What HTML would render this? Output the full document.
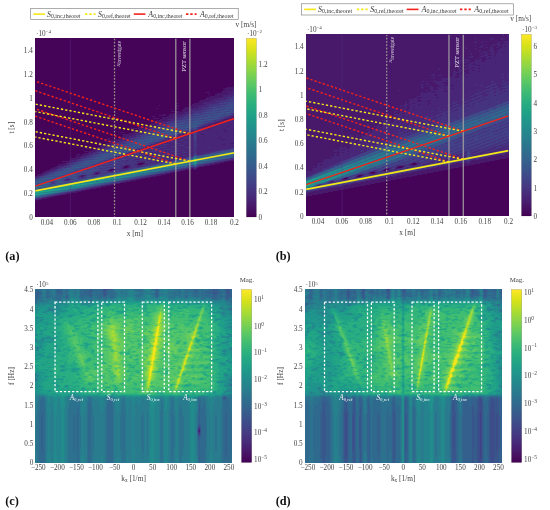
<!DOCTYPE html>
<html><head><meta charset="utf-8"><title>Figure</title>
<style>html,body{margin:0;padding:0;background:#fff}svg{display:block}text{font-family:"Liberation Serif", serif}</style>
</head><body>
<svg width="550" height="510" viewBox="0 0 550 510">
<rect width="550" height="510" fill="#fff"/>
<rect x="35" y="38" width="199" height="179" fill="#450457" shape-rendering="crispEdges"/><g fill="none" stroke-width="1" shape-rendering="crispEdges" transform="translate(0,0.5)"><path d="M233 86h1M227 87h7M223 88h11M225 89h9M223 90h11M222 91h12M206 92h4M221 92h13M217 93h17M208 94h2M215 94h19M215 95h19M210 96h24M207 97h27M206 98h28M204 99h30M200 100h34M199 101h35M199 102h35M176 103h2M194 103h40M192 104h42M159 105h1M176 105h3M192 105h42M175 106h3M189 106h45M185 107h49M156 108h2M175 108h4M184 108h50M171 109h2M183 109h51M181 110h53M171 111h9M182 111h52M176 112h58M172 113h62M163 114h3M169 114h65M159 115h6M169 115h65M152 116h3M167 116h67M162 117h72M153 118h6M162 118h72M147 119h2M160 119h74M157 120h77M150 121h5M156 121h78M154 122h80M151 123h83M150 124h84M136 125h5M150 125h84M138 126h2M145 126h89M138 127h96M131 128h103M138 129h96M132 130h102M131 131h103M120 132h4M133 132h101M129 133h105M122 134h112M123 135h111M122 136h112M119 137h115M108 138h2M118 138h116M104 139h6M116 139h118M109 140h125M104 141h130M98 142h3M109 142h125M106 143h128M98 144h136M98 145h136M86 146h3M100 146h134M97 147h137M86 148h4M95 148h139M94 149h140M91 150h143M84 151h4M89 151h145M88 152h146M84 153h150M77 154h3M82 154h152M76 155h2M81 155h153M77 156h157M75 157h159M70 158h164M71 159h163M69 160h165M62 161h166M66 162h158M63 163h76M144 163h76M58 164h80M142 164h73M58 165h152M56 166h69M128 166h76M53 167h71M127 167h72M51 168h146M50 169h61M114 169h77M194 169h2M47 170h62M112 170h73M44 171h136M43 172h131M41 173h55M98 173h72M38 174h128M37 175h124M35 176h121M35 177h115M35 178h110M35 179h105M35 180h101M35 181h96M35 182h91M35 183h85M35 184h80M35 185h76M35 186h71M35 187h66M35 188h61M35 189h55M35 190h50M35 191h46M35 192h42M35 193h36M35 194h31M35 195h25M35 196h20M35 197h16M35 198h12M35 199h7M35 200h1" stroke="#48186a"/><path d="M233 89h1M232 91h2M228 92h6M232 93h2M228 94h6M223 95h11M224 96h10M222 97h12M217 98h17M211 99h23M214 100h20M210 101h24M204 102h30M203 103h31M204 104h30M201 105h33M197 106h37M199 107h35M193 108h41M189 109h45M190 110h44M188 111h46M184 112h50M185 113h49M182 114h52M177 115h57M173 116h60M174 117h57M171 118h56M168 119h56M228 119h6M169 120h54M224 120h10M166 121h55M228 121h6M160 122h56M220 122h14M158 123h56M216 123h14M231 123h3M158 124h76M154 125h54M211 125h22M150 126h54M209 126h18M229 126h5M150 127h53M204 127h30M148 128h60M210 128h23M144 129h79M226 129h8M142 130h91M142 131h82M228 131h6M138 132h79M218 132h16M135 133h51M187 133h46M136 134h47M184 134h17M204 134h30M132 135h101M129 136h74M204 136h30M124 137h3M129 137h45M175 137h43M221 137h13M125 138h109M121 139h100M225 139h9M118 140h116M119 141h44M164 141h70M115 142h119M111 143h119M111 144h111M225 144h9M108 145h126M105 146h129M102 147h132M102 148h132M98 149h136M96 150h138M96 151h138M93 152h141M89 153h145M88 154h146M86 155h148M82 156h152M80 157h154M80 158h154M76 159h158M72 160h158M71 161h153M70 162h71M143 162h75M67 163h71M145 163h69M66 164h71M143 164h67M64 165h62M130 165h76M59 166h65M129 166h71M57 167h66M129 167h68M57 168h66M126 168h63M194 168h2M54 169h56M115 169h70M50 170h58M113 170h68M49 171h127M47 172h123M44 173h51M99 173h66M42 174h117M41 175h41M84 175h72M37 176h44M83 176h69M35 177h111M35 178h105M35 179h32M69 179h66M35 180h95M35 181h91M35 182h87M35 183h81M35 184h76M35 185h70M35 186h66M35 187h62M35 188h57M35 189h52M35 190h46M35 191h40M35 192h36M35 193h32M35 194h27M35 195h22M35 196h16M35 197h11M35 198h7M35 199h3" stroke="#482576"/><path d="M233 94h1M232 96h2M227 97h7M228 98h6M226 99h8M221 100h13M216 101h18M220 102h14M215 103h19M209 104h25M206 105h28M208 106h26M203 107h31M199 108h35M203 109h31M197 110h37M192 111h42M193 112h41M192 113h42M187 114h47M183 115h49M185 116h44M180 117h49M175 118h50M178 119h43M174 120h46M170 121h48M166 122h48M168 123h41M163 124h45M158 125h48M161 126h41M157 127h42M151 128h48M149 129h48M151 130h40M194 130h3M203 130h1M146 131h42M194 131h4M142 132h45M194 132h3M144 133h39M193 133h5M140 134h39M193 134h4M136 135h42M194 135h3M136 136h40M193 136h4M135 137h37M185 137h3M193 137h4M130 138h38M175 138h5M193 138h4M126 139h41M171 139h2M193 139h4M129 140h35M180 140h3M194 140h3M123 141h38M170 141h6M193 141h4M119 142h40M162 142h5M184 142h3M194 142h2M117 143h40M158 143h3M174 143h6M194 143h3M116 144h37M164 144h5M193 144h4M112 145h37M154 145h12M178 145h6M194 145h3M109 146h39M150 146h7M171 146h5M193 146h4M110 147h35M147 147h2M160 147h7M185 147h4M194 147h2M207 147h2M106 148h35M149 148h11M175 148h4M194 148h3M231 148h3M102 149h36M142 149h12M165 149h7M193 149h3M227 149h7M102 150h35M138 150h6M152 150h12M177 150h2M181 150h4M194 150h2M220 150h14M99 151h35M135 151h3M145 151h13M171 151h7M193 151h4M214 151h20M96 152h34M133 152h16M158 152h10M182 152h5M194 152h2M209 152h25M93 153h35M129 153h12M148 153h14M174 153h6M194 153h3M205 153h29M93 154h60M163 154h9M190 154h1M193 154h4M202 154h32M89 155h33M124 155h22M154 155h11M183 155h3M194 155h40M86 156h32M121 156h17M144 156h14M170 156h6M190 156h44M86 157h64M157 157h11M185 157h49M83 158h58M148 158h13M174 158h4M181 158h52M79 159h32M112 159h23M140 159h13M165 159h7M177 159h54M77 160h31M109 160h17M128 160h19M155 160h9M172 160h55M77 161h60M145 161h13M167 161h54M72 162h65M145 162h5M159 162h56M69 163h30M100 163h37M148 163h61M70 164h65M144 164h61M67 165h57M131 165h6M141 165h5M147 165h55M63 166h59M130 166h7M143 166h55M61 167h61M132 167h59M194 167h2M59 168h62M128 168h58M56 169h53M117 169h63M54 170h53M114 170h63M53 171h45M99 171h10M112 171h61M49 172h46M100 172h68M46 173h48M100 173h62M45 174h48M98 174h58M43 175h38M86 175h65M39 176h40M84 176h64M37 177h44M83 177h60M36 178h102M35 179h31M70 179h62M35 180h30M68 180h58M35 181h87M35 182h84M35 183h79M35 184h73M35 185h67M35 186h62M35 187h58M35 188h54M35 189h49M35 190h43M35 191h38M35 192h32M35 193h29M35 194h24M35 195h19M35 196h13M35 197h8M35 198h3" stroke="#46337f"/><path d="M233 97h1M230 99h4M226 100h8M231 101h3M224 102h10M219 103h15M226 104h8M219 105h15M213 106h21M209 107h9M220 107h14M213 108h21M207 109h27M202 110h32M206 111h28M202 112h32M195 113h37M192 114h8M202 114h31M195 115h35M190 116h35M184 117h40M189 118h34M183 119h36M178 120h35M174 121h40M178 122h33M172 123h35M167 124h36M169 125h34M167 126h33M160 127h37M156 128h41M160 129h36M154 130h34M150 131h34M194 131h2M153 132h31M195 132h1M149 133h32M194 133h2M144 134h33M194 134h2M140 135h34M194 135h2M142 136h31M194 136h2M138 137h31M194 137h2M133 138h32M194 138h2M136 139h28M194 139h2M131 140h31M195 140h1M127 141h32M194 141h2M124 142h30M126 143h28M195 143h1M120 144h31M195 144h1M116 145h31M119 146h26M195 146h1M114 147h29M109 148h30M106 149h29M229 149h5M108 150h27M222 150h12M103 151h29M217 151h17M98 152h30M213 152h21M100 153h24M133 153h3M195 153h1M210 153h24M97 154h27M194 154h2M205 154h29M92 155h29M194 155h3M198 155h36M92 156h24M193 156h41M91 157h24M119 157h5M187 157h47M86 158h27M115 158h2M184 158h46M82 159h27M121 159h5M181 159h44M83 160h22M111 160h10M175 160h48M79 161h25M106 161h9M129 161h2M168 161h51M75 162h26M104 162h1M113 162h10M163 162h50M74 163h24M106 163h11M132 163h1M158 163h49M73 164h21M98 164h11M123 164h2M156 164h45M69 165h24M94 165h8M111 165h9M151 165h47M66 166h24M92 166h6M100 166h13M145 166h52M67 167h19M89 167h17M117 167h3M139 167h50M62 168h22M86 168h13M106 168h4M133 168h50M58 169h50M129 169h48M58 170h21M80 170h21M116 170h3M126 170h46M56 171h19M77 171h18M102 171h5M121 171h49M51 172h43M101 172h4M115 172h50M49 173h44M106 173h54M49 174h18M68 174h23M99 174h55M45 175h19M65 175h15M87 175h61M41 176h37M85 176h8M96 176h48M40 177h39M86 177h55M39 178h39M82 178h54M35 179h30M71 179h59M35 180h29M69 180h55M35 181h19M55 181h64M35 182h17M54 182h61M35 183h17M54 183h57M35 184h71M35 185h65M35 186h59M35 187h54M35 188h51M35 189h47M35 190h41M35 191h36M35 192h30M35 193h25M35 194h22M35 195h17M35 196h12M35 197h6" stroke="#424086"/><path d="M229 102h5M230 104h4M223 105h9M231 106h3M225 107h9M217 108h12M212 109h6M226 109h8M220 110h13M212 111h13M230 111h4M205 112h11M221 112h13M214 113h15M206 114h16M226 114h4M200 115h11M216 115h12M193 116h8M208 116h15M201 117h16M194 118h15M213 118h7M187 119h13M204 119h12M183 120h2M194 120h17M189 121h15M181 122h28M176 123h8M190 123h14M183 124h16M176 125h24M169 126h13M185 126h13M168 127h3M178 127h18M170 128h17M194 128h2M164 129h15M182 129h8M157 130h11M172 130h14M165 131h15M158 132h19M152 133h14M167 133h12M149 134h5M160 134h15M152 135h16M146 136h24M141 137h26M147 138h16M140 139h18M134 140h26M130 141h27M135 142h16M129 143h15M145 143h4M123 144h26M129 145h16M123 146h17M117 147h24M113 148h7M121 148h16M116 149h17M231 149h3M111 150h19M225 150h9M106 151h24M221 151h13M111 152h15M219 152h15M105 153h16M213 153h21M99 154h22M207 154h27M96 155h23M195 155h1M201 155h33M99 156h15M193 156h41M94 157h15M192 157h42M88 158h22M189 158h39M94 159h14M183 159h39M87 160h16M177 160h41M82 161h18M170 161h46M78 162h22M165 162h46M81 163h15M163 163h42M76 164h15M158 164h40M71 165h20M95 165h2M153 165h44M72 166h17M146 166h45M193 166h3M70 167h14M96 167h3M140 167h47M65 168h15M87 168h7M135 168h46M61 169h20M83 169h3M133 169h42M64 170h13M89 170h8M128 170h41M58 171h15M81 171h10M123 171h42M54 172h18M74 172h8M117 172h46M54 173h16M71 173h5M86 173h6M111 173h47M52 174h14M69 174h13M107 174h45M47 175h15M66 175h12M104 175h42M44 176h17M62 176h12M87 176h3M98 176h42M45 177h21M70 177h8M93 177h44M40 178h14M57 178h9M71 178h5M87 178h47M36 179h16M54 179h10M73 179h55M35 180h27M70 180h7M78 180h44M35 181h12M48 181h4M57 181h14M74 181h42M35 182h8M45 182h6M55 182h9M69 182h42M35 183h6M42 183h9M56 183h52M35 184h15M52 184h52M36 185h63M35 186h58M35 187h52M35 188h47M35 189h44M35 190h40M35 191h34M35 192h28M35 193h22M35 194h18M35 195h15M35 196h10M35 197h4" stroke="#3e4c8a"/><path d="M229 107h3M231 109h3M224 110h4M226 112h5M218 113h6M212 114h4M213 116h7M206 117h5M198 118h4M209 119h4M200 120h6M192 121h7M193 123h9M188 124h9M180 125h5M195 125h1M190 126h7M182 127h8M175 128h6M168 129h4M177 130h6M169 131h9M161 132h8M173 133h3M164 134h8M157 135h8M150 136h5M160 137h5M151 138h9M144 139h8M138 140h4M147 141h7M138 142h10M132 143h8M141 144h5M134 145h8M126 146h9M121 147h4M128 148h8M121 149h10M114 150h8M124 151h4M230 151h4M115 152h9M222 152h12M108 153h10M216 153h18M103 154h6M209 154h25M111 155h5M203 155h31M103 156h9M194 156h40M96 157h9M193 157h39M192 158h34M97 159h8M185 159h35M91 160h9M179 160h35M85 161h6M173 161h40M94 162h3M168 162h41M84 163h10M167 163h36M78 164h10M161 164h36M74 165h3M154 165h36M194 165h2M79 166h8M148 166h38M194 166h2M72 167h10M142 167h43M67 168h8M138 168h42M76 169h1M136 169h37M67 170h8M130 170h37M61 171h10M124 171h37M57 172h4M75 172h2M118 172h40M62 173h6M72 173h1M113 173h43M54 174h10M109 174h41M50 175h8M68 175h7M106 175h38M63 176h6M100 176h38M49 177h8M60 177h2M74 177h2M94 177h39M42 178h11M88 178h43M38 179h8M54 179h9M84 179h43M44 180h5M51 180h7M72 180h2M81 180h40M36 181h9M48 181h3M58 181h5M76 181h39M35 182h6M46 182h3M56 182h5M71 182h38M42 183h8M65 183h39M35 184h3M39 184h8M55 184h47M36 185h61M35 186h13M52 186h39M35 187h7M47 187h38M35 188h4M41 188h38M35 189h41M35 190h38M35 191h32M35 192h26M35 193h20M35 194h15M35 195h13M35 196h8M35 197h3" stroke="#38588c"/><path d="M195 123h1M194 126h2M225 152h9M218 153h11M211 154h11M226 154h8M206 155h5M217 155h16M194 156h3M208 156h17M194 157h3M201 157h17M222 157h7M193 158h31M187 159h31M181 160h30M176 161h28M176 162h22M200 162h5M169 163h32M163 164h34M156 165h32M194 165h2M150 166h32M76 167h3M145 167h31M144 168h33M138 169h34M70 170h3M132 170h34M126 171h33M120 172h33M115 173h38M58 174h4M113 174h35M108 175h34M102 176h34M53 177h1M95 177h35M45 178h5M90 178h35M57 179h4M86 179h38M51 180h3M83 180h36M39 181h5M78 181h35M35 182h3M72 182h35M42 183h7M66 183h35M39 184h6M60 184h39M37 185h1M46 185h4M57 185h38M35 186h11M53 186h37M35 187h5M48 187h35M42 188h36M36 189h36M35 190h36M35 191h31M35 192h25M35 193h19M35 194h13M35 195h9M35 196h7M35 197h1" stroke="#33638d"/><path d="M228 152h5M220 153h5M230 154h4M220 155h10M195 156h1M211 156h11M194 157h2M203 157h12M193 158h14M215 158h6M189 159h9M204 159h12M183 160h5M193 160h16M187 161h14M179 162h18M171 163h16M192 163h6M164 164h15M180 164h16M157 165h30M152 166h28M154 167h19M147 168h23M140 169h30M133 170h31M127 171h30M121 172h29M119 173h26M116 174h31M109 175h32M103 176h32M96 177h32M91 178h31M89 179h33M86 180h32M79 181h33M73 182h32M43 183h4M67 183h32M40 184h2M62 184h32M59 185h34M38 186h5M55 186h33M35 187h2M49 187h33M43 188h33M37 189h32M35 190h32M35 191h29M35 192h24M35 193h18M35 194h11M35 195h5M35 196h4" stroke="#2e6d8e"/><path d="M214 156h4M195 157h1M205 157h7M194 158h10M193 159h4M209 159h4M193 160h4M200 160h7M190 161h9M181 162h11M193 162h4M173 163h10M193 163h4M166 164h9M186 164h4M194 164h2M160 165h6M176 165h9M166 166h12M157 167h14M149 168h14M142 169h13M163 169h4M135 170h12M152 170h10M129 171h27M124 172h3M128 172h2M131 172h18M125 173h17M118 174h17M111 175h28M104 176h30M98 177h29M94 178h26M93 179h21M87 180h29M80 181h31M74 182h30M68 183h29M64 184h27M62 185h26M56 186h31M50 187h31M44 188h31M38 189h30M35 190h27M35 191h27M35 192h22M35 193h16M35 194h10M35 195h4M35 196h1" stroke="#2a778e"/><path d="M194 158h3M193 159h4M194 160h3M192 161h5M185 162h3M194 162h2M176 163h4M194 163h3M168 164h4M194 164h2M180 165h1M169 166h6M160 167h9M151 168h10M143 169h9M136 170h8M156 170h4M131 171h4M145 171h9M136 172h11M127 173h13M119 174h13M112 175h12M133 175h3M106 176h10M122 176h10M100 177h7M112 177h13M103 178h15M95 179h16M88 180h16M81 181h15M98 181h11M75 182h28M70 183h26M70 184h19M64 185h19M58 186h26M51 187h29M45 188h28M40 189h27M38 190h22M35 191h18M35 192h21M35 193h15M35 194h8M35 195h2" stroke="#26828e"/><path d="M194 158h2M194 159h2M194 160h2M193 161h4M194 162h2M194 163h2M154 168h3M146 169h3M139 172h6M129 173h9M121 174h9M114 175h8M107 176h6M126 176h3M115 177h8M106 178h11M97 179h13M89 180h13M83 181h10M77 182h8M92 182h9M72 183h2M82 183h12M73 184h14M66 185h15M59 186h14M52 187h13M70 187h8M46 188h10M58 188h14M42 189h23M42 190h16M35 191h16M35 192h9M48 192h5M35 193h14M35 194h7M35 195h1" stroke="#228b8d"/><path d="M195 158h1M194 159h2M194 160h2M194 161h3M194 162h2M194 163h2M133 173h1M124 174h3M116 175h4M118 177h3M108 178h7M99 179h8M91 180h9M84 181h7M79 182h3M85 183h8M76 184h10M67 185h12M60 186h10M53 187h9M47 188h7M62 188h8M53 189h11M44 190h13M36 191h13M35 192h7M40 193h7M35 194h6" stroke="#1f958b"/><path d="M194 159h2M195 160h1M194 161h2M102 179h2M94 180h2M78 184h6M69 185h8M61 186h7M55 187h5M66 188h2M55 189h7M46 190h9M37 191h11M35 192h5M35 194h5" stroke="#1fa088"/><path d="M194 161h2M72 185h2M64 186h2M48 190h5M39 191h7M35 192h3M35 194h3" stroke="#23a983"/><path d="M195 161h1" stroke="#2eb37c"/></g>
<clipPath id="clip35"><rect x="35.20" y="38.40" width="199.20" height="178.60"/></clipPath>
<g clip-path="url(#clip35)" fill="none">
<line x1="70.59" y1="38.40" x2="70.59" y2="217.00" stroke="#5a3a8a" stroke-width="0.8" opacity="0.45"/>
<line x1="114.53" y1="38.40" x2="114.53" y2="217.00" stroke="#93908c" stroke-width="1.3" stroke-dasharray="1.8 1.5"/>
<line x1="175.81" y1="38.40" x2="175.81" y2="217.00" stroke="#a19ea1" stroke-width="1.2"/>
<line x1="189.87" y1="38.40" x2="189.87" y2="217.00" stroke="#a19ea1" stroke-width="1.2"/>
<line x1="175.81" y1="163.92" x2="35.20" y2="116.19" stroke="#f3221b" stroke-width="1.4" stroke-dasharray="2.3 2.0"/>
<line x1="189.87" y1="161.23" x2="35.20" y2="108.73" stroke="#f3221b" stroke-width="1.4" stroke-dasharray="2.3 2.0"/>
<line x1="175.81" y1="138.44" x2="35.20" y2="90.72" stroke="#f3221b" stroke-width="1.4" stroke-dasharray="2.3 2.0"/>
<line x1="189.87" y1="133.67" x2="35.20" y2="81.17" stroke="#f3221b" stroke-width="1.4" stroke-dasharray="2.3 2.0"/>
<line x1="175.81" y1="163.92" x2="35.20" y2="137.03" stroke="#f6e716" stroke-width="1.4" stroke-dasharray="2.3 2.0"/>
<line x1="189.87" y1="161.23" x2="35.20" y2="131.65" stroke="#f6e716" stroke-width="1.4" stroke-dasharray="2.3 2.0"/>
<line x1="175.81" y1="138.44" x2="35.20" y2="111.55" stroke="#f6e716" stroke-width="1.4" stroke-dasharray="2.3 2.0"/>
<line x1="189.87" y1="133.67" x2="35.20" y2="104.09" stroke="#f6e716" stroke-width="1.4" stroke-dasharray="2.3 2.0"/>
<line x1="35.20" y1="186.16" x2="234.40" y2="118.56" stroke="#f3221b" stroke-width="1.5"/>
<line x1="35.20" y1="190.81" x2="234.40" y2="152.71" stroke="#f6e716" stroke-width="1.7"/>
</g>
<text transform="translate(120.13,40.80) rotate(-90)" font-size="6.4" fill="#cfc8d6" text-anchor="end" font-style="italic">x<tspan font-size="5.3" dy="1.2" font-style="normal">investigate</tspan></text>
<text transform="translate(185.74,41.60) rotate(-90)" font-size="6.6" fill="#ece8f0" text-anchor="end">PZT sensor</text>
<text x="32.80" y="219.80" font-size="7.20" text-anchor="end" fill="#444">0</text>
<text x="32.80" y="195.99" font-size="7.20" text-anchor="end" fill="#444">0.2</text>
<text x="32.80" y="172.17" font-size="7.20" text-anchor="end" fill="#444">0.4</text>
<text x="32.80" y="148.36" font-size="7.20" text-anchor="end" fill="#444">0.6</text>
<text x="32.80" y="124.55" font-size="7.20" text-anchor="end" fill="#444">0.8</text>
<text x="32.80" y="100.73" font-size="7.20" text-anchor="end" fill="#444">1</text>
<text x="32.80" y="76.92" font-size="7.20" text-anchor="end" fill="#444">1.2</text>
<text x="32.80" y="53.11" font-size="7.20" text-anchor="end" fill="#444">1.4</text>
<text x="46.92" y="224.80" font-size="7.20" text-anchor="middle" fill="#444">0.04</text>
<text x="70.35" y="224.80" font-size="7.20" text-anchor="middle" fill="#444">0.06</text>
<text x="93.79" y="224.80" font-size="7.20" text-anchor="middle" fill="#444">0.08</text>
<text x="117.22" y="224.80" font-size="7.20" text-anchor="middle" fill="#444">0.1</text>
<text x="140.66" y="224.80" font-size="7.20" text-anchor="middle" fill="#444">0.12</text>
<text x="164.09" y="224.80" font-size="7.20" text-anchor="middle" fill="#444">0.14</text>
<text x="187.53" y="224.80" font-size="7.20" text-anchor="middle" fill="#444">0.16</text>
<text x="210.96" y="224.80" font-size="7.20" text-anchor="middle" fill="#444">0.18</text>
<text x="234.40" y="224.80" font-size="7.20" text-anchor="middle" fill="#444">0.2</text>
<text x="36.00" y="35.80" font-size="7.20" text-anchor="start" fill="#444">·10<tspan font-size="5.00" dy="-2.70">−4</tspan></text>
<text x="134.80" y="236.00" font-size="7.40" text-anchor="middle" fill="#444">x [m]</text>
<text transform="translate(13.60,127.70) rotate(-90)" font-size="7.4" fill="#444" text-anchor="middle">t [s]</text>
<linearGradient id="cb35" x1="0" y1="0" x2="0" y2="1"><stop offset="0.000" stop-color="#fde725"/><stop offset="0.062" stop-color="#d8e219"/><stop offset="0.125" stop-color="#addc30"/><stop offset="0.188" stop-color="#84d44b"/><stop offset="0.250" stop-color="#5ec962"/><stop offset="0.312" stop-color="#3fbc73"/><stop offset="0.375" stop-color="#28ae80"/><stop offset="0.438" stop-color="#1fa088"/><stop offset="0.500" stop-color="#21918c"/><stop offset="0.562" stop-color="#26828e"/><stop offset="0.625" stop-color="#2c728e"/><stop offset="0.688" stop-color="#33638d"/><stop offset="0.750" stop-color="#3b528b"/><stop offset="0.812" stop-color="#424086"/><stop offset="0.875" stop-color="#472d7b"/><stop offset="0.938" stop-color="#48186a"/><stop offset="1.000" stop-color="#440154"/></linearGradient>
<rect x="246.40" y="38.40" width="10.00" height="178.60" fill="url(#cb35)" stroke="#000" stroke-opacity="0.4" stroke-width="0.35"/>
<text x="258.60" y="219.90" font-size="7.20" text-anchor="start" fill="#444">0</text>
<text x="258.60" y="194.40" font-size="7.20" text-anchor="start" fill="#444">0.2</text>
<text x="258.60" y="168.90" font-size="7.20" text-anchor="start" fill="#444">0.4</text>
<text x="258.60" y="143.40" font-size="7.20" text-anchor="start" fill="#444">0.6</text>
<text x="258.60" y="117.90" font-size="7.20" text-anchor="start" fill="#444">0.8</text>
<text x="258.60" y="92.40" font-size="7.20" text-anchor="start" fill="#444">1</text>
<text x="258.60" y="66.90" font-size="7.20" text-anchor="start" fill="#444">1.2</text>
<text x="235.60" y="26.50" font-size="7.30" text-anchor="start" fill="#444">v [m/s]</text>
<text x="247.00" y="35.50" font-size="7.20" text-anchor="start" fill="#444">·10<tspan font-size="5.00" dy="-2.70">−2</tspan></text>
<rect x="30.70" y="8.60" width="207.50" height="11.00" fill="#fff" stroke="#777" stroke-width="0.6"/>
<line x1="33.40" y1="14.10" x2="45.00" y2="14.10" stroke="#f6e716" stroke-width="1.6"/>
<text x="47.00" y="16.50" font-size="7.90" text-anchor="start" fill="#3a3a3a" font-style="italic">S<tspan font-size="5.90" dy="1.30" font-style="normal">0,inc,theoret</tspan></text>
<line x1="85.00" y1="14.10" x2="95.60" y2="14.10" stroke="#f6e716" stroke-width="1.6" stroke-dasharray="2.4 1.9"/>
<text x="98.00" y="16.50" font-size="7.90" text-anchor="start" fill="#3a3a3a" font-style="italic">S<tspan font-size="5.90" dy="1.30" font-style="normal">0,ref,theoret</tspan></text>
<line x1="133.80" y1="14.10" x2="145.40" y2="14.10" stroke="#f3221b" stroke-width="1.6"/>
<text x="148.30" y="16.50" font-size="7.90" text-anchor="start" fill="#3a3a3a" font-style="italic">A<tspan font-size="5.90" dy="1.30" font-style="normal">0,inc,theoret</tspan></text>
<line x1="186.00" y1="14.10" x2="196.60" y2="14.10" stroke="#f3221b" stroke-width="1.6" stroke-dasharray="2.4 1.9"/>
<text x="200.00" y="16.50" font-size="7.90" text-anchor="start" fill="#3a3a3a" font-style="italic">A<tspan font-size="5.90" dy="1.30" font-style="normal">0,ref,theoret</tspan></text>
<rect x="306" y="34" width="203" height="182" fill="#450457" shape-rendering="crispEdges"/><g fill="none" stroke-width="1" shape-rendering="crispEdges" transform="translate(0,0.5)"><path d="M306 34h79M387 34h122M306 35h203M306 36h203M306 37h203M306 38h203M306 39h203M306 40h203M306 41h203M306 42h203M306 43h203M306 44h203M306 45h203M306 46h203M306 47h203M306 48h203M306 49h203M306 50h203M306 51h203M306 52h203M306 53h203M306 54h203M306 55h203M306 56h203M306 57h203M306 58h203M306 59h203M306 60h203M306 61h203M306 62h203M306 63h203M306 64h203M306 65h203M306 66h203M306 67h203M306 68h203M306 69h203M306 70h203M306 71h203M306 72h203M306 73h203M306 74h203M306 75h203M306 76h203M306 77h203M306 78h203M306 79h203M306 80h203M306 81h203M306 82h203M306 83h203M306 84h203M306 85h203M306 86h203M306 87h203M306 88h203M306 89h203M306 90h203M306 91h203M306 92h203M306 93h203M306 94h203M306 95h203M306 96h203M306 97h203M306 98h203M306 99h203M306 100h203M306 101h203M306 102h203M306 103h203M306 104h203M306 105h203M306 106h203M306 107h203M306 108h203M306 109h203M306 110h203M306 111h203M306 112h203M306 113h203M306 114h203M306 115h203M306 116h203M306 117h203M306 118h203M306 119h203M306 120h203M306 121h203M306 122h203M306 123h203M306 124h203M306 125h203M306 126h203M306 127h203M306 128h203M306 129h203M306 130h203M306 131h203M306 132h203M306 133h203M306 134h203M306 135h203M306 136h203M306 137h203M306 138h203M306 139h203M306 140h203M306 141h203M306 142h203M306 143h203M306 144h203M306 145h203M306 146h203M306 147h203M306 148h203M306 149h203M306 150h203M306 151h203M306 152h203M306 153h203M306 154h203M306 155h203M306 156h203M306 157h203M306 158h200M306 159h194M306 160h189M306 161h184M306 162h179M306 163h107M416 163h64M306 164h106M416 164h58M306 165h164M306 166h93M403 166h61M306 167h91M402 167h57M306 168h147M306 169h79M389 169h59M306 170h78M387 170h56M306 171h132M306 172h65M375 172h58M306 173h66M374 173h53M306 174h116M306 175h52M362 175h55M306 176h51M360 176h52M306 177h100M306 178h38M347 178h54M306 179h90M306 180h85M306 181h79M306 182h74M306 183h69M306 184h64M306 185h59M306 186h53M306 187h48M306 188h43M306 189h38M306 190h32M306 191h27M306 192h22M306 193h17M306 194h12M306 195h6M306 196h1" stroke="#48186a"/><path d="M502 34h2M507 34h2M475 35h1M502 35h2M507 35h2M507 36h2M508 37h1M475 38h1M491 38h3M501 38h4M475 39h1M490 39h3M501 39h2M508 39h1M475 41h2M482 41h1M485 41h2M503 41h6M474 42h3M481 42h2M497 42h4M505 42h4M497 43h3M505 43h3M486 44h1M493 44h7M502 44h7M474 45h2M481 45h3M491 45h3M498 45h7M506 45h3M465 46h1M480 46h3M491 46h1M498 46h1M503 46h1M506 46h3M465 47h1M479 47h3M486 47h2M490 47h3M496 47h3M502 47h7M458 48h2M465 48h2M475 48h2M490 48h4M500 48h9M490 49h3M499 49h10M479 50h2M488 50h6M497 50h12M469 51h2M479 51h2M483 51h5M490 51h5M497 51h12M482 52h4M490 52h4M498 52h5M505 52h4M471 53h1M480 53h3M485 53h3M490 53h4M496 53h13M470 54h2M481 54h1M484 54h5M491 54h18M482 55h6M491 55h3M496 55h13M470 56h4M480 56h4M486 56h8M495 56h14M460 57h2M468 57h5M478 57h3M485 57h5M491 57h18M486 58h2M491 58h18M463 59h5M475 59h2M479 59h3M487 59h22M443 60h1M453 60h2M459 60h11M475 60h7M485 60h24M458 61h3M466 61h3M475 61h6M485 61h24M449 62h2M454 62h2M457 62h4M464 62h4M471 62h2M474 62h21M496 62h13M449 63h2M453 63h3M458 63h3M464 63h1M469 63h5M475 63h34M449 64h2M459 64h1M468 64h4M476 64h33M449 65h1M459 65h1M465 65h12M480 65h29M454 66h1M459 66h2M464 66h3M468 66h41M459 67h2M468 67h4M474 67h5M480 67h29M439 68h1M448 68h2M458 68h3M465 68h6M473 68h5M480 68h29M438 69h2M454 69h1M458 69h3M463 69h4M469 69h40M454 70h1M459 70h3M469 70h3M475 70h9M485 70h24M453 71h3M458 71h4M468 71h10M480 71h29M448 72h2M453 72h8M463 72h3M469 72h9M479 72h30M453 73h3M462 73h3M469 73h40M432 74h3M441 74h1M453 74h3M459 74h3M465 74h44M430 75h5M438 75h4M453 75h4M459 75h2M462 75h47M452 76h3M460 76h6M468 76h41M433 77h2M448 77h7M458 77h51M431 78h3M441 78h68M442 79h67M434 80h1M442 80h4M448 80h8M457 80h52M422 81h2M426 81h2M433 81h13M447 81h62M422 82h1M436 82h6M448 82h61M426 83h2M435 83h10M449 83h60M421 84h2M426 84h3M438 84h7M448 84h4M453 84h56M421 85h2M439 85h4M447 85h4M454 85h55M421 86h2M429 86h3M437 86h1M441 86h11M453 86h56M421 87h3M430 87h4M438 87h71M422 88h1M430 88h3M438 88h6M446 88h6M454 88h55M430 89h3M437 89h72M398 90h2M426 90h2M431 90h14M447 90h62M431 91h2M436 91h8M447 91h62M421 92h1M427 92h5M435 92h74M421 93h88M421 94h14M438 94h71M420 95h14M437 95h72M417 96h92M416 97h1M422 97h14M439 97h70M414 98h3M420 98h89M409 99h9M419 99h90M409 100h4M414 100h3M422 100h7M431 100h78M410 101h7M421 101h5M430 101h79M405 102h2M409 102h100M405 103h2M409 103h3M415 103h13M431 103h78M404 104h4M410 104h8M420 104h7M429 104h80M400 105h1M402 105h6M409 105h100M400 106h2M403 106h4M409 106h4M415 106h94M400 107h1M405 107h2M410 107h99M394 108h4M401 108h6M409 108h100M394 109h2M401 109h5M409 109h4M415 109h94M405 110h104M395 111h3M400 111h1M403 111h106M394 112h2M400 112h109M399 113h3M405 113h104M388 114h2M394 114h115M394 115h115M384 116h1M394 116h1M398 116h4M404 116h105M383 117h2M388 117h2M394 117h115M394 118h115M384 119h1M394 119h115M373 120h1M378 120h2M382 120h9M394 120h115M383 121h7M394 121h115M383 122h5M391 122h6M399 122h110M372 123h3M380 123h129M367 124h2M378 124h2M382 124h127M366 125h3M377 125h2M383 125h126M365 126h4M374 126h5M382 126h4M387 126h122M377 127h8M387 127h122M368 128h1M376 128h5M382 128h127M367 129h3M374 129h135M372 130h13M387 130h122M368 131h2M372 131h137M367 132h3M371 132h138M368 133h1M370 133h139M368 134h141M350 135h3M357 135h1M361 135h2M365 135h144M351 136h1M356 136h2M362 136h147M351 137h1M356 137h1M361 137h148M350 138h3M355 138h3M359 138h150M350 139h1M355 139h6M363 139h146M354 140h2M360 140h149M351 141h4M358 141h151M350 142h4M357 142h152M351 143h5M359 143h150M350 144h159M350 145h159M351 146h158M339 147h3M344 147h3M350 147h159M340 148h6M349 148h160M339 149h3M345 149h164M333 150h8M343 150h5M349 150h160M334 151h3M339 151h9M349 151h160M340 152h2M344 152h165M335 153h2M339 153h3M343 153h164M334 154h3M340 154h165M334 155h2M339 155h158M503 155h1M330 156h2M334 156h158M332 157h156M331 158h153M324 159h155M324 160h148M323 161h147M322 162h140M464 162h6M318 163h94M418 163h38M459 163h1M467 163h2M318 164h2M323 164h87M417 164h35M317 165h3M321 165h91M414 165h33M313 166h2M317 166h81M404 166h36M317 167h80M403 167h33M313 168h75M389 168h7M399 168h32M312 169h72M390 169h36M313 170h70M388 170h33M306 171h5M312 171h105M306 172h64M376 172h35M308 173h62M375 173h30M307 174h94M306 175h52M363 175h34M306 176h51M361 176h29M392 176h4M306 177h41M348 177h37M306 178h37M348 178h32M306 179h36M346 179h29M306 180h64M306 181h25M333 181h32M306 182h54M306 183h47M306 184h45M306 185h39M348 185h1M306 186h36M343 186h1M306 187h28M306 188h22M306 189h18M306 190h13M306 191h7M306 192h3M306 193h2" stroke="#482576"/><path d="M502 74h2M501 75h1M507 75h2M502 77h2M501 78h1M508 78h1M503 80h2M491 81h3M502 81h2M481 82h1M491 82h1M505 82h4M494 83h3M503 83h4M475 84h2M491 84h5M501 84h4M507 84h2M474 85h1M481 85h2M490 85h3M505 85h4M487 86h4M495 86h3M503 86h6M485 87h3M491 87h6M501 87h8M490 88h3M498 88h2M506 88h3M487 89h5M496 89h3M503 89h6M477 90h2M484 90h5M491 90h8M501 90h8M483 91h3M490 91h4M497 91h7M507 91h2M479 92h4M487 92h6M496 92h5M503 92h6M469 93h1M476 93h5M486 93h13M501 93h8M474 94h5M490 94h5M496 94h13M464 95h1M472 95h2M479 95h4M488 95h6M496 95h13M470 96h3M477 96h6M485 96h24M475 97h4M482 97h7M490 97h19M465 98h1M472 98h4M480 98h5M487 98h22M461 99h3M470 99h5M477 99h6M485 99h24M460 100h1M467 100h3M474 100h6M483 100h7M491 100h18M449 101h1M456 101h1M464 101h4M472 101h6M480 101h29M453 102h4M463 102h4M469 102h40M443 103h1M452 103h3M468 103h5M475 103h34M448 104h2M456 104h4M464 104h8M473 104h15M489 104h20M447 105h3M453 105h5M462 105h5M470 105h39M452 106h3M459 106h7M468 106h5M474 106h35M448 107h4M456 107h6M465 107h6M473 107h36M438 108h2M447 108h4M453 108h56M444 109h1M452 109h4M459 109h7M467 109h42M443 110h1M448 110h6M457 110h6M465 110h44M431 111h2M439 111h3M446 111h6M454 111h55M443 112h5M451 112h58M442 113h4M449 113h7M457 113h52M431 114h2M438 114h7M446 114h63M428 115h1M436 115h4M443 115h66M426 116h3M435 116h3M441 116h6M448 116h8M457 116h52M424 117h4M430 117h4M438 117h71M427 118h5M437 118h72M426 119h3M434 119h6M441 119h6M448 119h61M423 120h5M432 120h4M438 120h7M447 120h62M422 121h1M430 121h4M437 121h72M418 122h3M426 122h3M434 122h75M416 123h4M423 123h5M431 123h78M415 124h2M420 124h6M428 124h6M436 124h73M411 125h1M418 125h5M426 125h6M434 125h75M408 126h3M415 126h15M431 126h78M405 127h3M413 127h5M421 127h88M410 128h6M419 128h5M426 128h83M408 129h5M415 129h94M398 130h2M406 130h2M414 130h95M403 131h3M410 131h99M399 132h5M408 132h5M415 132h94M398 133h4M405 133h104M402 134h5M410 134h99M392 135h4M399 135h110M392 136h2M398 136h111M389 137h1M396 137h113M378 138h1M384 138h2M393 138h4M398 138h111M383 139h2M389 139h120M388 140h121M377 141h3M384 141h125M382 142h4M388 142h121M380 143h5M386 143h123M378 144h131M376 145h124M502 145h6M372 146h3M378 146h127M371 147h123M496 147h6M506 147h3M367 148h3M373 148h119M495 148h5M504 148h3M367 149h1M371 149h110M482 149h7M492 149h5M361 150h3M367 150h111M480 150h6M490 150h4M500 150h3M505 150h4M360 151h3M366 151h109M478 151h5M487 151h4M496 151h13M363 152h102M466 152h6M476 152h4M485 152h2M492 152h14M355 153h1M360 153h102M464 153h7M473 153h4M484 153h2M489 153h14M351 154h2M358 154h101M462 154h13M480 154h17M351 155h1M356 155h100M459 155h5M467 155h5M476 155h15M353 156h100M457 156h4M466 156h22M350 157h101M454 157h4M464 157h19M349 158h91M442 158h6M452 158h3M460 158h18M346 159h99M448 159h4M456 159h16M343 160h99M447 160h23M341 161h91M434 161h5M444 161h18M468 161h1M338 162h75M416 162h13M432 162h5M439 162h17M336 163h74M420 163h6M430 163h22M334 164h74M418 164h5M427 164h20M331 165h71M406 165h4M416 165h25M329 166h68M405 166h5M413 166h24M327 167h69M403 167h4M410 167h22M324 168h62M391 168h4M401 168h4M406 168h21M322 169h62M390 169h4M397 169h25M322 170h60M393 170h24M318 171h54M376 171h5M386 171h3M390 171h22M316 172h53M379 172h27M314 173h54M377 173h24M312 174h48M364 174h6M375 174h21M310 175h47M364 175h28M308 176h48M362 176h23M306 177h40M349 177h6M358 177h22M306 178h37M349 178h28M306 179h35M347 179h23M306 180h60M306 181h24M334 181h27M306 182h24M333 182h22M306 183h45M306 184h40M306 185h12M319 185h22M306 186h30M306 187h24M306 188h19M306 189h14M306 190h9M306 191h4" stroke="#46337f"/><path d="M506 101h3M497 102h2M503 102h6M502 103h7M498 104h11M496 105h13M494 106h15M491 107h18M488 108h21M486 109h23M482 110h27M480 111h29M477 112h32M474 113h35M471 114h38M469 115h40M467 116h42M459 117h1M464 117h45M462 118h47M454 119h1M459 119h50M451 120h2M455 120h51M507 120h2M453 121h50M505 121h4M450 122h50M503 122h5M442 123h3M448 123h50M500 123h6M439 124h3M445 124h49M497 124h6M506 124h3M437 125h3M442 125h50M495 125h5M503 125h6M434 126h55M491 126h8M501 126h5M432 127h3M436 127h51M490 127h6M497 127h7M507 127h2M430 128h54M487 128h6M495 128h5M504 128h5M426 129h56M484 129h14M502 129h5M423 130h56M481 130h7M490 130h5M499 130h6M507 130h2M421 131h4M426 131h50M479 131h5M488 131h5M497 131h5M504 131h5M418 132h56M476 132h6M485 132h7M493 132h7M502 132h7M415 133h56M474 133h5M482 133h6M490 133h7M500 133h5M507 133h2M412 134h56M471 134h6M480 134h6M488 134h6M497 134h6M506 134h3M410 135h56M468 135h6M476 135h7M485 135h15M502 135h7M407 136h56M465 136h7M474 136h7M483 136h6M491 136h7M500 136h6M508 136h1M404 137h56M464 137h5M471 137h7M480 137h6M489 137h6M497 137h5M507 137h2M401 138h57M461 138h6M468 138h16M486 138h7M495 138h5M504 138h5M399 139h57M458 139h14M474 139h7M484 139h5M493 139h5M502 139h3M396 140h57M455 140h6M463 140h7M473 140h5M481 140h5M490 140h5M499 140h4M508 140h1M393 141h65M461 141h7M469 141h7M478 141h6M487 141h5M496 141h5M506 141h2M390 142h58M449 142h7M459 142h14M476 142h6M485 142h5M494 142h4M502 142h4M388 143h57M447 143h7M456 143h5M464 143h6M474 143h5M482 143h5M491 143h4M501 143h2M385 144h75M462 144h5M470 144h6M480 144h4M488 144h5M498 144h2M383 145h66M450 145h7M458 145h8M468 145h5M477 145h4M486 145h4M496 145h1M380 146h66M447 146h7M457 146h5M465 146h6M475 146h4M484 146h3M377 147h74M453 147h8M463 147h5M472 147h4M481 147h3M375 148h66M442 148h7M451 148h6M460 148h6M470 148h3M479 148h2M373 149h66M440 149h6M449 149h6M458 149h4M467 149h3M370 150h74M446 150h6M454 150h6M464 150h5M367 151h74M443 151h6M453 151h4M463 151h2M468 151h2M365 152h64M432 152h7M442 152h4M450 152h5M460 152h1M467 152h3M495 152h2M362 153h57M420 153h8M429 153h7M437 153h6M448 153h4M458 153h1M467 153h3M491 153h4M360 154h65M427 154h6M436 154h5M446 154h3M455 154h1M467 154h3M489 154h2M358 155h64M425 155h5M434 155h4M443 155h2M467 155h3M478 155h3M485 155h2M355 156h64M421 156h6M431 156h4M440 156h3M450 156h1M467 156h3M474 156h5M352 157h65M419 157h6M428 157h5M438 157h2M467 157h9M350 158h63M417 158h5M426 158h4M435 158h3M462 158h2M466 158h6M348 159h64M414 159h5M423 159h4M433 159h2M458 159h5M466 159h4M346 160h55M402 160h7M411 160h6M421 160h3M454 160h6M468 160h1M344 161h54M400 161h6M409 161h4M419 161h3M428 161h1M445 161h11M341 162h62M406 162h5M442 162h11M340 163h53M394 163h7M404 163h4M438 163h6M447 163h1M339 164h52M392 164h5M401 164h4M430 164h2M434 164h6M335 165h53M389 165h6M425 165h12M333 166h52M387 166h5M421 166h12M331 167h51M384 167h5M412 167h4M418 167h7M329 168h56M392 168h2M408 168h14M326 169h50M379 169h4M404 169h14M324 170h49M377 170h4M397 170h17M322 171h48M392 171h14M319 172h49M388 172h14M317 173h48M380 173h17M314 174h43M367 174h1M376 174h17M312 175h42M365 175h2M372 175h14M310 176h40M352 176h3M365 176h2M368 176h14M307 177h38M350 177h4M360 177h18M306 178h37M349 178h3M356 178h16M306 179h35M351 179h15M306 180h33M345 180h18M306 181h23M339 181h17M306 182h23M336 182h16M306 183h24M331 183h16M306 184h13M322 184h20M306 185h11M320 185h16M306 186h25M306 187h21M306 188h15M306 189h10M306 190h5M306 191h1" stroke="#424086"/><path d="M506 102h3M503 103h3M501 104h3M506 104h3M498 105h3M503 105h6M496 106h3M501 106h8M498 107h11M490 108h3M496 108h13M488 109h3M493 109h16M485 110h2M490 110h19M481 111h4M488 111h21M480 112h3M485 112h24M476 113h4M482 113h27M473 114h5M480 114h29M471 115h5M477 115h32M468 116h5M474 116h35M465 117h44M463 118h4M469 118h40M461 119h45M458 120h3M463 120h41M455 121h5M462 121h39M452 122h46M449 123h46M447 124h46M444 125h46M441 126h47M439 127h46M436 128h46M433 129h47M431 130h46M428 131h47M425 132h47M422 133h48M420 134h47M417 135h47M415 136h47M411 137h48M409 138h48M406 139h48M477 139h1M404 140h47M395 141h2M401 141h48M464 141h1M393 142h3M398 142h48M395 143h49M388 144h2M393 144h48M447 144h1M389 145h50M383 146h1M387 146h49M379 147h3M384 147h50M438 147h2M448 147h1M377 148h3M381 148h50M436 148h3M379 149h49M433 149h2M376 150h49M431 150h2M374 151h49M372 152h48M468 152h1M369 153h49M423 153h1M468 153h1M366 154h49M421 154h1M468 154h1M364 155h48M468 155h2M361 156h49M415 156h2M468 156h2M358 157h49M467 157h3M356 158h49M410 158h1M467 158h3M353 159h49M407 159h1M467 159h2M350 160h49M405 160h2M348 161h49M345 162h49M343 163h48M341 164h48M338 165h48M335 166h48M333 167h48M421 167h1M330 168h48M328 169h46M406 169h4M325 170h47M403 170h3M323 171h41M365 171h4M400 171h3M320 172h41M363 172h3M390 172h4M318 173h40M387 173h4M315 174h40M383 174h4M313 175h39M374 175h3M311 176h38M370 176h5M308 177h37M366 177h6M306 178h36M357 178h5M363 178h5M306 179h34M354 179h10M306 180h25M335 180h1M350 180h6M306 181h23M341 181h3M346 181h6M306 182h21M337 182h12M306 183h20M333 183h9M306 184h12M324 184h13M306 185h10M321 185h12M306 186h8M317 186h11M306 187h6M313 187h8M306 188h12M306 189h7M306 190h2" stroke="#3e4c8a"/><path d="M508 104h1M505 105h4M503 106h5M500 107h5M507 107h2M497 108h12M495 109h5M501 109h8M492 110h6M499 110h10M490 111h5M496 111h13M487 112h5M494 112h15M484 113h5M491 113h18M481 114h6M488 114h21M479 115h5M486 115h23M476 116h6M483 116h24M473 117h6M480 117h24M508 117h1M471 118h6M478 118h24M506 118h1M468 119h31M465 120h32M463 121h31M460 122h32M457 123h32M455 124h31M452 125h31M449 126h32M447 127h31M438 128h1M444 128h31M436 129h2M441 129h32M477 129h1M432 130h2M438 130h33M430 131h2M436 131h32M427 132h3M433 132h32M469 132h2M425 133h2M430 133h32M422 134h2M428 134h32M419 135h3M425 135h32M461 135h1M416 136h3M422 136h33M413 137h4M420 137h32M455 137h2M410 138h5M417 138h33M453 138h2M408 139h5M414 139h33M450 139h2M405 140h40M447 140h3M403 141h4M408 141h34M444 141h3M400 142h4M406 142h34M442 142h3M397 143h5M404 143h33M439 143h3M394 144h40M436 144h4M392 145h39M434 145h3M389 146h40M432 146h2M386 147h40M429 147h3M383 148h41M426 148h3M381 149h40M423 149h3M378 150h41M421 150h3M375 151h41M417 151h4M373 152h40M415 152h4M370 153h41M412 153h4M368 154h40M410 154h4M365 155h40M407 155h4M362 156h41M404 156h4M360 157h46M468 157h1M357 158h46M468 158h1M354 159h47M352 160h46M349 161h41M391 161h5M347 162h46M344 163h46M342 164h40M383 164h5M339 165h41M381 165h4M336 166h46M334 167h39M376 167h3M331 168h40M329 169h39M326 170h39M324 171h38M321 172h39M319 173h38M316 174h38M314 175h37M312 176h36M309 177h35M307 178h35M306 179h33M306 180h25M306 181h22M306 182h20M339 182h1M306 183h17M335 183h2M306 184h12M306 185h10M306 186h8M319 186h2M306 187h5M315 187h4M306 188h1" stroke="#38588c"/><path d="M507 105h1M502 107h1M506 108h3M497 109h1M503 109h5M500 110h5M491 111h2M498 111h5M506 111h3M495 112h5M503 112h6M493 113h4M501 113h5M483 114h1M490 114h5M498 114h6M507 114h2M481 115h1M487 115h5M495 115h6M504 115h4M485 116h4M493 116h6M502 116h4M475 117h2M482 117h5M490 117h6M498 117h5M472 118h2M480 118h4M488 118h5M496 118h5M470 119h2M477 119h5M485 119h5M493 119h5M467 120h3M474 120h5M482 120h6M491 120h4M464 121h3M471 121h6M480 121h5M488 121h5M462 122h2M469 122h5M476 122h6M486 122h4M459 123h2M466 123h6M474 123h6M483 123h5M456 124h3M463 124h6M471 124h7M480 124h5M454 125h2M461 125h5M469 125h5M478 125h4M450 126h4M458 126h6M466 126h6M475 126h4M448 127h4M455 127h6M463 127h6M473 127h4M445 128h4M452 128h6M461 128h6M470 128h4M443 129h4M450 129h6M458 129h7M467 129h5M440 130h4M447 130h7M455 130h7M464 130h5M437 131h4M444 131h6M453 131h6M462 131h4M435 132h3M442 132h7M450 132h7M459 132h5M432 133h4M440 133h6M447 133h7M457 133h4M429 134h4M437 134h6M445 134h6M454 134h4M427 135h4M434 135h15M451 135h5M424 136h4M431 136h7M439 136h7M448 136h6M421 137h5M429 137h6M437 137h7M446 137h5M418 138h5M426 138h15M443 138h5M415 139h6M423 139h7M431 139h7M440 139h6M413 140h5M420 140h7M428 140h8M438 140h5M410 141h6M418 141h7M426 141h8M435 141h6M408 142h6M415 142h16M432 142h6M405 143h23M430 143h5M395 144h2M402 144h6M409 144h24M393 145h2M399 145h24M424 145h6M390 146h2M397 146h23M421 146h6M387 147h3M394 147h24M419 147h6M385 148h3M391 148h31M382 149h3M388 149h31M379 150h4M386 150h31M376 151h4M383 151h31M374 152h4M380 152h32M371 153h4M377 153h32M369 154h4M375 154h32M366 155h4M372 155h32M364 156h4M369 156h33M361 157h4M366 157h33M359 158h4M364 158h32M356 159h3M361 159h33M353 160h5M359 160h32M350 161h4M356 161h33M348 162h38M345 163h38M343 164h38M340 165h38M338 166h37M335 167h37M332 168h38M330 169h37M327 170h37M325 171h36M322 172h37M320 173h36M317 174h36M315 175h35M313 176h34M312 177h32M310 178h31M308 179h26M306 180h24M306 181h22M306 182h19M306 183h16M306 184h11M306 185h9M306 186h7M306 187h4M306 188h1" stroke="#33638d"/><path d="M508 108h1M502 110h2M499 111h2M507 111h2M497 112h1M505 112h2M502 113h3M491 114h2M499 114h3M508 114h1M497 115h2M494 116h3M491 117h4M481 118h1M489 118h3M498 118h1M487 119h1M475 120h2M483 120h3M492 120h2M473 121h2M481 121h3M490 121h1M470 122h2M478 122h3M467 123h3M475 123h4M464 124h3M473 124h3M462 125h3M470 125h3M459 126h3M468 126h3M477 126h1M457 127h3M465 127h3M454 128h3M463 128h3M451 129h4M459 129h4M469 129h1M448 130h4M457 130h3M466 130h2M446 131h3M454 131h4M443 132h4M452 132h3M441 133h3M448 133h4M438 134h3M446 134h4M428 135h1M435 135h4M443 135h4M453 135h2M432 136h4M441 136h4M450 136h2M430 137h4M438 137h4M448 137h1M420 138h2M427 138h4M436 138h4M444 138h3M417 139h2M425 139h4M433 139h4M442 139h3M414 140h3M422 140h4M430 140h4M440 140h2M411 141h3M419 141h4M427 141h5M437 141h2M409 142h3M416 142h5M425 142h4M434 142h3M406 143h3M414 143h4M422 143h5M432 143h2M403 144h4M411 144h5M419 144h5M428 144h3M401 145h3M408 145h5M417 145h5M426 145h3M398 146h3M405 146h6M414 146h5M424 146h2M395 147h4M403 147h5M411 147h5M421 147h3M392 148h4M400 148h6M408 148h6M418 148h3M389 149h5M397 149h6M406 149h5M415 149h3M387 150h5M394 150h7M403 150h6M412 150h4M384 151h5M392 151h6M400 151h6M410 151h3M382 152h4M389 152h6M398 152h5M407 152h4M378 153h6M386 153h7M395 153h6M405 153h3M376 154h6M383 154h8M392 154h7M402 154h3M373 155h6M380 155h16M399 155h4M371 156h6M378 156h15M396 156h5M368 157h23M393 157h5M366 158h22M391 158h4M362 159h24M388 159h5M360 160h24M385 160h5M357 161h24M383 161h5M355 162h30M352 163h30M349 164h24M375 164h5M346 165h24M372 165h5M343 166h25M370 166h4M341 167h24M366 167h5M338 168h25M364 168h5M335 169h25M361 169h5M333 170h25M359 170h4M330 171h25M356 171h4M328 172h30M325 173h24M351 173h4M322 174h25M349 174h3M319 175h25M347 175h1M317 176h25M344 176h1M314 177h25M312 178h24M309 179h24M306 180h24M306 181h21M306 182h19M306 183h15M306 184h11M306 185h9M306 186h7M306 187h4" stroke="#2e6d8e"/><path d="M434 139h1M432 140h1M420 141h2M429 141h1M418 142h1M426 142h2M415 143h2M424 143h1M412 144h3M420 144h3M409 145h3M418 145h2M406 146h3M415 146h2M404 147h3M413 147h2M394 148h1M401 148h3M409 148h4M391 149h1M398 149h4M407 149h3M388 150h2M396 150h3M404 150h4M386 151h2M393 151h4M401 151h4M383 152h2M390 152h4M399 152h3M380 153h3M387 153h5M396 153h4M377 154h3M385 154h4M393 154h5M374 155h4M382 155h5M391 155h4M400 155h1M372 156h3M379 156h5M388 156h4M397 156h3M369 157h4M377 157h5M385 157h5M395 157h2M366 158h4M374 158h5M382 158h5M393 158h1M363 159h5M371 159h6M380 159h5M390 159h1M361 160h4M368 160h6M377 160h5M387 160h2M358 161h5M366 161h6M374 161h6M384 161h2M356 162h4M363 162h6M371 162h6M381 162h3M353 163h5M360 163h7M369 163h6M378 163h3M350 164h5M357 164h7M366 164h6M376 164h3M347 165h6M354 165h8M363 165h6M374 165h2M344 166h23M372 166h1M342 167h22M368 167h2M339 168h23M366 168h2M336 169h23M334 170h22M331 171h23M328 172h23M326 173h22M323 174h23M320 175h23M318 176h23M315 177h23M312 178h23M310 179h22M307 180h22M306 181h21M306 182h18M306 183h14M306 184h10M306 185h9M306 186h6M306 187h3" stroke="#2a778e"/><path d="M394 151h1M392 152h1M388 153h3M386 154h2M395 154h1M383 155h2M373 156h1M380 156h3M389 156h2M377 157h4M386 157h3M367 158h2M375 158h3M384 158h2M372 159h4M381 159h3M362 160h2M369 160h4M378 160h3M359 161h2M367 161h4M375 161h4M356 162h3M364 162h4M373 162h3M354 163h2M361 163h5M370 163h4M351 164h3M358 164h5M367 164h4M348 165h4M356 165h5M364 165h4M345 166h4M352 166h6M361 166h5M343 167h4M350 167h6M359 167h4M340 168h5M347 168h6M356 168h5M337 169h5M344 169h7M353 169h5M334 170h5M341 170h7M351 170h5M332 171h5M339 171h7M348 171h5M329 172h14M345 172h5M326 173h15M342 173h6M324 174h21M321 175h22M318 176h22M316 177h21M313 178h22M310 179h22M308 180h21M306 181h20M306 182h18M306 183h13M306 184h10M306 185h8M306 186h6M306 187h2" stroke="#26828e"/><path d="M373 159h1M370 160h2M368 161h1M365 162h2M374 162h1M362 163h2M359 164h3M349 165h1M356 165h4M366 165h1M346 166h2M353 166h4M362 166h3M344 167h2M351 167h4M360 167h3M341 168h2M348 168h4M357 168h3M338 169h3M345 169h5M354 169h3M335 170h3M342 170h5M352 170h3M333 171h3M340 171h5M349 171h3M330 172h4M337 172h5M346 172h3M327 173h4M334 173h6M343 173h4M324 174h4M331 174h6M340 174h4M322 175h4M328 175h7M338 175h4M319 176h5M326 176h6M335 176h4M316 177h14M332 177h5M314 178h14M329 178h5M311 179h14M326 179h5M308 180h21M306 181h20M306 182h17M306 183h9M306 184h9M306 185h8M306 186h5M306 187h1" stroke="#228b8d"/><path d="M355 166h1M352 167h2M349 168h3M346 169h3M343 170h3M334 171h1M340 171h4M350 171h1M331 172h1M338 172h4M328 173h2M335 173h4M344 173h2M325 174h2M332 174h5M341 174h3M322 175h3M329 175h5M339 175h2M320 176h3M326 176h6M336 176h2M317 177h3M323 177h6M333 177h3M314 178h4M321 178h6M330 178h3M312 179h3M318 179h6M328 179h3M309 180h4M315 180h7M325 180h3M306 181h5M312 181h7M322 181h3M306 182h11M320 182h2M306 183h8M306 184h6M306 185h4M311 185h2M306 186h1M309 186h1" stroke="#1f958b"/><path d="M341 171h2M338 172h3M336 173h2M333 174h3M330 175h3M327 176h4M318 177h1M324 177h4M315 178h2M321 178h5M312 179h3M319 179h5M329 179h1M310 180h2M316 180h5M326 180h1M307 181h3M313 181h6M323 181h1M306 182h1M310 182h6M307 183h7M306 184h5M306 185h3" stroke="#1fa088"/><path d="M334 174h1M331 175h2M328 176h2M325 177h3M322 178h3M319 179h4M317 180h4M308 181h1M314 181h4M311 182h5M308 183h5M306 184h5M306 185h2" stroke="#23a983"/><path d="M323 178h2M320 179h2M317 180h3M314 181h3M311 182h4M309 183h4M306 184h4M306 185h2" stroke="#2eb37c"/><path d="M315 181h2M312 182h2M309 183h3M306 184h4M306 185h1" stroke="#3fbc73"/><path d="M310 183h1M307 184h2" stroke="#52c569"/></g>
<clipPath id="clip306"><rect x="306.10" y="34.40" width="202.40" height="181.60"/></clipPath>
<g clip-path="url(#clip306)" fill="none">
<line x1="342.06" y1="34.40" x2="342.06" y2="216.00" stroke="#5a3a8a" stroke-width="0.8" opacity="0.45"/>
<line x1="386.70" y1="34.40" x2="386.70" y2="216.00" stroke="#93908c" stroke-width="1.3" stroke-dasharray="1.8 1.5"/>
<line x1="448.97" y1="34.40" x2="448.97" y2="216.00" stroke="#a19ea1" stroke-width="1.2"/>
<line x1="463.26" y1="34.40" x2="463.26" y2="216.00" stroke="#a19ea1" stroke-width="1.2"/>
<line x1="448.97" y1="162.02" x2="306.10" y2="113.50" stroke="#f3221b" stroke-width="1.4" stroke-dasharray="2.3 2.0"/>
<line x1="463.26" y1="159.29" x2="306.10" y2="105.91" stroke="#f3221b" stroke-width="1.4" stroke-dasharray="2.3 2.0"/>
<line x1="448.97" y1="136.12" x2="306.10" y2="87.60" stroke="#f3221b" stroke-width="1.4" stroke-dasharray="2.3 2.0"/>
<line x1="463.26" y1="131.27" x2="306.10" y2="77.89" stroke="#f3221b" stroke-width="1.4" stroke-dasharray="2.3 2.0"/>
<line x1="448.97" y1="162.02" x2="306.10" y2="134.68" stroke="#f6e716" stroke-width="1.4" stroke-dasharray="2.3 2.0"/>
<line x1="463.26" y1="159.29" x2="306.10" y2="129.21" stroke="#f6e716" stroke-width="1.4" stroke-dasharray="2.3 2.0"/>
<line x1="448.97" y1="136.12" x2="306.10" y2="108.78" stroke="#f6e716" stroke-width="1.4" stroke-dasharray="2.3 2.0"/>
<line x1="463.26" y1="131.27" x2="306.10" y2="101.19" stroke="#f6e716" stroke-width="1.4" stroke-dasharray="2.3 2.0"/>
<line x1="306.10" y1="184.64" x2="508.50" y2="115.90" stroke="#f3221b" stroke-width="1.5"/>
<line x1="306.10" y1="189.37" x2="508.50" y2="150.63" stroke="#f6e716" stroke-width="1.7"/>
</g>
<text transform="translate(392.30,36.80) rotate(-90)" font-size="6.4" fill="#cfc8d6" text-anchor="end" font-style="italic">x<tspan font-size="5.3" dy="1.2" font-style="normal">investigate</tspan></text>
<text transform="translate(459.01,37.60) rotate(-90)" font-size="6.6" fill="#ece8f0" text-anchor="end">PZT sensor</text>
<text x="303.70" y="218.80" font-size="7.20" text-anchor="end" fill="#444">0</text>
<text x="303.70" y="194.59" font-size="7.20" text-anchor="end" fill="#444">0.2</text>
<text x="303.70" y="170.37" font-size="7.20" text-anchor="end" fill="#444">0.4</text>
<text x="303.70" y="146.16" font-size="7.20" text-anchor="end" fill="#444">0.6</text>
<text x="303.70" y="121.95" font-size="7.20" text-anchor="end" fill="#444">0.8</text>
<text x="303.70" y="97.73" font-size="7.20" text-anchor="end" fill="#444">1</text>
<text x="303.70" y="73.52" font-size="7.20" text-anchor="end" fill="#444">1.2</text>
<text x="303.70" y="49.31" font-size="7.20" text-anchor="end" fill="#444">1.4</text>
<text x="318.01" y="223.80" font-size="7.20" text-anchor="middle" fill="#444">0.04</text>
<text x="341.82" y="223.80" font-size="7.20" text-anchor="middle" fill="#444">0.06</text>
<text x="365.63" y="223.80" font-size="7.20" text-anchor="middle" fill="#444">0.08</text>
<text x="389.44" y="223.80" font-size="7.20" text-anchor="middle" fill="#444">0.1</text>
<text x="413.25" y="223.80" font-size="7.20" text-anchor="middle" fill="#444">0.12</text>
<text x="437.06" y="223.80" font-size="7.20" text-anchor="middle" fill="#444">0.14</text>
<text x="460.88" y="223.80" font-size="7.20" text-anchor="middle" fill="#444">0.16</text>
<text x="484.69" y="223.80" font-size="7.20" text-anchor="middle" fill="#444">0.18</text>
<text x="508.50" y="223.80" font-size="7.20" text-anchor="middle" fill="#444">0.2</text>
<text x="306.90" y="31.80" font-size="7.20" text-anchor="start" fill="#444">·10<tspan font-size="5.00" dy="-2.70">−4</tspan></text>
<text x="407.30" y="235.00" font-size="7.40" text-anchor="middle" fill="#444">x [m]</text>
<text transform="translate(283.80,125.20) rotate(-90)" font-size="7.4" fill="#444" text-anchor="middle">t [s]</text>
<linearGradient id="cb306" x1="0" y1="0" x2="0" y2="1"><stop offset="0.000" stop-color="#fde725"/><stop offset="0.062" stop-color="#d8e219"/><stop offset="0.125" stop-color="#addc30"/><stop offset="0.188" stop-color="#84d44b"/><stop offset="0.250" stop-color="#5ec962"/><stop offset="0.312" stop-color="#3fbc73"/><stop offset="0.375" stop-color="#28ae80"/><stop offset="0.438" stop-color="#1fa088"/><stop offset="0.500" stop-color="#21918c"/><stop offset="0.562" stop-color="#26828e"/><stop offset="0.625" stop-color="#2c728e"/><stop offset="0.688" stop-color="#33638d"/><stop offset="0.750" stop-color="#3b528b"/><stop offset="0.812" stop-color="#424086"/><stop offset="0.875" stop-color="#472d7b"/><stop offset="0.938" stop-color="#48186a"/><stop offset="1.000" stop-color="#440154"/></linearGradient>
<rect x="521.50" y="34.40" width="9.90" height="181.60" fill="url(#cb306)" stroke="#000" stroke-opacity="0.4" stroke-width="0.35"/>
<text x="533.60" y="218.90" font-size="7.20" text-anchor="start" fill="#444">0</text>
<text x="533.60" y="190.60" font-size="7.20" text-anchor="start" fill="#444">1</text>
<text x="533.60" y="162.30" font-size="7.20" text-anchor="start" fill="#444">2</text>
<text x="533.60" y="134.00" font-size="7.20" text-anchor="start" fill="#444">3</text>
<text x="533.60" y="105.70" font-size="7.20" text-anchor="start" fill="#444">4</text>
<text x="533.60" y="77.40" font-size="7.20" text-anchor="start" fill="#444">5</text>
<text x="533.60" y="49.10" font-size="7.20" text-anchor="start" fill="#444">6</text>
<text x="510.30" y="21.40" font-size="7.30" text-anchor="start" fill="#444">v [m/s]</text>
<text x="522.10" y="31.50" font-size="7.20" text-anchor="start" fill="#444">·10<tspan font-size="5.00" dy="-2.70">−3</tspan></text>
<rect x="301.40" y="3.80" width="211.90" height="11.20" fill="#fff" stroke="#777" stroke-width="0.6"/>
<line x1="304.16" y1="9.40" x2="316.00" y2="9.40" stroke="#f6e716" stroke-width="1.6"/>
<text x="318.05" y="11.80" font-size="8.07" text-anchor="start" fill="#3a3a3a" font-style="italic">S<tspan font-size="6.03" dy="1.30" font-style="normal">0,inc,theoret</tspan></text>
<line x1="356.85" y1="9.40" x2="367.68" y2="9.40" stroke="#f6e716" stroke-width="1.6" stroke-dasharray="2.4 1.9"/>
<text x="370.13" y="11.80" font-size="8.07" text-anchor="start" fill="#3a3a3a" font-style="italic">S<tspan font-size="6.03" dy="1.30" font-style="normal">0,ref,theoret</tspan></text>
<line x1="406.69" y1="9.40" x2="418.53" y2="9.40" stroke="#f3221b" stroke-width="1.6"/>
<text x="421.49" y="11.80" font-size="8.07" text-anchor="start" fill="#3a3a3a" font-style="italic">A<tspan font-size="6.03" dy="1.30" font-style="normal">0,inc,theoret</tspan></text>
<line x1="459.99" y1="9.40" x2="470.82" y2="9.40" stroke="#f3221b" stroke-width="1.6" stroke-dasharray="2.4 1.9"/>
<text x="474.29" y="11.80" font-size="8.07" text-anchor="start" fill="#3a3a3a" font-style="italic">A<tspan font-size="6.03" dy="1.30" font-style="normal">0,ref,theoret</tspan></text>
<rect x="35" y="289" width="197" height="174" fill="#481d6f" shape-rendering="crispEdges"/><g fill="none" stroke-width="1" shape-rendering="crispEdges" transform="translate(0,0.5)"><path d="M35 289h197M35 290h197M35 291h197M35 292h197M35 293h197M35 294h197M35 295h197M35 296h197M35 297h197M35 298h197M35 299h197M35 300h197M35 301h197M35 302h197M35 303h197M35 304h197M35 305h197M35 306h197M35 307h197M35 308h197M35 309h197M35 310h197M35 311h197M35 312h197M35 313h197M35 314h197M35 315h197M35 316h197M35 317h197M35 318h197M35 319h197M35 320h197M35 321h197M35 322h197M35 323h197M35 324h197M35 325h197M35 326h197M35 327h197M35 328h197M35 329h197M35 330h197M35 331h197M35 332h197M35 333h197M35 334h197M35 335h197M35 336h197M35 337h197M35 338h197M35 339h197M35 340h197M35 341h197M35 342h197M35 343h197M35 344h197M35 345h197M35 346h197M35 347h197M35 348h197M35 349h197M35 350h197M35 351h197M35 352h197M35 353h197M35 354h197M35 355h197M35 356h197M35 357h197M35 358h197M35 359h197M35 360h197M35 361h197M35 362h197M35 363h197M35 364h197M35 365h197M35 366h197M35 367h197M35 368h197M35 369h197M35 370h197M35 371h197M35 372h197M35 373h197M35 374h197M35 375h197M35 376h197M35 377h197M35 378h197M35 379h197M35 380h197M35 381h197M35 382h197M35 383h197M35 384h197M35 385h197M35 386h197M35 387h197M35 388h197M35 389h197M35 390h197M35 391h197M35 392h197M35 393h197M35 394h197M35 395h197M35 396h197M35 397h197M35 398h197M35 399h197M35 400h197M35 401h197M35 402h197M35 403h197M35 404h197M35 405h197M35 406h197M35 407h197M35 408h197M35 409h197M35 410h197M35 411h197M35 412h197M35 413h197M35 414h197M35 415h197M35 416h197M35 417h197M35 418h197M35 419h197M35 420h197M35 421h197M35 422h197M35 423h197M35 424h197M35 425h197M35 426h197M35 427h197M35 428h197M35 429h197M35 430h164M200 430h32M35 431h164M200 431h32M35 432h197M35 433h197M35 434h197M35 435h197M35 436h197M35 437h197M35 438h197M35 439h197M35 440h197M35 441h197M35 442h197M35 443h197M35 444h197M35 445h197M35 446h197M35 447h197M35 448h197M35 449h197M35 450h197M35 451h197M35 452h197M35 453h197M35 454h197M35 455h197M35 456h197M35 457h197M35 458h197M35 459h197M35 460h197M35 461h197M35 462h197" stroke="#472d7b"/><path d="M35 289h197M35 290h197M35 291h197M35 292h197M35 293h197M35 294h197M35 295h197M35 296h197M35 297h197M35 298h197M35 299h197M35 300h197M35 301h197M35 302h197M35 303h197M35 304h197M35 305h197M35 306h197M35 307h197M35 308h197M35 309h197M35 310h197M35 311h197M35 312h197M35 313h197M35 314h197M35 315h197M35 316h197M35 317h197M35 318h197M35 319h197M35 320h197M35 321h197M35 322h197M35 323h197M35 324h197M35 325h197M35 326h197M35 327h197M35 328h197M35 329h197M35 330h197M35 331h197M35 332h197M35 333h197M35 334h197M35 335h197M35 336h197M35 337h197M35 338h197M35 339h197M35 340h197M35 341h197M35 342h197M35 343h197M35 344h197M35 345h197M35 346h197M35 347h197M35 348h197M35 349h197M35 350h197M35 351h197M35 352h197M35 353h197M35 354h197M35 355h197M35 356h197M35 357h197M35 358h197M35 359h197M35 360h197M35 361h197M35 362h197M35 363h197M35 364h197M35 365h197M35 366h197M35 367h197M35 368h197M35 369h197M35 370h197M35 371h197M35 372h197M35 373h197M35 374h197M35 375h197M35 376h197M35 377h197M35 378h197M35 379h197M35 380h197M35 381h197M35 382h197M35 383h197M35 384h197M35 385h197M35 386h197M35 387h197M35 388h197M35 389h197M35 390h197M35 391h197M35 392h197M35 393h197M35 394h197M35 395h197M35 396h197M35 397h197M35 398h197M35 399h197M35 400h197M35 401h197M35 402h197M35 403h197M35 404h197M35 405h197M35 406h197M35 407h197M35 408h197M35 409h197M35 410h197M35 411h197M35 412h197M35 413h197M35 414h197M35 415h197M35 416h197M35 417h197M35 418h197M35 419h197M35 420h197M35 421h197M35 422h197M35 423h197M35 424h197M35 425h197M35 426h197M35 427h197M35 428h197M35 429h164M200 429h32M35 430h163M200 430h32M35 431h163M200 431h32M35 432h164M200 432h32M35 433h197M35 434h197M35 435h197M35 436h197M35 437h197M35 438h197M35 439h197M35 440h197M35 441h197M35 442h197M35 443h197M35 444h197M35 445h197M35 446h197M35 447h197M35 448h197M35 449h197M35 450h197M35 451h197M35 452h197M35 453h197M35 454h197M35 455h197M35 456h197M35 457h197M35 458h197M35 459h197M35 460h197M35 461h197M35 462h197" stroke="#453882"/><path d="M35 289h197M35 290h197M35 291h197M35 292h197M35 293h197M35 294h197M35 295h197M35 296h197M35 297h197M35 298h197M35 299h197M35 300h197M35 301h197M35 302h197M35 303h197M35 304h197M35 305h197M35 306h197M35 307h197M35 308h197M35 309h197M35 310h197M35 311h197M35 312h197M35 313h197M35 314h197M35 315h197M35 316h197M35 317h197M35 318h197M35 319h197M35 320h197M35 321h197M35 322h197M35 323h197M35 324h197M35 325h197M35 326h197M35 327h197M35 328h197M35 329h197M35 330h197M35 331h197M35 332h197M35 333h197M35 334h197M35 335h197M35 336h197M35 337h197M35 338h197M35 339h197M35 340h197M35 341h197M35 342h197M35 343h197M35 344h197M35 345h197M35 346h197M35 347h197M35 348h197M35 349h197M35 350h197M35 351h197M35 352h197M35 353h197M35 354h197M35 355h197M35 356h197M35 357h197M35 358h197M35 359h197M35 360h197M35 361h197M35 362h197M35 363h197M35 364h197M35 365h197M35 366h197M35 367h197M35 368h197M35 369h197M35 370h197M35 371h197M35 372h197M35 373h197M35 374h197M35 375h197M35 376h197M35 377h197M35 378h197M35 379h197M35 380h197M35 381h197M35 382h197M35 383h197M35 384h197M35 385h197M35 386h197M35 387h197M35 388h197M35 389h197M35 390h197M35 391h197M35 392h197M35 393h197M35 394h197M35 395h197M35 396h197M35 397h197M35 398h197M35 399h197M35 400h197M35 401h197M35 402h197M35 403h197M35 404h197M35 405h197M35 406h197M35 407h197M35 408h197M35 409h197M35 410h197M35 411h197M35 412h197M35 413h197M35 414h197M35 415h197M35 416h197M35 417h197M35 418h197M35 419h197M35 420h197M35 421h197M35 422h197M35 423h197M35 424h197M35 425h197M35 426h197M35 427h197M35 428h164M200 428h32M35 429h163M200 429h32M35 430h163M200 430h32M35 431h163M200 431h32M35 432h163M200 432h32M35 433h164M200 433h32M35 434h197M35 435h197M35 436h197M35 437h197M35 438h197M35 439h197M35 440h197M35 441h197M35 442h197M35 443h197M35 444h197M35 445h197M35 446h197M35 447h197M35 448h197M35 449h197M35 450h197M35 451h197M35 452h197M35 453h197M35 454h197M35 455h197M35 456h197M35 457h197M35 458h197M35 459h197M35 460h197M35 461h197M35 462h197" stroke="#414287"/><path d="M35 289h197M35 290h197M35 291h197M35 292h197M35 293h197M35 294h197M35 295h197M35 296h197M35 297h197M35 298h197M35 299h197M35 300h197M35 301h197M35 302h197M35 303h197M35 304h197M35 305h197M35 306h197M35 307h197M35 308h197M35 309h197M35 310h197M35 311h197M35 312h197M35 313h197M35 314h197M35 315h197M35 316h197M35 317h197M35 318h197M35 319h197M35 320h197M35 321h197M35 322h197M35 323h197M35 324h197M35 325h197M35 326h197M35 327h197M35 328h197M35 329h197M35 330h197M35 331h197M35 332h197M35 333h197M35 334h197M35 335h197M35 336h197M35 337h197M35 338h197M35 339h197M35 340h197M35 341h197M35 342h197M35 343h197M35 344h197M35 345h197M35 346h197M35 347h197M35 348h197M35 349h197M35 350h197M35 351h197M35 352h197M35 353h197M35 354h197M35 355h197M35 356h197M35 357h197M35 358h197M35 359h197M35 360h197M35 361h197M35 362h197M35 363h197M35 364h197M35 365h197M35 366h197M35 367h197M35 368h197M35 369h197M35 370h197M35 371h197M35 372h197M35 373h197M35 374h197M35 375h197M35 376h197M35 377h197M35 378h197M35 379h197M35 380h197M35 381h197M35 382h197M35 383h197M35 384h197M35 385h197M35 386h197M35 387h197M35 388h197M35 389h197M35 390h197M35 391h197M35 392h197M35 393h197M35 394h197M35 395h197M35 396h197M35 397h197M35 398h197M35 399h197M35 400h197M35 401h197M35 402h197M35 403h197M35 404h197M35 405h197M35 406h197M35 407h197M35 408h197M35 409h197M35 410h197M35 411h197M35 412h197M35 413h197M35 414h197M35 415h197M35 416h197M35 417h197M35 418h197M35 419h197M35 420h197M35 421h197M35 422h197M35 423h197M35 424h197M35 425h197M35 426h197M35 427h164M200 427h32M35 428h163M200 428h32M35 429h163M200 429h32M35 430h163M200 430h32M35 431h163M200 431h32M35 432h163M200 432h32M35 433h163M200 433h32M35 434h164M200 434h32M35 435h197M35 436h197M35 437h197M35 438h197M35 439h197M35 440h197M35 441h197M35 442h197M35 443h197M35 444h197M35 445h197M35 446h197M35 447h197M35 448h197M35 449h197M35 450h197M35 451h197M35 452h197M35 453h197M35 454h197M35 455h197M35 456h197M35 457h197M35 458h197M35 459h197M35 460h197M35 461h197M35 462h197" stroke="#3d4d8a"/><path d="M35 289h69M106 289h126M35 290h69M106 290h126M35 291h197M35 292h197M35 293h197M35 294h197M35 295h197M35 296h197M35 297h197M35 298h197M35 299h197M35 300h197M35 301h197M35 302h197M35 303h197M35 304h197M35 305h197M35 306h197M35 307h197M35 308h197M35 309h197M35 310h197M35 311h197M35 312h197M35 313h197M35 314h197M35 315h197M35 316h197M35 317h197M35 318h197M35 319h197M35 320h197M35 321h197M35 322h197M35 323h197M35 324h197M35 325h197M35 326h197M35 327h197M35 328h197M35 329h197M35 330h197M35 331h197M35 332h197M35 333h197M35 334h197M35 335h197M35 336h197M35 337h197M35 338h197M35 339h197M35 340h197M35 341h197M35 342h197M35 343h197M35 344h197M35 345h197M35 346h197M35 347h197M35 348h197M35 349h197M35 350h197M35 351h197M35 352h197M35 353h197M35 354h197M35 355h197M35 356h197M35 357h197M35 358h197M35 359h197M35 360h197M35 361h197M35 362h197M35 363h197M35 364h197M35 365h197M35 366h197M35 367h197M35 368h197M35 369h197M35 370h197M35 371h197M35 372h197M35 373h197M35 374h197M35 375h197M35 376h197M35 377h197M35 378h197M35 379h197M35 380h197M35 381h197M35 382h197M35 383h197M35 384h197M35 385h197M35 386h197M35 387h197M35 388h197M35 389h197M35 390h197M35 391h197M35 392h197M35 393h197M35 394h197M35 395h197M35 396h197M35 397h189M225 397h7M35 398h189M225 398h7M35 399h197M35 400h197M35 401h197M35 402h197M35 403h197M35 404h197M35 405h197M35 406h197M35 407h197M35 408h197M35 409h197M35 410h197M35 411h197M35 412h197M35 413h197M35 414h197M35 415h197M35 416h197M35 417h197M35 418h197M35 419h197M35 420h197M35 421h197M35 422h197M35 423h197M35 424h197M35 425h197M35 426h164M200 426h32M35 427h163M200 427h32M35 428h163M200 428h32M35 429h163M201 429h31M35 430h163M201 430h31M35 431h163M201 431h31M35 432h163M201 432h31M35 433h163M200 433h32M35 434h163M200 434h32M35 435h164M200 435h32M35 436h197M35 437h197M35 438h197M35 439h197M35 440h197M35 441h197M35 442h197M35 443h197M35 444h197M35 445h197M35 446h197M35 447h197M35 448h197M35 449h197M35 450h197M35 451h197M35 452h197M35 453h197M35 454h197M35 455h197M35 456h197M35 457h197M35 458h197M35 459h197M35 460h197M35 461h197M35 462h197" stroke="#39568c"/><path d="M35 289h68M108 289h48M157 289h56M218 289h8M230 289h2M35 290h55M92 290h11M107 290h106M214 290h12M229 290h3M35 291h55M91 291h13M106 291h107M215 291h11M229 291h3M35 292h68M106 292h107M217 292h10M230 292h2M35 293h69M106 293h107M217 293h10M230 293h2M35 294h69M106 294h126M35 295h55M91 295h13M106 295h122M229 295h3M35 296h196M35 297h192M228 297h4M35 298h197M35 299h197M35 300h197M35 301h197M35 302h197M35 303h197M35 304h197M35 305h197M35 306h197M35 307h197M35 308h197M35 309h197M35 310h197M35 311h197M35 312h197M35 313h197M35 314h197M35 315h197M35 316h197M35 317h197M35 318h197M35 319h197M35 320h197M35 321h197M35 322h197M35 323h197M35 324h197M35 325h197M35 326h197M35 327h197M35 328h197M35 329h197M35 330h197M35 331h197M35 332h197M35 333h197M35 334h197M35 335h197M35 336h197M35 337h197M35 338h197M35 339h197M35 340h197M35 341h197M35 342h197M35 343h197M35 344h197M35 345h197M35 346h197M35 347h197M35 348h197M35 349h197M35 350h197M35 351h197M35 352h197M35 353h197M35 354h197M35 355h197M35 356h197M35 357h197M35 358h197M35 359h197M35 360h197M35 361h197M35 362h197M35 363h197M35 364h197M35 365h197M35 366h197M35 367h197M35 368h197M35 369h197M35 370h197M35 371h197M35 372h197M35 373h197M35 374h197M35 375h197M35 376h197M35 377h197M35 378h197M35 379h197M35 380h197M35 381h197M35 382h197M35 383h197M35 384h197M35 385h197M35 386h197M35 387h197M35 388h197M35 389h197M35 390h197M35 391h197M35 392h197M35 393h197M35 394h197M35 395h197M35 396h197M35 397h188M225 397h7M35 398h188M225 398h7M35 399h197M35 400h197M35 401h197M35 402h197M35 403h197M35 404h197M35 405h197M35 406h197M35 407h197M35 408h197M35 409h197M35 410h197M35 411h197M35 412h197M35 413h197M35 414h197M35 415h197M35 416h197M35 417h197M35 418h197M35 419h197M35 420h197M35 421h197M35 422h197M35 423h197M35 424h164M200 424h32M35 425h163M200 425h32M35 426h163M200 426h32M35 427h163M201 427h31M35 428h163M201 428h31M35 429h163M201 429h31M35 430h163M201 430h31M35 431h163M201 431h31M35 432h163M201 432h31M35 433h163M201 433h31M35 434h163M201 434h31M35 435h163M200 435h32M35 436h163M200 436h32M35 437h164M200 437h32M35 438h197M35 439h197M35 440h197M35 441h197M35 442h197M35 443h197M35 444h197M35 445h197M35 446h197M35 447h197M35 448h197M35 449h197M35 450h197M35 451h197M35 452h197M35 453h197M35 454h197M35 455h197M35 456h197M35 457h197M35 458h197M35 459h197M35 460h197M35 461h197M35 462h197" stroke="#34608d"/><path d="M35 289h22M62 289h19M83 289h7M92 289h10M112 289h43M158 289h36M198 289h14M219 289h6M231 289h1M35 290h1M38 290h19M61 290h28M93 290h9M108 290h48M158 290h38M197 290h12M219 290h6M35 291h2M38 291h19M62 291h23M87 291h1M92 291h11M107 291h49M158 291h37M198 291h11M211 291h1M219 291h6M231 291h1M35 292h1M41 292h15M62 292h22M87 292h1M92 292h10M107 292h49M158 292h47M222 292h3M231 292h1M42 293h15M62 293h23M87 293h2M91 293h11M107 293h48M158 293h50M218 293h8M35 294h1M39 294h8M48 294h39M92 294h11M107 294h48M158 294h55M218 294h8M35 295h1M38 295h51M92 295h11M107 295h49M158 295h55M217 295h9M39 296h8M49 296h17M68 296h22M92 296h11M106 296h50M158 296h55M217 296h3M222 296h4M35 297h1M38 297h28M67 297h145M216 297h10M230 297h2M35 298h179M215 298h11M229 298h3M35 299h191M228 299h4M36 300h196M35 301h196M35 302h197M35 303h197M35 304h197M35 305h197M35 306h197M35 307h197M35 308h197M35 309h197M35 310h197M35 311h197M35 312h197M35 313h197M35 314h197M35 315h197M35 316h197M35 317h197M35 318h197M35 319h197M35 320h197M35 321h197M35 322h197M35 323h197M35 324h197M35 325h197M35 326h197M35 327h197M35 328h197M35 329h197M35 330h197M35 331h197M35 332h197M35 333h197M35 334h197M35 335h197M35 336h197M35 337h197M35 338h197M35 339h197M35 340h197M35 341h197M35 342h197M35 343h197M35 344h197M35 345h197M35 346h197M35 347h197M35 348h197M35 349h197M35 350h197M35 351h197M35 352h197M35 353h197M35 354h197M35 355h197M35 356h197M35 357h197M35 358h197M35 359h197M35 360h197M35 361h197M35 362h197M35 363h197M35 364h197M35 365h197M35 366h197M35 367h197M35 368h197M35 369h197M35 370h197M35 371h197M35 372h197M35 373h197M35 374h197M35 375h197M35 376h197M35 377h197M35 378h197M35 379h197M35 380h197M35 381h197M35 382h197M35 383h197M35 384h197M35 385h197M35 386h197M35 387h197M35 388h197M35 389h197M35 390h197M35 391h197M35 392h197M35 393h197M35 394h197M35 395h197M35 396h197M35 397h188M226 397h6M35 398h188M226 398h6M35 399h188M226 399h6M35 400h197M35 401h197M35 402h197M35 403h197M35 404h197M35 405h164M200 405h32M35 406h164M200 406h32M35 407h164M200 407h32M35 408h164M200 408h32M35 409h164M200 409h32M35 410h164M200 410h32M35 411h164M200 411h32M35 412h164M200 412h32M35 413h164M200 413h25M227 413h5M35 414h7M43 414h156M200 414h25M227 414h5M35 415h6M43 415h156M200 415h25M227 415h5M35 416h6M43 416h156M200 416h25M227 416h5M35 417h6M43 417h156M200 417h25M227 417h5M35 418h6M43 418h156M200 418h25M227 418h5M35 419h6M43 419h156M200 419h25M227 419h5M35 420h6M43 420h156M200 420h25M227 420h5M35 421h6M43 421h156M200 421h25M227 421h5M35 422h6M43 422h155M200 422h25M227 422h5M35 423h6M43 423h155M200 423h25M227 423h5M35 424h6M43 424h155M201 424h24M227 424h5M35 425h6M43 425h155M201 425h24M227 425h5M35 426h6M43 426h155M201 426h24M227 426h5M35 427h6M43 427h155M201 427h24M227 427h5M35 428h6M43 428h155M201 428h24M227 428h5M35 429h6M43 429h154M201 429h24M227 429h5M35 430h6M43 430h154M201 430h24M227 430h5M35 431h6M43 431h154M201 431h24M227 431h5M35 432h6M43 432h154M201 432h24M227 432h5M35 433h6M43 433h155M201 433h24M227 433h5M35 434h6M43 434h155M201 434h24M227 434h5M35 435h6M43 435h155M201 435h24M227 435h5M35 436h6M43 436h155M201 436h24M227 436h5M35 437h6M43 437h155M201 437h24M227 437h5M35 438h6M43 438h155M200 438h25M227 438h5M35 439h6M43 439h155M200 439h25M227 439h5M35 440h6M43 440h156M200 440h25M227 440h5M35 441h6M43 441h156M200 441h25M227 441h5M35 442h6M43 442h156M200 442h25M227 442h5M35 443h6M43 443h156M200 443h25M227 443h5M35 444h6M43 444h156M200 444h25M227 444h5M35 445h6M43 445h156M200 445h25M227 445h5M35 446h6M43 446h156M200 446h25M227 446h5M35 447h6M43 447h156M200 447h25M227 447h5M35 448h6M43 448h156M200 448h25M227 448h5M35 449h6M43 449h156M200 449h25M227 449h5M35 450h6M43 450h156M200 450h25M227 450h5M35 451h6M43 451h156M200 451h25M227 451h5M35 452h7M43 452h156M200 452h25M227 452h5M35 453h7M43 453h156M200 453h25M227 453h5M35 454h164M200 454h25M227 454h5M35 455h164M200 455h25M226 455h6M35 456h164M200 456h32M35 457h164M200 457h32M35 458h164M200 458h32M35 459h164M200 459h32M35 460h164M200 460h32M35 461h164M200 461h32M35 462h164M200 462h32" stroke="#30698e"/><path d="M35 289h1M42 289h4M49 289h7M63 289h3M68 289h12M94 289h1M113 289h27M141 289h11M159 289h19M180 289h6M199 289h3M203 289h6M220 289h3M39 290h8M49 290h7M62 290h4M68 290h13M82 290h2M94 290h1M113 290h25M142 290h13M159 290h26M186 290h7M199 290h2M222 290h2M35 291h1M41 291h6M49 291h7M63 291h2M68 291h12M98 291h1M113 291h42M159 291h20M180 291h5M188 291h5M199 291h3M223 291h1M42 292h5M49 292h6M63 292h2M67 292h13M93 292h3M97 292h1M114 292h41M159 292h15M176 292h2M181 292h4M188 292h3M199 292h3M42 293h4M50 293h6M63 293h17M93 293h2M97 293h2M116 293h25M142 293h12M159 293h15M175 293h4M180 293h13M198 293h3M204 293h1M222 293h3M42 294h4M49 294h7M63 294h3M68 294h12M93 294h2M113 294h42M159 294h35M198 294h3M203 294h3M222 294h3M41 295h6M49 295h7M62 295h4M68 295h12M93 295h4M107 295h3M114 295h41M159 295h15M175 295h11M188 295h7M197 295h4M204 295h1M222 295h2M42 296h4M50 296h6M62 296h3M69 296h11M86 296h2M92 296h5M107 296h3M115 296h40M159 296h26M188 296h7M198 296h7M223 296h1M41 297h5M50 297h5M61 297h4M68 297h21M92 297h7M101 297h2M107 297h3M115 297h41M157 297h28M187 297h24M218 297h1M222 297h3M39 298h17M61 298h5M67 298h14M82 298h17M100 298h11M113 298h89M204 298h8M218 298h7M230 298h2M37 299h19M59 299h156M218 299h7M230 299h2M37 300h23M61 300h29M91 300h141M35 301h195M37 302h194M36 303h196M35 304h197M35 305h197M35 306h197M35 307h197M35 308h196M35 309h195M35 310h197M35 311h197M35 312h197M35 313h197M35 314h197M35 315h197M35 316h197M35 317h197M35 318h197M35 319h197M35 320h197M35 321h197M35 322h197M35 323h197M35 324h197M35 325h197M35 326h197M35 327h197M35 328h197M35 329h197M35 330h197M35 331h197M35 332h197M35 333h197M35 334h197M35 335h197M35 336h197M35 337h197M35 338h197M35 339h197M35 340h197M35 341h197M35 342h197M35 343h197M35 344h197M35 345h197M35 346h197M35 347h197M35 348h197M35 349h197M35 350h197M35 351h197M35 352h197M35 353h197M35 354h197M35 355h197M35 356h197M35 357h197M35 358h197M35 359h197M35 360h197M35 361h197M35 362h197M35 363h197M35 364h197M35 365h197M35 366h197M35 367h197M35 368h197M35 369h197M35 370h197M35 371h197M35 372h197M35 373h197M35 374h197M35 375h197M35 376h197M35 377h197M35 378h197M35 379h197M35 380h197M35 381h197M35 382h197M35 383h197M35 384h196M35 385h196M35 386h197M35 387h197M35 388h197M35 389h197M35 390h197M35 391h197M35 392h197M35 393h197M35 394h197M35 395h197M35 396h188M225 396h7M35 397h164M200 397h22M227 397h5M35 398h6M44 398h155M200 398h22M228 398h4M35 399h6M44 399h45M90 399h18M111 399h87M200 399h23M229 399h3M35 400h5M44 400h45M90 400h18M112 400h86M200 400h23M229 400h3M35 401h5M44 401h45M90 401h18M112 401h86M201 401h23M229 401h3M35 402h5M44 402h45M91 402h17M112 402h86M201 402h23M229 402h3M35 403h5M44 403h44M91 403h17M112 403h86M201 403h2M204 403h20M229 403h3M35 404h5M44 404h44M91 404h16M112 404h86M201 404h2M205 404h18M230 404h2M35 405h5M44 405h44M91 405h16M112 405h86M201 405h2M205 405h18M230 405h2M35 406h5M44 406h34M79 406h9M91 406h16M112 406h86M201 406h2M205 406h18M230 406h2M35 407h5M45 407h33M79 407h9M91 407h16M113 407h85M201 407h1M205 407h18M230 407h2M35 408h5M45 408h32M79 408h9M91 408h16M113 408h85M205 408h18M230 408h2M35 409h5M45 409h32M79 409h9M91 409h16M113 409h85M205 409h18M230 409h2M35 410h5M45 410h32M79 410h9M91 410h16M113 410h85M205 410h18M230 410h2M35 411h4M45 411h32M79 411h9M91 411h16M113 411h85M205 411h18M231 411h1M35 412h4M45 412h32M79 412h9M91 412h16M113 412h85M205 412h18M231 412h1M35 413h4M45 413h32M79 413h9M91 413h16M113 413h59M173 413h25M205 413h18M231 413h1M35 414h4M45 414h28M74 414h2M79 414h9M91 414h16M113 414h59M173 414h25M205 414h18M231 414h1M35 415h4M45 415h28M75 415h1M79 415h9M91 415h16M113 415h10M124 415h48M173 415h25M206 415h17M35 416h4M45 416h28M75 416h1M79 416h9M91 416h16M113 416h10M124 416h48M173 416h25M206 416h17M35 417h4M45 417h28M75 417h1M79 417h9M91 417h16M113 417h10M124 417h48M173 417h25M206 417h17M35 418h4M45 418h28M75 418h1M79 418h9M91 418h16M113 418h10M124 418h48M173 418h25M206 418h17M35 419h4M45 419h28M75 419h1M79 419h9M91 419h16M113 419h10M124 419h48M173 419h25M206 419h17M35 420h4M45 420h28M75 420h1M79 420h9M91 420h16M113 420h10M124 420h48M173 420h25M206 420h17M35 421h4M45 421h28M75 421h1M79 421h9M91 421h16M113 421h10M124 421h48M173 421h25M206 421h17M35 422h4M45 422h28M75 422h1M79 422h9M91 422h16M113 422h10M124 422h48M173 422h25M206 422h17M35 423h4M45 423h28M75 423h1M79 423h9M91 423h16M113 423h10M124 423h48M173 423h25M206 423h17M35 424h4M45 424h28M75 424h1M79 424h9M91 424h16M113 424h10M124 424h48M173 424h25M206 424h17M35 425h4M45 425h28M75 425h1M79 425h9M91 425h16M113 425h10M124 425h48M173 425h25M206 425h17M35 426h4M45 426h28M75 426h1M79 426h9M91 426h16M113 426h10M124 426h48M173 426h24M206 426h17M35 427h4M45 427h28M75 427h1M79 427h9M91 427h16M113 427h10M124 427h48M173 427h24M206 427h17M35 428h4M45 428h28M75 428h1M79 428h9M91 428h16M113 428h10M124 428h48M173 428h24M206 428h17M35 429h4M45 429h28M75 429h1M79 429h9M91 429h16M113 429h10M124 429h48M173 429h24M206 429h17M35 430h4M45 430h28M75 430h1M79 430h9M91 430h16M113 430h10M124 430h48M173 430h24M206 430h17M35 431h4M45 431h28M75 431h1M79 431h9M91 431h16M113 431h10M124 431h48M173 431h24M206 431h17M35 432h4M45 432h28M75 432h1M79 432h9M91 432h16M113 432h10M124 432h48M173 432h24M206 432h17M35 433h4M45 433h28M75 433h1M79 433h9M91 433h16M113 433h10M124 433h48M173 433h24M206 433h17M35 434h4M45 434h28M75 434h1M79 434h9M91 434h16M113 434h10M124 434h48M173 434h24M206 434h17M35 435h4M45 435h28M75 435h1M79 435h9M91 435h16M113 435h10M124 435h48M173 435h24M206 435h17M35 436h4M45 436h28M75 436h1M79 436h9M91 436h16M113 436h10M124 436h48M173 436h25M206 436h17M35 437h4M45 437h28M75 437h1M79 437h9M91 437h16M113 437h10M124 437h48M173 437h25M206 437h17M35 438h4M45 438h28M75 438h1M79 438h9M91 438h16M113 438h10M124 438h48M173 438h25M206 438h17M35 439h4M45 439h28M75 439h1M79 439h9M91 439h16M113 439h10M124 439h48M173 439h25M206 439h17M35 440h4M45 440h28M75 440h1M79 440h9M91 440h16M113 440h10M124 440h48M173 440h25M206 440h17M35 441h4M45 441h28M75 441h1M79 441h9M91 441h16M113 441h10M124 441h48M173 441h25M206 441h17M35 442h4M45 442h28M75 442h1M79 442h9M91 442h16M113 442h10M124 442h48M173 442h25M206 442h17M35 443h4M45 443h28M75 443h1M79 443h9M91 443h16M113 443h10M124 443h48M173 443h25M206 443h17M35 444h4M45 444h28M75 444h1M79 444h9M91 444h16M113 444h10M124 444h48M173 444h25M206 444h17M35 445h4M45 445h28M75 445h1M79 445h9M91 445h16M113 445h10M124 445h48M173 445h25M206 445h17M35 446h4M45 446h28M75 446h1M79 446h9M91 446h16M113 446h10M124 446h48M173 446h25M206 446h17M35 447h4M45 447h28M75 447h1M79 447h9M91 447h16M113 447h10M124 447h48M173 447h25M206 447h17M35 448h4M45 448h28M75 448h1M79 448h9M91 448h16M113 448h10M124 448h48M173 448h25M206 448h17M35 449h4M45 449h28M75 449h1M79 449h9M91 449h16M113 449h10M124 449h48M173 449h25M206 449h17M35 450h4M45 450h28M74 450h2M79 450h9M91 450h16M113 450h59M173 450h25M205 450h18M231 450h1M35 451h4M45 451h28M74 451h2M79 451h9M91 451h16M113 451h59M173 451h25M205 451h18M231 451h1M35 452h4M45 452h28M74 452h3M79 452h9M91 452h16M113 452h59M173 452h25M205 452h18M231 452h1M35 453h4M45 453h32M79 453h9M91 453h16M113 453h59M173 453h25M205 453h18M231 453h1M35 454h4M45 454h32M79 454h9M91 454h16M113 454h59M173 454h25M205 454h18M231 454h1M35 455h4M45 455h32M79 455h9M91 455h16M113 455h59M173 455h25M205 455h18M231 455h1M35 456h4M45 456h32M79 456h9M91 456h16M113 456h85M205 456h18M231 456h1M35 457h4M45 457h32M79 457h9M91 457h16M113 457h85M205 457h18M231 457h1M35 458h4M45 458h32M79 458h9M91 458h16M113 458h85M205 458h18M231 458h1M35 459h4M45 459h32M79 459h9M91 459h16M113 459h85M205 459h18M231 459h1M35 460h4M45 460h32M79 460h9M91 460h16M113 460h85M205 460h18M230 460h2M35 461h5M45 461h32M79 461h9M91 461h16M113 461h85M205 461h18M230 461h2M35 462h5M45 462h32M79 462h9M91 462h16M113 462h85M205 462h18M230 462h2" stroke="#2c728e"/><path d="M43 289h2M69 289h6M77 289h2M115 289h10M127 289h6M143 289h8M160 289h13M182 289h2M42 290h4M51 290h4M69 290h5M77 290h3M115 290h6M122 290h3M127 290h7M144 290h7M160 290h8M181 290h3M189 290h1M42 291h3M53 291h2M69 291h6M76 291h4M116 291h5M122 291h4M127 291h9M145 291h10M160 291h14M43 292h2M52 292h3M68 292h6M76 292h3M116 292h4M124 292h15M144 292h11M159 292h9M182 292h2M43 293h2M52 293h3M68 293h6M77 293h2M118 293h3M127 293h12M143 293h8M160 293h9M182 293h1M189 293h1M43 294h2M53 294h2M69 294h11M118 294h7M127 294h9M143 294h9M163 294h4M170 294h3M182 294h1M188 294h4M42 295h4M53 295h1M63 295h2M69 295h11M117 295h18M143 295h11M159 295h11M181 295h3M43 296h2M69 296h10M93 296h2M116 296h20M141 296h14M159 296h10M176 296h3M181 296h3M189 296h3M43 297h1M69 297h10M94 297h1M117 297h38M158 297h10M175 297h4M182 297h2M188 297h8M198 297h3M44 298h3M49 298h3M62 298h3M69 298h11M93 298h1M102 298h1M107 298h3M113 298h56M170 298h15M186 298h15M207 298h2M222 298h2M43 299h11M62 299h4M68 299h13M84 299h3M93 299h5M100 299h4M105 299h97M204 299h8M220 299h5M43 300h3M49 300h8M62 300h27M93 300h132M37 301h3M46 301h44M91 301h137M38 302h192M37 303h194M35 304h195M35 305h197M35 306h197M35 307h197M35 308h195M35 309h193M35 310h197M35 311h197M35 312h197M35 313h196M35 314h197M35 315h197M35 316h197M35 317h197M35 318h197M35 319h197M35 320h197M35 321h197M35 322h197M35 323h197M35 324h197M35 325h197M35 326h197M35 327h197M35 328h197M35 329h197M35 330h197M35 331h197M35 332h197M35 333h197M35 334h197M35 335h197M35 336h197M35 337h197M35 338h197M35 339h197M35 340h197M35 341h197M35 342h197M35 343h197M35 344h197M35 345h197M35 346h197M35 347h197M35 348h197M35 349h197M35 350h197M35 351h197M35 352h197M35 353h197M35 354h197M35 355h197M35 356h197M35 357h197M35 358h197M35 359h197M35 360h197M35 361h197M35 362h197M35 363h197M35 364h197M35 365h197M35 366h197M35 367h197M35 368h197M35 369h197M35 370h197M35 371h197M35 372h197M35 373h197M36 374h196M36 375h196M35 376h197M35 377h197M35 378h197M37 379h193M36 380h195M35 381h197M35 382h197M35 383h197M35 384h195M35 385h196M35 386h197M35 387h197M35 388h197M35 389h197M35 390h197M35 391h197M35 392h197M35 393h197M35 394h197M35 395h195M35 396h6M44 396h179M229 396h3M35 397h4M45 397h33M79 397h9M91 397h17M112 397h86M201 397h21M35 398h4M45 398h27M75 398h1M80 398h8M92 398h15M113 398h10M124 398h48M173 398h25M206 398h16M35 399h3M45 399h27M80 399h8M92 399h14M113 399h9M125 399h46M173 399h25M206 399h16M35 400h3M45 400h26M80 400h8M92 400h14M113 400h9M125 400h36M162 400h9M174 400h24M206 400h16M35 401h3M46 401h25M80 401h7M92 401h14M114 401h8M125 401h36M162 401h9M174 401h24M206 401h16M35 402h3M46 402h24M80 402h7M92 402h14M114 402h8M125 402h36M162 402h9M174 402h24M206 402h16M35 403h3M46 403h23M80 403h7M92 403h14M114 403h7M125 403h36M162 403h9M174 403h24M206 403h16M35 404h2M46 404h23M80 404h7M92 404h14M114 404h7M125 404h36M163 404h8M174 404h6M181 404h17M206 404h16M35 405h2M46 405h23M80 405h7M92 405h14M114 405h7M125 405h36M163 405h8M174 405h6M181 405h17M206 405h16M35 406h2M46 406h23M80 406h7M93 406h13M114 406h7M125 406h36M163 406h7M174 406h6M181 406h17M206 406h16M35 407h2M46 407h23M80 407h7M93 407h12M114 407h7M125 407h36M163 407h7M174 407h5M181 407h17M207 407h15M35 408h2M46 408h22M80 408h7M93 408h12M114 408h7M125 408h36M163 408h7M174 408h5M182 408h16M207 408h14M35 409h2M46 409h22M80 409h7M93 409h12M114 409h7M125 409h36M163 409h7M174 409h5M182 409h16M207 409h14M35 410h2M46 410h22M80 410h7M93 410h12M114 410h7M125 410h35M163 410h7M174 410h5M182 410h16M207 410h14M35 411h2M46 411h22M80 411h7M93 411h12M114 411h7M126 411h16M143 411h17M163 411h7M174 411h5M182 411h16M207 411h14M35 412h2M46 412h22M80 412h7M93 412h12M114 412h7M126 412h16M143 412h17M163 412h7M174 412h5M182 412h16M207 412h14M35 413h2M46 413h22M80 413h7M93 413h12M114 413h7M126 413h16M143 413h4M148 413h12M163 413h7M174 413h5M183 413h14M207 413h14M35 414h2M46 414h22M80 414h7M94 414h11M114 414h7M126 414h16M144 414h3M148 414h12M163 414h7M174 414h5M183 414h14M207 414h14M35 415h1M46 415h22M80 415h7M94 415h11M114 415h6M126 415h16M144 415h3M148 415h12M163 415h7M174 415h5M183 415h14M207 415h8M217 415h4M35 416h1M46 416h22M81 416h6M94 416h11M114 416h6M126 416h15M144 416h3M148 416h12M163 416h7M175 416h4M184 416h13M207 416h8M217 416h4M35 417h1M46 417h22M81 417h6M94 417h11M114 417h6M126 417h15M144 417h3M148 417h12M163 417h7M175 417h4M184 417h13M207 417h8M217 417h4M35 418h1M46 418h22M81 418h6M94 418h11M114 418h6M126 418h15M144 418h3M148 418h12M163 418h7M175 418h4M184 418h13M207 418h8M217 418h4M35 419h1M46 419h22M81 419h6M94 419h11M114 419h6M126 419h15M144 419h3M148 419h12M163 419h7M175 419h4M184 419h13M207 419h8M217 419h4M35 420h1M46 420h22M81 420h6M94 420h11M114 420h6M126 420h15M144 420h3M148 420h12M163 420h7M175 420h4M184 420h13M207 420h8M217 420h4M35 421h1M46 421h22M81 421h6M94 421h11M114 421h6M126 421h15M144 421h3M148 421h12M163 421h7M175 421h4M184 421h13M207 421h8M217 421h4M35 422h1M46 422h22M81 422h6M94 422h11M114 422h6M126 422h15M144 422h3M148 422h12M163 422h7M175 422h4M184 422h13M207 422h8M217 422h4M35 423h1M46 423h22M81 423h6M94 423h11M114 423h6M126 423h15M144 423h3M148 423h12M163 423h7M175 423h4M184 423h13M207 423h8M217 423h4M35 424h1M46 424h22M81 424h6M94 424h11M114 424h6M126 424h15M144 424h3M148 424h12M163 424h7M175 424h4M184 424h13M207 424h8M217 424h4M35 425h1M46 425h22M81 425h6M94 425h11M114 425h6M126 425h15M144 425h3M148 425h12M163 425h7M175 425h4M184 425h13M207 425h8M217 425h4M35 426h1M46 426h22M81 426h6M94 426h11M114 426h6M126 426h15M144 426h3M148 426h12M163 426h7M175 426h4M184 426h13M207 426h8M217 426h4M35 427h1M46 427h22M81 427h6M94 427h11M114 427h6M126 427h15M144 427h3M148 427h12M163 427h7M175 427h4M184 427h13M207 427h8M217 427h4M35 428h1M46 428h22M81 428h6M94 428h11M114 428h6M126 428h15M144 428h3M148 428h12M163 428h7M175 428h4M184 428h13M207 428h8M217 428h4M35 429h1M46 429h22M81 429h6M94 429h11M114 429h6M126 429h15M144 429h3M148 429h12M163 429h7M175 429h4M184 429h13M207 429h8M217 429h4M35 430h1M46 430h22M81 430h6M94 430h11M114 430h6M126 430h15M144 430h3M148 430h12M163 430h7M175 430h4M184 430h13M207 430h8M217 430h4M35 431h1M46 431h22M81 431h6M94 431h11M114 431h6M126 431h15M144 431h3M148 431h12M163 431h7M175 431h4M184 431h13M207 431h8M217 431h4M35 432h1M46 432h22M81 432h6M94 432h11M114 432h6M126 432h15M144 432h3M148 432h12M163 432h7M175 432h4M184 432h13M207 432h8M217 432h4M35 433h1M46 433h22M81 433h6M94 433h11M114 433h6M126 433h15M144 433h3M148 433h12M163 433h7M175 433h4M184 433h13M207 433h8M217 433h4M35 434h1M46 434h22M81 434h6M94 434h11M114 434h6M126 434h15M144 434h3M148 434h12M163 434h7M175 434h4M184 434h13M207 434h8M217 434h4M35 435h1M46 435h22M81 435h6M94 435h11M114 435h6M126 435h15M144 435h3M148 435h12M163 435h7M175 435h4M184 435h13M207 435h8M217 435h4M35 436h1M46 436h22M81 436h6M94 436h11M114 436h6M126 436h15M144 436h3M148 436h12M163 436h7M175 436h4M184 436h13M207 436h8M217 436h4M35 437h1M46 437h22M81 437h6M94 437h11M114 437h6M126 437h15M144 437h3M148 437h12M163 437h7M175 437h4M184 437h13M207 437h8M217 437h4M35 438h1M46 438h22M81 438h6M94 438h11M114 438h6M126 438h15M144 438h3M148 438h12M163 438h7M175 438h4M184 438h13M207 438h8M217 438h4M35 439h1M46 439h22M81 439h6M94 439h11M114 439h6M126 439h15M144 439h3M148 439h12M163 439h7M175 439h4M184 439h13M207 439h8M217 439h4M35 440h1M46 440h22M81 440h6M94 440h11M114 440h6M126 440h15M144 440h3M148 440h12M163 440h7M175 440h4M184 440h13M207 440h8M217 440h4M35 441h1M46 441h22M81 441h6M94 441h11M114 441h6M126 441h15M144 441h3M148 441h12M163 441h7M175 441h4M184 441h13M207 441h8M217 441h4M35 442h1M46 442h22M81 442h6M94 442h11M114 442h6M126 442h15M144 442h3M148 442h12M163 442h7M175 442h4M184 442h13M207 442h8M217 442h4M35 443h1M46 443h22M81 443h6M94 443h11M114 443h6M126 443h15M144 443h3M148 443h12M163 443h7M175 443h4M184 443h13M207 443h8M217 443h4M35 444h1M46 444h22M81 444h6M94 444h11M114 444h6M126 444h15M144 444h3M148 444h12M163 444h7M175 444h4M184 444h13M207 444h8M217 444h4M35 445h1M46 445h22M81 445h6M94 445h11M114 445h6M126 445h15M144 445h3M148 445h12M163 445h7M175 445h4M184 445h13M207 445h8M217 445h4M35 446h1M46 446h22M81 446h6M94 446h11M114 446h6M126 446h15M144 446h3M148 446h12M163 446h7M175 446h4M184 446h13M207 446h8M217 446h4M35 447h1M46 447h22M81 447h6M94 447h11M114 447h6M126 447h16M144 447h3M148 447h12M163 447h7M175 447h4M184 447h13M207 447h8M217 447h4M35 448h1M46 448h22M80 448h7M94 448h11M114 448h6M126 448h16M144 448h3M148 448h12M163 448h7M174 448h5M184 448h13M207 448h8M217 448h4M35 449h1M46 449h22M80 449h7M94 449h11M114 449h6M126 449h16M144 449h3M148 449h12M163 449h7M174 449h5M183 449h14M207 449h8M217 449h4M35 450h1M46 450h22M80 450h7M94 450h11M114 450h6M126 450h16M144 450h3M148 450h12M163 450h7M174 450h5M183 450h14M207 450h8M217 450h4M35 451h2M46 451h22M80 451h7M94 451h11M114 451h7M126 451h16M144 451h3M148 451h12M163 451h7M174 451h5M183 451h14M207 451h14M35 452h2M46 452h22M80 452h7M94 452h11M114 452h7M126 452h16M144 452h3M148 452h12M163 452h7M174 452h5M183 452h14M207 452h14M35 453h2M46 453h22M80 453h7M93 453h12M114 453h7M126 453h16M143 453h4M148 453h12M163 453h7M174 453h5M183 453h14M207 453h14M35 454h2M46 454h22M80 454h7M93 454h12M114 454h7M126 454h16M143 454h4M148 454h12M163 454h7M174 454h5M183 454h14M207 454h14M35 455h2M46 455h22M80 455h7M93 455h12M114 455h7M126 455h16M143 455h17M163 455h7M174 455h5M183 455h15M207 455h14M35 456h2M46 456h22M80 456h7M93 456h12M114 456h7M126 456h16M143 456h17M163 456h7M174 456h5M182 456h16M207 456h14M35 457h2M46 457h22M80 457h7M93 457h12M114 457h7M126 457h16M143 457h17M163 457h7M174 457h5M182 457h16M207 457h14M35 458h2M46 458h22M80 458h7M93 458h12M114 458h7M126 458h16M143 458h17M163 458h7M174 458h5M182 458h16M207 458h14M35 459h2M46 459h22M80 459h7M93 459h12M114 459h7M126 459h16M143 459h17M163 459h7M174 459h5M182 459h16M207 459h14M35 460h2M46 460h22M80 460h7M93 460h12M114 460h7M126 460h16M143 460h17M163 460h7M174 460h5M182 460h16M207 460h14M35 461h2M46 461h22M80 461h7M93 461h12M114 461h7M125 461h35M163 461h7M174 461h5M182 461h16M207 461h14M35 462h2M46 462h22M80 462h7M93 462h12M114 462h7M125 462h36M163 462h7M174 462h5M182 462h16M207 462h14" stroke="#297b8e"/><path d="M72 289h1M144 289h6M163 289h3M78 290h1M131 290h2M147 290h3M164 290h3M130 291h4M164 291h3M118 292h1M129 292h5M164 292h3M70 293h2M129 293h4M145 293h1M70 294h3M77 294h2M119 294h1M129 294h4M70 295h3M129 295h4M145 295h6M165 295h2M71 296h1M77 296h1M118 296h2M127 296h7M145 296h6M160 296h7M70 297h5M117 297h5M124 297h12M144 297h7M159 297h8M70 298h9M114 298h21M142 298h13M159 298h9M175 298h8M189 298h5M199 298h1M44 299h2M63 299h2M69 299h11M94 299h2M107 299h3M113 299h23M138 299h60M199 299h1M205 299h3M50 300h5M63 300h16M82 300h6M93 300h11M105 300h104M222 300h2M48 301h12M64 301h25M92 301h133M43 302h39M84 302h4M91 302h134M39 303h188M35 304h8M44 304h183M35 305h195M35 306h21M58 306h174M35 307h186M223 307h8M35 308h186M223 308h5M36 309h12M53 309h170M225 309h2M35 310h16M54 310h177M35 311h197M35 312h188M224 312h8M35 313h188M224 313h6M35 314h197M35 315h197M35 316h197M35 317h197M35 318h197M35 319h197M35 320h197M35 321h197M35 322h197M35 323h197M35 324h197M35 325h197M35 326h197M35 327h197M35 328h197M35 329h197M35 330h197M35 331h197M35 332h197M35 333h197M35 334h197M35 335h197M35 336h197M35 337h197M35 338h197M35 339h197M35 340h197M35 341h197M35 342h197M35 343h197M35 344h197M35 345h197M35 346h197M35 347h1M37 347h195M35 348h197M35 349h195M35 350h197M35 351h197M35 352h197M35 353h197M35 354h197M35 355h197M35 356h197M35 357h197M35 358h197M35 359h197M35 360h197M35 361h197M35 362h197M35 363h197M35 364h197M35 365h197M35 366h197M35 367h197M35 368h197M35 369h197M35 370h197M35 371h197M35 372h197M35 373h197M36 374h196M37 375h195M36 376h196M35 377h197M36 378h196M37 379h192M37 380h193M35 381h197M35 382h197M35 383h197M35 384h194M35 385h191M227 385h3M35 386h196M35 387h197M35 388h197M35 389h196M35 390h196M35 391h197M35 392h197M35 393h197M35 394h197M35 395h189M35 396h3M46 396h27M75 396h3M79 396h10M90 396h111M204 396h18M35 397h1M46 397h22M80 397h7M93 397h12M114 397h7M125 397h36M162 397h9M174 397h6M181 397h17M206 397h15M35 398h1M46 398h21M81 398h6M94 398h11M114 398h6M126 398h16M144 398h3M148 398h12M163 398h7M175 398h4M184 398h13M207 398h8M219 398h1M35 399h1M47 399h20M81 399h5M95 399h2M99 399h5M115 399h5M126 399h15M144 399h2M149 399h11M163 399h6M175 399h3M188 399h9M208 399h6M219 399h1M35 400h1M47 400h20M81 400h5M99 400h5M115 400h5M126 400h3M131 400h5M137 400h4M145 400h1M149 400h11M164 400h5M175 400h3M188 400h9M208 400h6M35 401h1M47 401h20M81 401h5M99 401h5M115 401h5M126 401h3M131 401h5M137 401h4M149 401h11M164 401h5M175 401h3M188 401h9M208 401h6M35 402h1M47 402h20M81 402h5M100 402h4M115 402h5M126 402h3M131 402h5M138 402h2M149 402h11M164 402h5M175 402h3M188 402h9M209 402h5M35 403h1M47 403h4M52 403h15M81 403h5M100 403h4M115 403h5M126 403h3M131 403h5M138 403h2M149 403h11M164 403h5M175 403h3M188 403h9M209 403h5M35 404h1M47 404h4M52 404h15M81 404h5M100 404h4M115 404h5M126 404h3M131 404h5M138 404h2M149 404h10M164 404h5M175 404h3M189 404h8M209 404h4M35 405h1M47 405h4M52 405h14M81 405h5M100 405h3M115 405h4M127 405h2M131 405h4M139 405h1M149 405h10M164 405h5M175 405h3M189 405h8M209 405h4M47 406h4M52 406h14M81 406h5M100 406h3M116 406h3M127 406h2M131 406h4M149 406h10M164 406h5M175 406h3M189 406h8M209 406h4M47 407h4M53 407h13M81 407h4M100 407h3M116 407h3M127 407h2M131 407h4M149 407h10M164 407h5M175 407h3M189 407h8M209 407h4M47 408h4M53 408h13M81 408h4M101 408h2M116 408h3M127 408h1M132 408h3M149 408h10M164 408h5M175 408h3M189 408h8M210 408h3M47 409h4M53 409h13M81 409h4M101 409h2M117 409h2M127 409h1M132 409h3M149 409h10M164 409h5M175 409h3M189 409h8M210 409h3M47 410h4M53 410h13M81 410h4M101 410h2M117 410h2M127 410h1M132 410h3M149 410h10M164 410h4M176 410h2M189 410h8M210 410h3M47 411h4M53 411h13M81 411h3M101 411h2M117 411h2M127 411h1M132 411h3M149 411h10M164 411h4M176 411h2M189 411h8M210 411h3M47 412h4M53 412h13M81 412h3M101 412h1M127 412h1M132 412h3M149 412h10M164 412h4M176 412h1M189 412h7M210 412h3M47 413h4M53 413h13M82 413h2M127 413h1M132 413h3M149 413h10M164 413h4M176 413h1M189 413h7M210 413h2M48 414h2M53 414h13M82 414h2M132 414h3M149 414h10M164 414h4M176 414h1M189 414h7M210 414h2M48 415h2M53 415h13M82 415h1M132 415h3M149 415h10M164 415h4M176 415h1M189 415h7M211 415h1M48 416h2M53 416h13M82 416h1M132 416h2M149 416h10M164 416h4M176 416h1M189 416h7M211 416h1M48 417h2M53 417h13M82 417h1M132 417h2M149 417h10M164 417h4M176 417h1M189 417h7M211 417h1M48 418h2M53 418h13M82 418h1M132 418h2M149 418h10M164 418h4M176 418h1M189 418h7M211 418h1M48 419h2M53 419h13M82 419h1M132 419h2M149 419h10M164 419h4M176 419h1M189 419h7M211 419h1M48 420h2M53 420h13M82 420h1M132 420h2M149 420h10M164 420h4M176 420h1M189 420h7M211 420h1M48 421h2M53 421h13M82 421h1M132 421h2M149 421h10M164 421h4M176 421h1M189 421h7M211 421h1M48 422h2M53 422h13M82 422h1M132 422h2M149 422h10M164 422h4M176 422h1M189 422h7M211 422h1M48 423h2M53 423h13M82 423h1M132 423h2M149 423h10M164 423h4M176 423h1M189 423h7M211 423h1M48 424h2M53 424h13M82 424h1M132 424h2M149 424h10M164 424h4M176 424h1M189 424h7M211 424h1M48 425h2M53 425h13M82 425h1M132 425h2M149 425h10M164 425h4M176 425h1M189 425h7M211 425h1M48 426h2M53 426h13M82 426h1M132 426h2M149 426h10M164 426h4M176 426h1M189 426h7M211 426h1M48 427h2M53 427h13M82 427h1M132 427h2M149 427h10M164 427h4M176 427h1M189 427h7M211 427h1M48 428h2M53 428h13M82 428h1M132 428h2M149 428h10M164 428h4M176 428h1M189 428h7M211 428h1M48 429h2M53 429h13M82 429h1M132 429h2M149 429h10M164 429h4M176 429h1M189 429h7M211 429h1M48 430h2M53 430h13M82 430h1M132 430h2M149 430h10M164 430h4M176 430h1M189 430h7M211 430h1M48 431h2M53 431h13M82 431h1M132 431h2M149 431h10M164 431h4M176 431h1M189 431h7M211 431h1M48 432h2M53 432h13M82 432h1M132 432h2M149 432h10M164 432h4M176 432h1M189 432h7M211 432h1M48 433h2M53 433h13M82 433h1M132 433h2M149 433h10M164 433h4M176 433h1M189 433h7M211 433h1M48 434h2M53 434h13M82 434h1M132 434h2M149 434h10M164 434h4M176 434h1M189 434h7M211 434h1M48 435h2M53 435h13M82 435h1M132 435h2M149 435h10M164 435h4M176 435h1M189 435h7M211 435h1M48 436h2M53 436h13M82 436h1M132 436h2M149 436h10M164 436h4M176 436h1M189 436h7M211 436h1M48 437h2M53 437h13M82 437h1M132 437h2M149 437h10M164 437h4M176 437h1M189 437h7M211 437h1M48 438h2M53 438h13M82 438h1M132 438h2M149 438h10M164 438h4M176 438h1M189 438h7M211 438h1M48 439h2M53 439h13M82 439h1M132 439h2M149 439h10M164 439h4M176 439h1M189 439h7M211 439h1M48 440h2M53 440h13M82 440h1M132 440h2M149 440h10M164 440h4M176 440h1M189 440h7M211 440h1M48 441h2M53 441h13M82 441h1M132 441h2M149 441h10M164 441h4M176 441h1M189 441h7M211 441h1M48 442h2M53 442h13M82 442h1M132 442h2M149 442h10M164 442h4M176 442h1M189 442h7M211 442h1M48 443h2M53 443h13M82 443h1M132 443h2M149 443h10M164 443h4M176 443h1M189 443h7M211 443h1M48 444h2M53 444h13M82 444h1M132 444h2M149 444h10M164 444h4M176 444h1M189 444h7M211 444h1M48 445h2M53 445h13M82 445h1M132 445h2M149 445h10M164 445h4M176 445h1M189 445h7M211 445h1M48 446h2M53 446h13M82 446h1M132 446h2M149 446h10M164 446h4M176 446h1M189 446h7M211 446h1M48 447h2M53 447h13M82 447h1M132 447h2M149 447h10M164 447h4M176 447h1M189 447h7M211 447h1M48 448h2M53 448h13M82 448h1M132 448h3M149 448h10M164 448h4M176 448h1M189 448h7M211 448h1M48 449h2M53 449h13M82 449h1M132 449h3M149 449h10M164 449h4M176 449h1M189 449h7M211 449h1M48 450h2M53 450h13M82 450h2M132 450h3M149 450h10M164 450h4M176 450h1M189 450h7M211 450h1M48 451h2M53 451h13M82 451h2M132 451h3M149 451h10M164 451h4M176 451h1M189 451h7M210 451h2M47 452h3M53 452h13M82 452h2M132 452h3M149 452h10M164 452h4M176 452h1M189 452h7M210 452h2M47 453h4M53 453h13M82 453h2M132 453h3M149 453h10M164 453h4M176 453h1M189 453h7M210 453h2M47 454h4M53 454h13M82 454h2M127 454h1M132 454h3M149 454h10M164 454h4M176 454h1M189 454h7M210 454h2M47 455h4M53 455h13M82 455h2M101 455h1M127 455h1M132 455h3M149 455h10M164 455h4M176 455h1M189 455h7M210 455h3M47 456h4M53 456h13M81 456h3M101 456h1M127 456h1M132 456h3M149 456h10M164 456h4M176 456h1M189 456h7M210 456h3M47 457h4M53 457h13M81 457h3M101 457h2M118 457h1M127 457h1M132 457h3M149 457h10M164 457h4M176 457h2M189 457h8M210 457h3M47 458h4M53 458h13M81 458h3M101 458h2M117 458h2M127 458h1M132 458h3M149 458h10M164 458h4M176 458h2M189 458h8M210 458h3M47 459h4M53 459h13M81 459h3M101 459h2M117 459h2M127 459h1M132 459h3M149 459h10M164 459h4M176 459h2M189 459h8M210 459h3M47 460h4M53 460h13M81 460h4M101 460h2M117 460h2M127 460h1M132 460h3M149 460h10M164 460h4M176 460h2M189 460h8M210 460h3M47 461h4M53 461h13M81 461h4M101 461h2M117 461h2M127 461h1M132 461h3M149 461h10M164 461h4M176 461h2M189 461h8M210 461h3M47 462h4M53 462h13M81 462h4M101 462h2M117 462h2M127 462h1M132 462h3M149 462h10M164 462h4M176 462h2M189 462h8M210 462h3" stroke="#25838e"/><path d="M147 289h2M147 295h3M147 296h3M119 297h1M129 297h5M147 297h3M160 297h3M71 298h3M117 298h4M127 298h7M160 298h4M165 298h2M70 299h9M114 299h7M123 299h12M145 299h10M163 299h5M176 299h2M189 299h4M70 300h8M107 300h5M116 300h20M144 300h13M158 300h15M175 300h26M204 300h3M53 301h2M68 301h11M82 301h6M93 301h10M105 301h8M116 301h27M144 301h30M175 301h35M49 302h1M51 302h13M66 302h15M85 302h2M92 302h121M222 302h1M41 303h1M53 303h6M63 303h19M91 303h130M222 303h3M40 304h2M45 304h7M54 304h5M60 304h21M87 304h138M35 305h187M224 305h3M35 306h2M38 306h17M59 306h168M35 307h14M50 307h7M58 307h162M224 307h3M35 308h14M52 308h168M224 308h3M37 309h11M54 309h4M60 309h162M35 310h13M50 310h1M55 310h170M226 310h3M35 311h10M47 311h5M54 311h176M35 312h8M45 312h174M225 312h6M35 313h186M225 313h5M35 314h22M58 314h164M226 314h6M35 315h195M35 316h189M226 316h6M35 317h1M38 317h3M43 317h189M35 318h197M35 319h6M43 319h188M35 320h5M42 320h190M35 321h197M35 322h197M35 323h195M35 324h197M35 325h197M35 326h193M35 327h195M35 328h197M35 329h197M35 330h197M35 331h197M35 332h197M35 333h192M228 333h4M36 334h192M37 335h193M35 336h195M35 337h12M48 337h179M229 337h3M35 338h9M48 338h184M36 339h5M44 339h188M37 340h5M44 340h188M39 341h188M229 341h3M35 342h189M227 342h5M35 343h197M35 344h197M35 345h197M36 346h4M41 346h191M41 347h189M39 348h190M35 349h2M38 349h192M38 350h185M226 350h6M35 351h188M226 351h6M35 352h197M35 353h189M225 353h6M35 354h197M36 355h196M35 356h197M35 357h197M35 358h197M35 359h197M35 360h192M228 360h4M35 361h197M35 362h195M231 362h1M35 363h197M35 364h197M35 365h197M35 366h197M35 367h197M35 368h197M35 369h197M35 370h195M231 370h1M35 371h197M35 372h197M35 373h197M37 374h187M227 374h5M38 375h187M228 375h4M38 376h193M35 377h196M37 378h195M38 379h191M37 380h193M35 381h190M226 381h5M35 382h186M222 382h8M35 383h193M35 384h193M35 385h190M35 386h195M35 387h197M35 388h197M35 389h193M35 390h192M35 391h190M36 392h189M226 392h6M35 393h197M35 394h2M40 394h183M226 394h1M35 395h1M46 395h24M76 395h147M47 396h20M80 396h7M92 396h4M98 396h8M113 396h9M125 396h46M173 396h26M208 396h7M48 397h2M53 397h13M81 397h3M101 397h2M117 397h2M127 397h2M131 397h4M139 397h1M149 397h10M164 397h5M175 397h3M189 397h8M210 397h3M48 398h2M53 398h5M59 398h6M132 398h2M150 398h8M164 398h4M190 398h6M48 399h2M53 399h5M60 399h5M133 399h1M150 399h8M165 399h3M190 399h6M48 400h2M54 400h4M60 400h5M133 400h1M150 400h8M165 400h2M190 400h6M48 401h2M54 401h4M60 401h5M133 401h1M150 401h7M165 401h2M190 401h5M48 402h1M54 402h3M60 402h5M150 402h7M165 402h2M190 402h5M54 403h3M60 403h5M150 403h7M165 403h2M190 403h5M54 404h3M60 404h5M150 404h6M165 404h2M190 404h5M54 405h3M60 405h5M150 405h5M165 405h2M190 405h5M54 406h3M60 406h5M150 406h5M165 406h2M190 406h5M54 407h3M60 407h5M150 407h5M165 407h2M190 407h5M54 408h3M61 408h4M150 408h5M165 408h2M190 408h5M54 409h3M61 409h4M150 409h5M165 409h2M191 409h3M54 410h3M61 410h3M150 410h4M191 410h3M54 411h3M61 411h3M150 411h4M191 411h3M54 412h3M61 412h3M150 412h4M191 412h3M54 413h3M61 413h3M150 413h4M191 413h3M55 414h1M61 414h3M150 414h4M191 414h3M55 415h1M61 415h3M150 415h4M191 415h3M55 416h1M61 416h3M151 416h3M191 416h3M55 417h1M61 417h3M151 417h3M191 417h3M55 418h1M61 418h3M151 418h3M191 418h3M55 419h1M61 419h3M151 419h3M191 419h3M55 420h1M61 420h3M151 420h3M191 420h3M55 421h1M61 421h3M151 421h3M191 421h3M55 422h1M61 422h3M151 422h3M191 422h3M55 423h1M61 423h3M151 423h3M191 423h3M55 424h1M61 424h3M151 424h3M191 424h3M55 425h1M61 425h3M151 425h3M191 425h3M55 426h1M61 426h3M151 426h3M191 426h3M55 427h1M61 427h3M151 427h3M191 427h3M55 428h1M61 428h3M151 428h3M191 428h3M55 429h1M61 429h3M151 429h3M191 429h3M55 430h1M61 430h3M151 430h3M191 430h3M55 431h1M61 431h3M151 431h3M191 431h3M55 432h1M61 432h3M151 432h3M191 432h3M55 433h1M61 433h3M151 433h3M191 433h3M55 434h1M61 434h3M151 434h3M191 434h3M55 435h1M61 435h3M151 435h3M191 435h3M55 436h1M61 436h3M151 436h3M191 436h3M55 437h1M61 437h3M151 437h3M191 437h3M55 438h1M61 438h3M151 438h3M191 438h3M55 439h1M61 439h3M151 439h3M191 439h3M55 440h1M61 440h3M151 440h3M191 440h3M55 441h1M61 441h3M151 441h3M191 441h3M55 442h1M61 442h3M151 442h3M191 442h3M55 443h1M61 443h3M151 443h3M191 443h3M55 444h1M61 444h3M151 444h3M191 444h3M55 445h1M61 445h3M151 445h3M191 445h3M55 446h1M61 446h3M151 446h3M191 446h3M55 447h1M61 447h3M151 447h3M191 447h3M55 448h1M61 448h3M150 448h4M191 448h3M55 449h1M61 449h3M150 449h4M191 449h3M55 450h1M61 450h3M150 450h4M191 450h3M55 451h1M61 451h3M150 451h4M191 451h3M54 452h2M61 452h3M150 452h4M191 452h3M54 453h2M61 453h3M150 453h4M191 453h3M54 454h3M61 454h3M150 454h4M191 454h3M54 455h3M61 455h3M150 455h4M191 455h3M54 456h3M61 456h3M150 456h4M191 456h3M54 457h3M61 457h3M150 457h4M191 457h3M54 458h3M61 458h3M150 458h4M191 458h3M54 459h3M61 459h3M150 459h4M191 459h3M54 460h3M61 460h3M150 460h4M191 460h3M54 461h3M61 461h3M150 461h4M165 461h1M191 461h3M54 462h3M61 462h4M150 462h5M165 462h2M191 462h3" stroke="#228c8d"/><path d="M129 298h3M118 299h2M128 299h5M71 300h4M118 300h2M122 300h5M129 300h5M145 300h10M160 300h7M181 300h3M191 300h1M69 301h9M94 301h2M100 301h2M106 301h5M117 301h20M138 301h4M144 301h28M176 301h13M191 301h16M68 302h12M92 302h80M176 302h13M193 302h15M209 302h2M66 303h15M92 303h76M170 303h26M200 303h12M68 304h7M76 304h5M88 304h12M101 304h118M43 305h1M46 305h6M59 305h29M89 305h130M42 306h7M59 306h6M68 306h21M90 306h122M214 306h8M39 307h9M52 307h4M59 307h16M76 307h143M37 308h11M59 308h160M39 309h8M55 309h2M61 309h160M35 310h1M39 310h8M55 310h8M66 310h158M35 311h9M49 311h2M55 311h4M63 311h154M220 311h2M35 312h1M38 312h4M46 312h10M59 312h154M215 312h3M226 312h1M35 313h11M48 313h173M35 314h18M54 314h2M59 314h162M35 315h35M71 315h152M225 315h4M35 316h188M227 316h4M35 317h1M43 317h189M35 318h1M38 318h194M35 319h5M44 319h172M219 319h11M35 320h5M43 320h183M35 321h1M40 321h192M35 322h197M35 323h1M38 323h189M35 324h11M48 324h183M35 325h196M35 326h192M36 327h189M35 328h196M36 329h9M46 329h185M36 330h5M42 330h190M36 331h5M42 331h190M36 332h16M55 332h177M35 333h191M229 333h3M37 334h3M42 334h186M38 335h191M35 336h13M50 336h172M35 337h12M50 337h172M229 337h3M36 338h6M53 338h174M229 338h3M37 339h4M44 339h7M54 339h178M38 340h3M44 340h188M43 341h4M52 341h175M229 341h3M35 342h4M45 342h178M228 342h4M35 343h4M41 343h181M224 343h8M35 344h5M41 344h191M36 345h4M42 345h13M56 345h162M220 345h12M37 346h2M42 346h13M56 346h176M42 347h187M39 348h190M35 349h1M39 349h186M227 349h2M39 350h183M227 350h3M35 351h187M226 351h5M35 352h189M225 352h7M35 353h3M40 353h182M226 353h5M35 354h3M41 354h182M225 354h7M37 355h4M43 355h189M35 356h196M35 357h197M35 358h3M39 358h193M35 359h197M35 360h191M229 360h3M35 361h192M229 361h2M35 362h186M222 362h7M35 363h185M225 363h7M35 364h188M225 364h7M35 365h197M35 366h197M35 367h197M35 368h197M35 369h193M230 369h2M35 370h193M231 370h1M35 371h16M52 371h180M35 372h6M43 372h189M37 373h187M226 373h5M38 374h185M228 374h3M40 375h185M229 375h3M39 376h7M47 376h178M228 376h2M38 377h192M38 378h189M38 379h189M38 380h190M37 381h182M222 381h1M36 382h182M223 382h4M35 383h192M38 384h189M35 385h189M35 386h1M41 386h184M36 387h192M37 388h191M35 389h192M35 390h191M35 391h189M37 392h187M227 392h2M35 393h188M225 393h3M44 394h28M75 394h147M48 395h21M80 395h16M97 395h118M219 395h1M54 396h3M60 396h5M101 396h2M115 396h2M127 396h2M131 396h5M138 396h2M149 396h10M164 396h5M175 396h3M189 396h8M210 396h2M55 397h1M61 397h3M150 397h5M165 397h2M191 397h3M61 398h3M151 398h3M192 398h1M62 399h2M151 399h2M62 400h2M151 400h2M62 401h1M151 401h2M62 402h1M151 402h2M62 403h1M151 403h2M62 404h1M151 404h2M62 405h1M62 406h1" stroke="#1f948c"/><path d="M146 300h2M118 301h9M145 301h5M152 301h3M159 301h10M181 301h3M72 302h1M94 302h2M101 302h2M107 302h3M114 302h3M119 302h11M131 302h18M151 302h19M181 302h7M194 302h3M200 302h2M69 303h1M71 303h4M76 303h5M93 303h2M102 303h7M110 303h9M121 303h29M151 303h7M159 303h9M171 303h9M181 303h7M190 303h3M200 303h9M69 304h5M77 304h3M96 304h3M102 304h4M110 304h77M190 304h22M69 305h17M91 305h9M102 305h4M108 305h105M214 305h1M63 306h1M69 306h19M91 306h8M100 306h112M62 307h1M67 307h7M78 307h23M102 307h116M63 308h15M79 308h15M96 308h122M62 309h151M215 309h3M41 310h3M68 310h153M39 311h2M67 311h150M39 312h2M47 312h3M61 312h2M64 312h16M83 312h9M93 312h118M35 313h1M38 313h7M49 313h3M57 313h23M83 313h133M218 313h2M35 314h4M43 314h9M60 314h160M35 315h21M58 315h11M73 315h149M37 316h31M72 316h140M216 316h6M44 317h16M62 317h160M224 317h3M40 318h6M48 318h171M222 318h3M227 318h1M38 319h1M45 319h7M58 319h157M222 319h5M37 320h2M43 320h172M217 320h7M35 321h1M42 321h186M35 322h1M39 322h2M48 322h179M39 323h7M51 323h175M36 324h9M49 324h5M60 324h158M220 324h4M36 325h186M225 325h3M35 326h190M38 327h7M46 327h178M36 328h9M46 328h178M37 329h7M47 329h181M37 330h3M43 330h182M228 330h2M37 331h3M43 331h187M36 332h16M56 332h176M37 333h3M43 333h182M230 333h2M38 334h1M43 334h184M38 335h183M223 335h5M35 336h12M51 336h4M57 336h164M35 337h6M51 337h4M57 337h164M230 337h2M37 338h2M54 338h164M219 338h8M230 338h2M38 339h2M45 339h5M54 339h175M45 340h2M48 340h4M54 340h173M45 341h1M54 341h162M218 341h8M46 342h3M52 342h170M229 342h2M35 343h2M43 343h178M228 343h4M35 344h3M43 344h175M220 344h6M229 344h3M37 345h2M45 345h9M57 345h160M221 345h6M229 345h3M43 346h12M57 346h154M213 346h19M42 347h13M56 347h172M44 348h184M39 349h3M44 349h174M219 349h5M39 350h4M44 350h14M59 350h162M35 351h1M38 351h18M60 351h162M227 351h1M39 352h4M45 352h178M35 353h2M41 353h180M228 353h2M43 354h176M220 354h2M228 354h2M44 355h180M227 355h4M36 356h4M44 356h3M50 356h181M35 357h12M53 357h178M40 358h189M38 359h178M218 359h11M230 359h2M35 360h191M229 360h2M35 361h191M35 362h185M223 362h5M35 363h185M226 363h3M35 364h7M44 364h177M226 364h6M38 365h23M64 365h158M226 365h5M36 366h25M65 366h167M36 367h196M35 368h192M229 368h3M35 369h27M64 369h9M75 369h2M78 369h149M231 369h1M35 370h6M42 370h3M47 370h13M64 370h9M74 370h154M35 371h1M39 371h11M53 371h19M73 371h159M44 372h180M225 372h7M40 373h2M45 373h179M227 373h3M41 374h182M42 375h4M47 375h177M41 376h3M48 376h14M65 376h160M41 377h4M47 377h177M41 378h184M44 379h14M63 379h162M40 380h2M45 380h177M39 381h179M42 382h175M38 383h16M55 383h169M40 384h15M57 384h167M40 385h17M59 385h6M69 385h155M43 386h14M59 386h5M68 386h156M42 387h13M56 387h169M39 388h43M84 388h142M37 389h2M42 389h184M36 390h1M42 390h6M51 390h174M39 391h9M50 391h11M62 391h152M215 391h9M41 392h20M62 392h3M66 392h147M216 392h7M44 393h170M216 393h5M48 394h6M57 394h14M77 394h21M99 394h122M54 395h2M61 395h5M98 395h10M114 395h7M125 395h61M189 395h12M210 395h3M62 396h1M150 396h4M191 396h3" stroke="#1e9d89"/><path d="M123 302h3M144 302h4M152 302h4M159 302h9M111 303h6M123 303h3M128 303h3M133 303h16M152 303h5M160 303h7M176 303h2M184 303h3M201 303h5M103 304h2M111 304h28M141 304h3M146 304h27M175 304h11M192 304h1M201 304h7M71 305h3M77 305h3M94 305h5M103 305h3M109 305h36M146 305h63M71 306h4M77 306h10M91 306h7M101 306h21M123 306h61M185 306h15M201 306h10M69 307h2M79 307h16M96 307h4M103 307h41M146 307h38M188 307h11M201 307h10M67 308h3M71 308h6M80 308h14M97 308h74M173 308h5M182 308h30M66 309h12M80 309h62M145 309h60M207 309h5M69 310h12M82 310h129M215 310h1M68 311h10M81 311h36M120 311h2M125 311h86M213 311h3M66 312h14M84 312h7M94 312h27M125 312h86M65 313h15M84 313h6M95 313h114M61 314h12M76 314h11M91 314h128M61 315h7M74 315h23M99 315h96M196 315h17M215 315h5M64 316h4M72 316h31M105 316h88M194 316h17M216 316h4M50 317h1M55 317h4M63 317h157M55 318h5M62 318h32M95 318h120M59 319h155M52 320h4M59 320h32M94 320h120M218 320h2M49 321h171M51 322h7M60 322h161M53 323h1M59 323h12M73 323h146M222 323h1M61 324h157M221 324h2M48 325h171M45 326h7M55 326h165M40 327h4M48 327h174M40 328h4M47 328h2M51 328h172M40 329h3M48 329h2M52 329h170M38 330h1M47 330h177M43 331h16M60 331h166M37 332h3M43 332h7M57 332h1M60 332h166M44 333h8M55 333h165M222 333h3M45 334h9M55 334h3M59 334h161M223 334h3M49 335h3M54 335h166M225 335h2M52 336h1M59 336h158M219 336h1M52 337h1M58 337h160M219 337h2M57 338h160M220 338h5M55 339h163M220 339h5M55 340h5M62 340h153M218 340h6M56 341h159M53 342h168M46 343h39M87 343h132M48 344h7M58 344h28M89 344h128M47 345h6M58 345h28M88 345h128M46 346h4M52 346h2M58 346h148M208 346h2M214 346h3M218 346h4M45 347h9M57 347h151M211 347h11M45 348h177M45 349h4M54 349h4M60 349h4M66 349h151M45 350h8M54 350h3M60 350h8M70 350h150M42 351h12M61 351h160M46 352h3M50 352h4M57 352h164M44 353h4M51 353h2M56 353h164M44 354h5M55 354h3M60 354h157M45 355h3M55 355h7M65 355h155M55 356h8M65 356h158M42 357h1M54 357h173M41 358h1M43 358h4M50 358h170M222 358h6M41 359h171M213 359h2M220 359h7M35 360h1M38 360h174M213 360h12M35 361h1M39 361h7M49 361h165M215 361h10M35 362h10M48 362h17M66 362h151M35 363h6M44 363h3M50 363h3M58 363h161M35 364h6M46 364h6M55 364h165M39 365h3M45 365h15M65 365h155M38 366h5M44 366h16M65 366h154M221 366h3M36 367h10M53 367h8M64 367h143M208 367h21M39 368h33M79 368h145M35 369h2M39 369h3M49 369h12M66 369h6M79 369h147M231 369h1M49 370h11M65 370h7M76 370h144M222 370h5M43 371h6M54 371h7M64 371h7M77 371h149M52 372h167M220 372h3M47 373h176M45 374h31M79 374h139M221 374h1M48 375h2M53 375h170M53 376h9M65 376h158M49 377h169M45 378h16M63 378h16M81 378h141M48 379h5M63 379h158M48 380h172M43 381h19M63 381h154M43 382h9M55 382h162M42 383h10M56 383h164M43 384h11M58 384h31M90 384h130M43 385h12M60 385h5M69 385h116M189 385h31M44 386h11M60 386h4M68 386h150M44 387h10M58 387h7M68 387h154M45 388h10M56 388h5M63 388h4M69 388h13M85 388h137M46 389h3M51 389h31M85 389h9M95 389h127M52 390h166M219 390h2M53 391h7M63 391h32M97 391h116M216 391h2M220 391h2M50 392h3M54 392h1M69 392h4M76 392h136M217 392h4M58 393h12M79 393h19M100 393h107M210 393h3M61 394h2M81 394h7M90 394h7M100 394h12M115 394h94M118 395h1M150 395h9M165 395h2M174 395h5M182 395h2M190 395h4M195 395h3" stroke="#21a585"/><path d="M153 303h3M161 303h4M112 304h8M121 304h5M133 304h4M147 304h9M159 304h6M203 304h2M110 305h26M140 305h4M147 305h25M175 305h9M185 305h1M190 305h17M94 306h2M102 306h5M109 306h12M124 306h14M141 306h3M146 306h31M180 306h3M186 306h9M196 306h3M202 306h6M92 307h2M97 307h2M104 307h18M124 307h18M147 307h31M180 307h3M188 307h7M201 307h4M207 307h2M74 308h1M90 308h3M98 308h47M147 308h23M173 308h5M183 308h14M198 308h1M200 308h6M207 308h3M73 309h2M84 309h28M114 309h10M128 309h6M138 309h4M146 309h24M172 309h33M208 309h1M74 310h4M83 310h49M134 310h9M145 310h29M176 310h33M74 311h3M83 311h3M88 311h28M126 311h19M147 311h63M84 312h2M87 312h3M96 312h21M125 312h23M150 312h60M76 313h3M85 313h4M96 313h24M123 313h16M141 313h28M171 313h37M82 314h4M92 314h33M126 314h20M147 314h22M172 314h11M184 314h12M198 314h12M213 314h2M79 315h7M90 315h6M100 315h3M105 315h19M128 315h61M197 315h15M74 316h6M84 316h18M106 316h63M170 316h22M195 316h14M64 317h1M67 317h1M71 317h11M86 317h22M109 317h104M63 318h30M96 318h117M60 319h31M95 319h119M60 320h3M66 320h17M84 320h6M95 320h95M192 320h22M57 321h12M71 321h3M76 321h16M95 321h119M61 322h8M71 322h16M89 322h123M62 323h8M74 323h12M90 323h128M62 324h28M92 324h54M148 324h69M61 325h14M79 325h138M58 326h16M77 326h11M90 326h129M58 327h142M202 327h17M59 328h17M79 328h6M86 328h114M202 328h17M58 329h161M58 330h31M92 330h129M62 331h11M74 331h146M61 332h21M83 332h130M215 332h3M61 333h21M83 333h134M61 334h21M87 334h131M62 335h157M62 336h25M88 336h128M60 337h28M94 337h116M213 337h4M60 338h5M66 338h25M96 338h116M214 338h2M65 339h79M145 339h51M199 339h8M210 339h5M63 340h133M200 340h5M208 340h4M63 341h134M199 341h12M61 342h40M102 342h109M212 342h7M64 343h20M88 343h131M65 344h20M90 344h125M64 345h18M88 345h125M62 346h24M88 346h118M60 347h7M69 347h16M87 347h120M212 347h4M217 347h1M61 348h2M66 348h1M68 348h142M212 348h5M61 349h2M69 349h148M64 350h3M71 350h21M94 350h122M62 351h30M94 351h124M58 352h6M66 352h137M206 352h9M216 352h1M57 353h6M64 353h2M68 353h5M74 353h135M215 353h4M56 354h1M61 354h2M65 354h35M103 354h112M56 355h4M66 355h152M57 356h4M65 356h156M58 357h164M56 358h33M91 358h127M56 359h32M90 359h121M55 360h4M63 360h25M90 360h121M56 361h3M66 361h8M75 361h138M35 362h1M38 362h1M58 362h6M67 362h6M74 362h141M35 363h2M38 363h2M59 363h6M67 363h5M76 363h142M35 364h1M56 364h8M67 364h8M77 364h17M97 364h120M55 365h4M74 365h55M131 365h70M202 365h16M56 366h3M66 366h5M74 366h144M55 367h5M67 367h6M75 367h57M134 367h71M208 367h10M51 368h12M80 368h138M52 369h2M55 369h5M68 369h2M80 369h140M53 370h6M69 370h1M79 370h140M55 371h4M66 371h4M78 371h142M54 372h4M60 372h16M79 372h125M205 372h13M54 373h10M65 373h152M55 374h4M60 374h16M80 374h124M207 374h10M55 375h1M59 375h152M214 375h5M54 376h3M60 376h2M65 376h146M212 376h7M56 377h2M60 377h4M66 377h150M64 378h5M70 378h8M81 378h120M203 378h16M64 379h136M202 379h16M59 380h2M64 380h2M68 380h149M58 381h2M64 381h2M68 381h7M78 381h138M63 382h9M78 382h138M59 383h14M75 383h13M92 383h113M206 383h11M52 384h1M59 384h30M92 384h96M189 384h29M61 385h3M73 385h4M80 385h104M190 385h28M61 386h2M69 386h2M79 386h138M60 387h3M70 387h3M76 387h6M84 387h22M109 387h108M70 388h1M73 388h8M85 388h8M96 388h19M117 388h47M165 388h53M76 389h5M86 389h7M96 389h8M105 389h10M116 389h21M139 389h78M79 390h2M83 390h102M187 390h29M80 391h1M84 391h11M98 391h20M120 391h92M83 392h31M116 392h90M84 393h2M87 393h10M101 393h12M114 393h46M162 393h20M184 393h9M194 393h11M101 394h10M118 394h42M162 394h19M182 394h10M195 394h8M205 394h2" stroke="#28ae80"/><path d="M160 304h3M149 305h2M154 305h10M203 305h2M110 306h6M147 306h3M151 306h15M203 306h2M105 307h3M110 307h6M119 307h2M134 307h2M148 307h17M167 307h1M189 307h2M202 307h3M105 308h4M111 308h4M117 308h5M128 308h5M134 308h8M149 308h19M175 308h1M183 308h4M189 308h6M201 308h4M100 309h5M107 309h3M118 309h4M128 309h5M139 309h2M147 309h21M174 309h15M191 309h2M194 309h10M98 310h14M114 310h3M124 310h2M138 310h4M146 310h26M179 310h29M95 311h1M100 311h15M127 311h4M134 311h9M148 311h27M182 311h24M208 311h1M99 312h18M126 312h3M130 312h16M151 312h57M97 313h20M124 313h14M142 313h5M149 313h19M172 313h35M93 314h4M102 314h12M118 314h6M127 314h18M148 314h20M172 314h10M185 314h10M199 314h9M84 315h1M92 315h4M106 315h18M129 315h16M149 315h20M171 315h18M198 315h6M206 315h4M88 316h6M98 316h3M106 316h29M137 316h31M171 316h20M196 316h12M89 317h4M94 317h9M110 317h59M170 317h18M190 317h2M196 317h13M82 318h10M97 318h1M100 318h112M79 319h3M85 319h4M97 319h115M78 320h4M87 320h2M96 320h4M102 320h87M193 320h20M66 321h1M78 321h12M96 321h4M102 321h88M192 321h21M64 322h4M76 322h9M90 322h55M147 322h64M64 323h5M75 323h7M91 323h111M204 323h10M64 324h6M73 324h16M93 324h31M126 324h19M148 324h40M189 324h20M211 324h4M63 325h10M83 325h5M91 325h85M177 325h38M63 326h10M80 326h7M91 326h122M63 327h12M76 327h8M85 327h2M91 327h108M203 327h10M64 328h11M80 328h3M87 328h84M176 328h23M203 328h12M64 329h11M79 329h10M90 329h122M63 330h9M78 330h10M94 330h121M64 331h8M75 331h15M93 331h121M64 332h17M84 332h11M99 332h100M200 332h12M64 333h17M85 333h3M90 333h5M97 333h31M129 333h36M166 333h39M207 333h3M65 334h16M91 334h74M167 334h47M69 335h4M75 335h9M87 335h114M202 335h13M71 336h14M92 336h108M203 336h13M67 337h20M96 337h114M214 337h2M67 338h21M97 338h4M103 338h105M67 339h27M95 339h48M145 339h51M200 339h3M67 340h21M90 340h106M200 340h3M67 341h33M102 341h76M179 341h17M200 341h10M67 342h17M88 342h12M103 342h74M179 342h5M186 342h22M67 343h16M92 343h7M101 343h75M178 343h6M186 343h22M209 343h5M68 344h10M79 344h5M92 344h46M141 344h59M202 344h12M68 345h13M89 345h15M105 345h95M201 345h9M70 346h15M88 346h18M107 346h97M70 347h4M75 347h9M88 347h109M198 347h9M70 348h14M87 348h2M92 348h117M213 348h2M71 349h20M93 349h86M180 349h35M72 350h15M89 350h2M95 350h119M70 351h21M94 351h39M135 351h45M181 351h32M69 352h4M74 352h17M94 352h34M129 352h74M207 352h2M69 353h3M74 353h17M94 353h30M130 353h34M166 353h41M68 354h28M104 354h21M129 354h35M166 354h42M209 354h4M68 355h26M95 355h4M102 355h34M138 355h76M68 356h2M72 356h142M69 357h29M99 357h31M132 357h82M69 358h5M76 358h12M91 358h125M69 359h18M91 359h44M138 359h71M68 360h6M76 360h10M90 360h11M102 360h108M68 361h1M71 361h2M75 361h11M89 361h12M102 361h110M68 362h4M75 362h27M105 362h32M139 362h74M69 363h1M77 363h17M96 363h7M106 363h109M78 364h16M98 364h110M210 364h3M77 365h18M96 365h32M132 365h60M194 365h6M204 365h9M77 366h115M194 366h6M203 366h3M78 367h9M88 367h7M97 367h33M134 367h57M194 367h10M210 367h1M81 368h5M89 368h6M97 368h107M209 368h3M81 369h132M81 370h4M87 370h41M129 370h7M138 370h76M79 371h19M100 371h27M130 371h5M139 371h19M160 371h5M168 371h48M79 372h58M139 372h63M206 372h10M80 373h58M139 373h26M168 373h35M205 373h10M80 374h11M92 374h112M207 374h8M74 375h2M80 375h19M102 375h103M75 376h4M80 376h18M103 376h104M208 376h2M76 377h2M80 377h134M82 378h47M131 378h62M194 378h6M204 378h9M215 378h1M81 379h48M131 379h30M162 379h37M203 379h7M212 379h4M79 380h2M83 380h13M98 380h30M129 380h81M79 381h3M84 381h57M143 381h42M186 381h27M80 382h9M90 382h50M143 382h72M83 383h5M95 383h27M124 383h10M136 383h69M207 383h8M78 384h10M92 384h43M137 384h34M172 384h14M191 384h24M81 385h32M116 385h53M172 385h11M192 385h22M80 386h4M85 386h28M116 386h68M188 386h6M196 386h15M213 386h2M85 387h21M110 387h6M117 387h96M91 388h1M97 388h18M118 388h14M136 388h27M166 388h48M89 389h3M97 389h6M106 389h8M117 389h19M140 389h60M201 389h2M206 389h4M212 389h2M89 390h3M97 390h7M105 390h9M118 390h66M191 390h20M90 391h3M99 391h18M120 391h62M192 391h2M200 391h5M207 391h4M94 392h1M99 392h14M120 392h37M162 392h19M192 392h1M202 392h2M104 393h8M115 393h4M121 393h36M164 393h17M188 393h3M195 393h6M202 393h1M139 394h2M144 394h2M150 394h5M173 394h5M196 394h1" stroke="#34b679"/><path d="M160 305h3M157 306h7M156 307h8M202 307h2M156 308h9M202 308h3M156 309h10M201 309h3M150 310h2M157 310h6M184 310h5M200 310h5M109 311h3M155 311h13M186 311h4M200 311h4M107 312h8M131 312h1M152 312h17M179 312h6M199 312h6M108 313h2M112 313h3M126 313h2M131 313h3M144 313h1M150 313h15M175 313h1M180 313h3M184 313h6M199 313h6M105 314h1M108 314h4M120 314h3M128 314h3M140 314h4M149 314h18M173 314h1M175 314h1M185 314h4M199 314h4M107 315h4M113 315h10M131 315h13M150 315h18M173 315h1M176 315h1M178 315h5M185 315h3M199 315h4M108 316h1M112 316h15M138 316h5M151 316h17M172 316h2M176 316h2M185 316h3M197 316h8M110 317h5M118 317h9M134 317h34M171 317h6M185 317h2M197 317h5M106 318h8M116 318h7M129 318h3M133 318h35M171 318h20M194 318h12M104 319h68M173 319h16M191 319h2M195 319h12M104 320h31M137 320h5M143 320h41M186 320h1M193 320h16M103 321h32M138 321h7M147 321h42M193 321h12M97 322h3M103 322h27M132 322h12M148 322h16M166 322h7M175 322h13M191 322h9M202 322h6M92 323h1M98 323h10M110 323h14M125 323h9M137 323h4M148 323h35M190 323h10M206 323h2M86 324h2M97 324h26M127 324h16M149 324h26M178 324h7M190 324h13M205 324h3M67 325h3M85 325h2M92 325h3M96 325h39M136 325h39M178 325h7M189 325h19M209 325h2M67 326h3M82 326h4M91 326h4M97 326h103M202 326h9M67 327h7M81 327h2M92 327h8M103 327h35M142 327h32M176 327h23M203 327h8M67 328h7M90 328h10M102 328h68M177 328h21M204 328h7M66 329h7M86 329h1M91 329h4M98 329h47M146 329h23M173 329h6M180 329h19M202 329h8M68 330h4M97 330h23M124 330h44M171 330h40M68 331h4M98 331h1M101 331h37M139 331h5M145 331h3M150 331h18M170 331h9M182 331h7M191 331h8M201 331h8M68 332h8M91 332h3M101 332h20M122 332h15M139 332h40M180 332h8M189 332h9M203 332h5M67 333h11M91 333h3M97 333h31M130 333h5M136 333h28M167 333h31M202 333h2M68 334h5M75 334h4M92 334h41M137 334h1M141 334h23M170 334h30M204 334h1M71 335h1M75 335h2M89 335h111M203 335h8M212 335h1M72 336h6M94 336h50M146 336h25M173 336h26M204 336h6M71 337h10M82 337h1M97 337h47M145 337h57M207 337h2M68 338h11M80 338h3M98 338h2M104 338h91M197 338h5M69 339h14M99 339h2M103 339h1M106 339h37M146 339h49M69 340h10M80 340h2M96 340h4M102 340h35M139 340h4M145 340h33M181 340h15M70 341h9M80 341h2M92 341h1M96 341h3M103 341h28M133 341h4M140 341h7M148 341h29M180 341h15M200 341h3M206 341h2M70 342h12M92 342h7M103 342h29M133 342h10M148 342h28M180 342h3M186 342h10M199 342h8M71 343h11M96 343h1M103 343h35M141 343h24M166 343h10M179 343h5M186 343h17M210 343h2M71 344h6M94 344h4M101 344h25M127 344h11M142 344h23M168 344h31M202 344h5M210 344h1M71 345h9M94 345h5M106 345h33M141 345h54M196 345h3M72 346h8M91 346h5M109 346h29M140 346h61M76 347h7M93 347h3M98 347h8M107 347h2M111 347h20M133 347h5M140 347h56M199 347h7M76 348h7M93 348h115M74 349h11M95 349h34M130 349h48M181 349h31M74 350h11M95 350h33M130 350h70M202 350h10M74 351h14M95 351h2M99 351h29M130 351h2M136 351h28M165 351h14M182 351h21M76 352h1M79 352h6M87 352h3M95 352h25M130 352h3M134 352h68M75 353h15M102 353h18M130 353h34M167 353h30M199 353h3M73 354h19M104 354h20M130 354h33M167 354h6M174 354h10M185 354h21M73 355h19M103 355h28M138 355h63M202 355h11M76 356h17M96 356h2M102 356h28M132 356h5M138 356h35M176 356h25M202 356h11M76 357h13M101 357h28M132 357h33M166 357h9M179 357h2M184 357h16M201 357h11M77 358h10M92 358h5M100 358h37M138 358h25M166 358h40M207 358h3M74 359h1M77 359h9M100 359h34M139 359h60M200 359h5M76 360h2M79 360h6M92 360h5M98 360h2M103 360h32M138 360h31M170 360h22M194 360h15M76 361h9M90 361h10M103 361h23M127 361h84M77 362h8M88 362h13M105 362h31M139 362h73M78 363h15M97 363h5M106 363h23M130 363h6M138 363h31M171 363h38M210 363h2M79 364h14M99 364h29M131 364h5M139 364h30M170 364h31M204 364h3M79 365h15M97 365h26M126 365h1M136 365h54M195 365h4M80 366h6M87 366h4M93 366h17M111 366h19M136 366h37M175 366h16M195 366h3M83 367h3M89 367h5M97 367h32M135 367h43M180 367h11M194 367h3M200 367h3M84 368h1M90 368h4M98 368h35M134 368h28M173 368h6M180 368h24M82 369h12M95 369h109M205 369h5M82 370h3M88 370h11M100 370h27M130 370h5M142 370h24M168 370h42M83 371h4M88 371h10M101 371h8M111 371h15M140 371h16M161 371h3M168 371h19M189 371h11M207 371h1M84 372h15M100 372h36M140 372h26M169 372h9M179 372h14M199 372h1M209 372h3M84 373h47M133 373h4M140 373h23M169 373h14M186 373h16M206 373h6M83 374h6M92 374h39M132 374h32M167 374h16M185 374h18M208 374h5M82 375h9M93 375h5M103 375h26M134 375h70M87 376h6M94 376h2M104 376h7M112 376h1M115 376h91M82 377h1M86 377h8M97 377h3M104 377h25M131 377h62M194 377h7M203 377h8M83 378h28M112 378h17M132 378h60M195 378h3M207 378h4M82 379h15M99 379h29M132 379h28M163 379h34M206 379h3M85 380h9M99 380h28M130 380h79M86 381h9M99 381h28M129 381h11M144 381h40M187 381h24M84 382h4M98 382h7M107 382h27M135 382h5M145 382h63M210 382h2M85 383h2M97 383h2M101 383h3M108 383h12M125 383h8M137 383h52M191 383h13M207 383h4M98 384h2M104 384h17M123 384h11M137 384h33M175 384h10M192 384h2M195 384h16M96 385h1M99 385h3M104 385h8M116 385h8M125 385h9M137 385h31M173 385h9M199 385h11M100 386h1M105 386h2M111 386h1M117 386h7M126 386h25M154 386h27M202 386h1M204 386h5M99 387h6M110 387h4M118 387h16M135 387h29M165 387h18M190 387h4M196 387h9M207 387h2M99 388h6M107 388h7M119 388h9M129 388h2M140 388h17M158 388h4M166 388h23M192 388h8M205 388h3M106 389h7M117 389h16M141 389h44M187 389h4M193 389h3M106 390h7M121 390h6M130 390h5M141 390h11M160 390h19M193 390h2M105 391h9M121 391h34M160 391h16M106 392h7M121 392h13M138 392h17M167 392h4M173 392h4M139 393h9M150 393h4M173 393h4" stroke="#42be71"/><path d="M160 307h3M159 308h3M202 308h2M158 309h5M202 309h2M160 310h2M201 310h3M157 311h8M200 311h4M155 312h10M200 312h3M153 313h11M199 313h4M153 314h13M200 314h2M153 315h14M200 315h2M152 316h15M199 316h3M111 317h3M151 317h15M198 317h4M110 318h3M118 318h4M135 318h2M152 318h15M198 318h4M107 319h16M127 319h4M134 319h5M152 319h16M197 319h5M109 320h15M125 320h8M138 320h2M152 320h16M196 320h6M106 321h1M109 321h9M124 321h9M151 321h17M197 321h4M105 322h3M109 322h20M138 322h2M151 322h12M167 322h2M197 322h2M103 323h4M111 323h12M126 323h7M151 323h20M173 323h1M178 323h1M180 323h1M196 323h4M102 324h5M109 324h13M127 324h13M151 324h23M178 324h1M182 324h2M194 324h6M101 325h22M128 325h6M138 325h2M150 325h5M156 325h17M179 325h5M190 325h2M194 325h7M103 326h18M124 326h9M138 326h1M147 326h27M180 326h3M194 326h5M105 327h17M123 327h11M143 327h1M145 327h28M177 327h9M188 327h2M193 327h5M103 328h30M136 328h5M143 328h1M146 328h22M178 328h20M99 329h33M137 329h4M143 329h1M147 329h21M181 329h3M186 329h6M194 329h4M70 330h1M98 330h21M125 330h42M172 330h17M190 330h9M70 331h1M103 331h25M129 331h8M140 331h3M146 331h2M151 331h15M171 331h5M184 331h4M191 331h7M70 332h3M106 332h14M123 332h12M140 332h9M152 332h12M167 332h6M183 332h4M190 332h7M71 333h2M98 333h29M131 333h3M138 333h13M152 333h11M171 333h3M176 333h7M184 333h13M97 334h28M130 334h2M141 334h23M172 334h27M106 335h30M140 335h4M146 335h23M174 335h5M182 335h17M75 336h1M97 336h5M106 336h21M130 336h12M148 336h13M162 336h7M174 336h25M207 336h2M74 337h3M99 337h1M104 337h23M130 337h13M147 337h18M166 337h5M173 337h3M180 337h16M197 337h4M71 338h6M106 338h22M147 338h30M180 338h15M198 338h1M73 339h2M107 339h19M130 339h7M147 339h28M177 339h18M73 340h5M106 340h19M132 340h3M148 340h28M182 340h13M73 341h4M106 341h23M149 341h27M181 341h4M186 341h9M72 342h6M109 342h21M134 342h7M149 342h17M168 342h8M181 342h1M187 342h8M202 342h2M73 343h5M106 343h26M134 343h3M145 343h19M168 343h7M180 343h3M187 343h10M200 343h2M74 344h2M106 344h19M129 344h8M143 344h21M169 344h6M177 344h5M186 344h13M75 345h2M108 345h16M128 345h10M142 345h23M168 345h26M75 346h4M111 346h20M142 346h42M186 346h8M76 347h4M111 347h13M126 347h5M135 347h2M142 347h4M148 347h32M182 347h13M77 348h3M103 348h25M132 348h4M140 348h6M148 348h15M164 348h32M198 348h8M76 349h4M100 349h11M112 349h16M132 349h4M137 349h41M185 349h18M204 349h5M76 350h3M100 350h4M108 350h3M113 350h12M131 350h29M165 350h13M185 350h15M101 351h10M113 351h8M124 351h2M136 351h25M166 351h5M173 351h5M183 351h18M82 352h1M102 352h17M135 352h28M166 352h24M193 352h1M76 353h5M104 353h15M131 353h32M168 353h4M173 353h17M191 353h4M78 354h8M105 354h16M132 354h4M142 354h1M147 354h15M168 354h4M175 354h8M186 354h11M198 354h2M78 355h7M104 355h23M128 355h2M139 355h1M143 355h2M147 355h14M162 355h10M178 355h22M204 355h1M77 356h10M104 356h3M108 356h21M133 356h2M140 356h25M168 356h4M181 356h15M197 356h2M203 356h7M77 357h10M105 357h23M133 357h5M139 357h23M168 357h6M184 357h10M195 357h4M203 357h5M78 358h7M104 358h21M128 358h2M133 358h3M140 358h22M167 358h6M179 358h14M195 358h4M78 359h6M106 359h20M127 359h6M140 359h4M145 359h15M170 359h7M179 359h12M80 360h4M104 360h22M128 360h5M139 360h24M178 360h13M79 361h5M104 361h18M129 361h4M139 361h24M170 361h4M178 361h13M193 361h9M204 361h5M79 362h5M106 362h20M134 362h1M140 362h23M165 362h2M174 362h23M198 362h13M81 363h4M107 363h20M140 363h28M173 363h35M81 364h5M101 364h22M141 364h26M172 364h17M195 364h4M81 365h4M99 365h9M111 365h12M141 365h22M164 365h23M102 366h7M112 366h12M142 366h20M165 366h7M176 366h2M180 366h6M84 367h1M102 367h26M142 367h20M165 367h13M181 367h6M100 368h5M111 368h17M145 368h14M174 368h4M181 368h7M194 368h3M200 368h2M97 369h9M109 369h19M144 369h15M169 369h3M174 369h4M180 369h12M194 369h8M90 370h7M101 370h4M110 370h16M143 370h16M169 370h24M196 370h4M201 370h1M90 371h7M102 371h6M112 371h14M142 371h13M169 371h8M179 371h7M85 372h4M92 372h6M101 372h7M111 372h15M129 372h1M141 372h14M170 372h7M179 372h6M85 373h14M108 373h1M113 373h17M141 373h19M169 373h5M176 373h7M85 374h3M93 374h5M105 374h5M113 374h16M135 374h4M141 374h19M168 374h6M176 374h6M186 374h2M190 374h7M198 374h4M85 375h2M94 375h2M105 375h3M111 375h2M116 375h10M136 375h25M168 375h14M185 375h19M88 376h4M106 376h3M116 376h10M140 376h48M190 376h15M88 377h5M106 377h4M114 377h13M132 377h5M139 377h47M189 377h3M195 377h4M87 378h3M91 378h9M105 378h2M113 378h13M127 378h1M132 378h6M141 378h18M163 378h2M167 378h24M85 379h10M102 379h9M114 379h9M133 379h4M142 379h17M164 379h6M172 379h12M87 380h6M101 380h7M110 380h2M114 380h9M131 380h2M137 380h2M143 380h25M171 380h14M188 380h5M90 381h3M106 381h6M113 381h12M131 381h1M146 381h19M169 381h14M188 381h18M101 382h3M107 382h15M124 382h3M145 382h6M153 382h11M167 382h17M185 382h3M191 382h9M109 383h11M126 383h2M131 383h1M145 383h6M152 383h5M159 383h13M173 383h14M192 383h7M105 384h4M115 384h4M125 384h5M140 384h3M145 384h24M175 384h6M107 385h2M140 385h2M144 385h7M154 385h10M173 385h6M118 386h4M140 386h2M144 386h6M155 386h3M160 386h7M172 386h7M121 387h1M140 387h11M166 387h1M169 387h13M141 388h14M172 388h10M143 389h9M172 389h10M144 390h7M173 390h4M140 391h12M173 391h2M143 392h5M150 392h1M174 392h1M145 393h2" stroke="#54c568"/><path d="M160 309h2M202 309h1M202 310h1M159 311h4M201 311h2M158 312h5M201 312h2M157 313h6M200 313h2M156 314h8M200 314h2M155 315h9M200 315h1M155 316h8M199 316h2M154 317h11M199 317h2M154 318h11M198 318h3M110 319h4M154 319h9M198 319h3M110 320h4M154 320h11M197 320h4M110 321h3M115 321h1M155 321h10M198 321h2M110 322h7M154 322h8M197 322h2M113 323h6M155 323h8M197 323h2M112 324h8M129 324h4M153 324h13M196 324h3M106 325h15M153 325h1M157 325h10M195 325h4M106 326h14M129 326h3M152 326h14M195 326h4M107 327h13M125 327h4M151 327h15M194 327h4M106 328h26M151 328h14M194 328h4M104 329h16M126 329h3M148 329h16M194 329h4M104 330h12M127 330h7M150 330h16M194 330h4M104 331h17M125 331h2M131 331h3M151 331h13M192 331h6M107 332h11M124 332h5M144 332h5M154 332h9M192 332h5M105 333h14M144 333h6M153 333h9M186 333h10M104 334h18M146 334h17M188 334h9M107 335h12M152 335h10M185 335h14M107 336h13M149 336h11M186 336h12M107 337h14M150 337h13M186 337h10M108 338h14M150 338h14M187 338h8M109 339h13M150 339h14M187 339h2M191 339h3M110 340h13M149 340h17M187 340h7M111 341h14M150 341h16M188 341h6M111 342h14M149 342h16M188 342h6M109 343h10M120 343h5M150 343h13M169 343h5M188 343h8M109 344h9M120 344h4M147 344h16M170 344h4M188 344h6M109 345h10M120 345h3M147 345h2M152 345h12M169 345h4M177 345h2M186 345h7M112 346h11M145 346h4M151 346h14M168 346h6M176 346h2M187 346h6M112 347h11M149 347h14M166 347h11M187 347h5M111 348h13M149 348h12M167 348h9M177 348h1M187 348h6M113 349h9M147 349h14M166 349h2M169 349h8M186 349h13M114 350h7M145 350h14M167 350h4M174 350h2M187 350h12M109 351h1M115 351h5M144 351h16M167 351h3M174 351h3M184 351h6M193 351h1M109 352h10M143 352h19M167 352h5M174 352h3M182 352h7M109 353h10M144 353h4M150 353h12M169 353h2M174 353h3M182 353h1M186 353h3M79 354h2M109 354h11M148 354h12M181 354h1M186 354h8M79 355h2M109 355h12M148 355h12M183 355h11M79 356h3M109 356h14M143 356h2M148 356h14M183 356h11M81 357h2M112 357h10M143 357h18M185 357h4M190 357h3M80 358h2M109 358h14M145 358h15M183 358h5M81 359h1M109 359h15M146 359h12M182 359h6M81 360h2M109 360h12M145 360h16M182 360h6M81 361h2M111 361h10M142 361h4M148 361h7M157 361h3M182 361h7M82 362h1M111 362h10M142 362h6M149 362h8M158 362h1M182 362h9M199 362h1M202 362h3M82 363h1M109 363h5M116 363h4M144 363h3M149 363h11M177 363h15M83 364h1M109 364h9M121 364h1M143 364h3M149 364h8M176 364h12M112 365h10M144 365h14M180 365h6M112 366h10M144 366h14M181 366h4M112 367h7M120 367h4M146 367h13M175 367h2M181 367h5M112 368h3M117 368h7M146 368h12M176 368h2M181 368h6M111 369h4M116 369h5M124 369h1M146 369h12M181 369h10M111 370h11M123 370h1M144 370h14M179 370h8M189 370h1M113 371h12M143 371h11M180 371h4M113 372h6M121 372h4M142 372h11M180 372h3M86 373h3M114 373h10M142 373h15M179 373h4M114 374h8M144 374h13M178 374h4M116 375h5M142 375h15M177 375h5M186 375h2M195 375h1M89 376h2M116 376h5M142 376h15M179 376h3M191 376h6M89 377h2M116 377h6M145 377h11M171 377h6M178 377h4M114 378h8M143 378h13M170 378h2M175 378h7M116 379h6M145 379h11M174 379h7M115 380h7M146 380h8M172 380h10M115 381h7M146 381h5M171 381h11M115 382h6M146 382h5M169 382h3M175 382h8M145 383h5M175 383h7M146 384h9M176 384h3M145 385h6M174 385h4M145 386h5M174 386h5M145 387h5M174 387h5M144 388h7M174 388h3M145 389h5M174 389h4M145 390h5M174 390h2M146 391h3" stroke="#67cc5c"/><path d="M160 311h1M160 312h2M201 312h1M159 313h3M201 313h1M158 314h4M157 315h6M157 316h5M200 316h1M156 317h7M199 317h2M156 318h7M199 318h1M157 319h5M198 319h2M156 320h7M198 320h2M156 321h6M198 321h1M155 322h7M156 323h6M197 323h2M155 324h9M196 324h3M109 325h7M157 325h5M196 325h3M108 326h9M154 326h9M195 326h3M109 327h8M153 327h11M195 327h3M109 328h9M153 328h11M195 328h2M107 329h9M152 329h11M195 329h2M107 330h8M152 330h11M195 330h2M108 331h8M152 331h11M193 331h4M108 332h8M154 332h8M193 332h3M107 333h11M153 333h8M191 333h5M108 334h10M152 334h10M190 334h6M109 335h9M153 335h8M190 335h7M109 336h9M153 336h6M190 336h7M109 337h9M154 337h7M191 337h4M109 338h10M151 338h12M191 338h3M110 339h9M151 339h11M192 339h2M111 340h8M150 340h13M190 340h4M112 341h8M150 341h13M190 341h3M112 342h5M150 342h10M189 342h5M111 343h5M151 343h10M189 343h5M110 344h6M151 344h9M189 344h4M111 345h7M153 345h9M188 345h4M113 346h8M153 346h9M188 346h4M112 347h8M150 347h11M188 347h3M112 348h7M149 348h11M187 348h5M114 349h6M148 349h11M187 349h6M115 350h5M149 350h9M188 350h5M117 351h1M150 351h9M187 351h3M114 352h4M150 352h10M187 352h2M114 353h5M151 353h9M186 353h3M112 354h8M149 354h10M186 354h4M112 355h8M148 355h11M185 355h7M113 356h7M148 356h11M185 356h7M113 357h5M148 357h11M185 357h3M112 358h7M147 358h11M184 358h4M112 359h9M147 359h10M183 359h5M113 360h7M146 360h13M183 360h4M112 361h3M116 361h4M150 361h5M183 361h4M113 362h2M118 362h1M145 362h2M150 362h6M183 362h5M150 363h6M182 363h6M150 364h6M182 364h5M113 365h6M146 365h11M182 365h3M113 366h7M146 366h10M181 366h4M147 367h10M182 367h3M113 368h1M147 368h10M182 368h4M113 369h1M117 369h3M147 369h10M181 369h5M113 370h8M146 370h10M180 370h5M114 371h6M146 371h7M180 371h3M114 372h5M145 372h7M180 372h3M114 373h7M145 373h11M180 373h2M115 374h6M145 374h10M179 374h3M117 375h3M145 375h9M178 375h4M117 376h3M146 376h9M179 376h2M118 377h2M147 377h7M179 377h2M117 378h3M145 378h9M177 378h4M117 379h2M146 379h8M176 379h5M147 380h6M176 380h5M119 381h1M147 381h4M176 381h5M146 382h5M176 382h5M146 383h4M176 383h4M146 384h5M176 384h3M146 385h4M175 385h3M147 386h3M175 386h3M146 387h3M175 387h3M147 388h2M175 388h2M147 389h1M176 389h1M146 390h3M147 391h1" stroke="#7cd250"/><path d="M160 312h1M160 313h1M159 314h3M159 315h3M158 316h4M158 317h4M158 318h4M199 318h1M158 319h3M199 319h1M157 320h5M157 321h5M157 322h4M157 323h3M158 324h4M197 324h1M111 325h3M158 325h3M197 325h1M111 326h3M156 326h5M196 326h2M110 327h5M155 327h7M196 327h1M113 328h2M154 328h8M195 328h2M154 329h7M195 329h2M109 330h5M153 330h8M195 330h2M109 331h6M155 331h7M194 331h3M110 332h5M155 332h5M193 332h3M110 333h6M154 333h7M193 333h3M110 334h6M153 334h8M193 334h3M110 335h7M153 335h7M192 335h4M110 336h6M154 336h4M191 336h5M111 337h5M155 337h5M191 337h4M111 338h1M114 338h3M153 338h8M191 338h3M113 339h4M153 339h8M192 339h1M112 340h6M152 340h9M191 340h2M113 341h3M154 341h5M190 341h3M151 342h8M190 342h3M151 343h9M190 343h3M112 344h3M152 344h7M189 344h4M112 345h5M153 345h6M189 345h3M114 346h3M153 346h4M189 346h2M113 347h4M151 347h6M188 347h3M113 348h3M151 348h8M188 348h3M114 349h2M150 349h8M187 349h5M151 350h7M188 350h3M151 351h7M187 351h2M114 352h3M151 352h6M114 353h4M151 353h8M187 353h1M114 354h3M151 354h7M187 354h2M113 355h5M149 355h9M185 355h5M114 356h4M149 356h7M185 356h4M114 357h3M149 357h9M185 357h3M114 358h4M148 358h9M184 358h3M114 359h3M148 359h8M184 359h3M114 360h4M148 360h9M184 360h3M150 361h4M183 361h3M150 362h5M183 362h4M150 363h5M183 363h4M151 364h4M183 364h3M116 365h2M147 365h8M182 365h3M114 366h5M147 366h8M182 366h2M148 367h8M182 367h3M148 368h8M182 368h3M118 369h1M148 369h7M181 369h4M117 370h3M148 370h5M180 370h4M115 371h4M147 371h5M181 371h2M116 372h2M146 372h6M180 372h2M116 373h4M146 373h8M180 373h2M116 374h4M146 374h7M179 374h3M117 375h2M147 375h6M179 375h2M147 376h6M180 376h1M148 377h5M179 377h1M147 378h5M178 378h3M147 379h5M177 379h3M148 380h3M177 380h3M147 381h4M177 381h3M147 382h3M177 382h3M147 383h3M176 383h3M147 384h3M177 384h1M147 385h3M176 385h2M147 386h2M175 386h3M147 387h2M175 387h2" stroke="#93d741"/><path d="M160 313h1M160 314h1M159 315h2M159 316h2M159 317h2M158 318h3M158 319h3M158 320h3M158 321h3M158 322h2M157 323h3M158 324h1M197 324h1M158 325h3M156 326h4M156 327h4M196 327h1M156 328h4M155 329h5M195 329h2M112 330h1M155 330h5M195 330h1M112 331h2M156 331h4M194 331h2M112 332h1M155 332h4M194 332h2M154 333h6M194 333h1M112 334h2M154 334h6M194 334h1M112 335h3M154 335h6M193 335h2M155 336h3M192 336h3M112 337h3M155 337h4M192 337h2M154 338h5M192 338h2M114 339h2M154 339h5M113 340h3M154 340h4M155 341h3M191 341h1M153 342h5M190 342h3M152 343h7M190 343h3M152 344h6M190 344h2M154 345h3M189 345h2M153 346h3M189 346h2M114 347h1M152 347h4M189 347h2M114 348h1M152 348h6M188 348h3M152 349h5M188 349h3M152 350h5M188 350h2M152 351h5M188 351h1M115 352h1M151 352h5M152 353h5M187 353h1M151 354h5M187 354h1M150 355h6M186 355h3M115 356h1M150 356h5M186 356h2M115 357h1M150 357h7M186 357h2M149 358h7M185 358h2M149 359h6M185 359h2M150 360h5M184 360h2M151 361h3M184 361h2M151 362h3M183 362h3M150 363h4M183 363h3M151 364h3M183 364h2M150 365h4M183 365h2M116 366h2M149 366h5M182 366h2M149 367h6M182 367h2M148 368h6M182 368h2M149 369h5M182 369h2M148 370h5M181 370h2M148 371h4M181 371h1M148 372h4M181 372h1M148 373h5M180 373h2M148 374h4M180 374h1M148 375h4M179 375h2M148 376h4M148 377h4M148 378h3M178 378h2M148 379h3M178 379h2M148 380h2M177 380h3M148 381h2M177 381h3M148 382h2M177 382h2M148 383h1M177 383h2M148 384h2M148 385h1M176 385h1M148 386h1M176 386h1M176 387h1" stroke="#addc30"/><path d="M159 316h2M159 317h2M159 318h1M159 319h1M159 320h1M158 321h2M158 322h2M158 323h1M158 325h2M157 326h3M157 327h3M157 328h2M156 329h3M156 330h3M156 331h3M195 331h1M156 332h3M194 332h1M155 333h4M194 333h1M155 334h4M155 335h4M155 336h2M193 336h2M155 337h3M192 337h2M155 338h3M192 338h1M154 339h4M155 340h3M155 341h3M154 342h3M191 342h1M153 343h5M191 343h1M153 344h5M190 344h2M154 345h2M190 345h1M154 346h2M190 346h1M153 347h3M189 347h1M153 348h4M189 348h2M153 349h4M188 349h2M153 350h3M189 350h1M152 351h4M152 352h4M152 353h3M152 354h3M152 355h3M186 355h2M151 356h4M186 356h2M151 357h5M186 357h1M151 358h4M185 358h2M150 359h5M185 359h1M151 360h3M185 360h1M151 361h2M184 361h2M151 362h3M184 362h2M151 363h2M184 363h2M151 364h2M184 364h1M151 365h2M183 365h1M150 366h3M150 367h4M182 367h2M149 368h4M183 368h1M149 369h4M182 369h2M149 370h3M181 370h2M149 371h3M149 372h3M181 372h1M149 373h3M149 374h3M180 374h1M149 375h2M180 375h1M149 376h2M149 377h2M148 378h3M178 378h2M148 379h3M178 379h2M149 380h1M178 380h1M148 381h2M178 381h1M148 382h2M178 382h1M148 383h1M177 383h1M148 384h1M176 386h1" stroke="#c5e021"/><path d="M159 319h1M159 320h1M159 321h1M158 322h2M158 326h1M157 327h2M157 328h2M157 329h2M156 330h3M156 331h3M156 332h2M156 333h3M156 334h2M155 335h3M156 336h1M193 336h1M156 337h2M193 337h1M155 338h2M155 339h2M155 340h2M155 341h2M154 342h3M154 343h3M191 343h1M154 344h3M155 345h1M190 345h1M154 346h2M153 347h3M189 347h1M153 348h3M189 348h1M153 349h3M189 349h1M153 350h3M153 351h3M153 352h2M153 353h2M152 354h3M152 355h3M187 355h1M152 356h3M186 356h1M151 357h4M186 357h1M151 358h4M151 359h3M185 359h1M152 360h2M185 360h1M152 361h1M151 362h2M184 362h1M151 363h2M184 363h1M152 364h1M151 365h2M150 366h3M150 367h3M150 368h3M150 369h3M182 369h1M150 370h2M182 370h1M150 371h2M149 372h2M150 373h1M149 374h2M149 375h2M149 376h2M149 377h2M149 378h1M149 379h1M178 380h1M178 381h1" stroke="#dde318"/><path d="M158 326h1M158 327h1M157 328h2M157 329h2M157 330h1M157 331h1M157 332h1M156 333h2M156 334h2M156 335h2M156 337h1M156 338h1M155 339h2M155 340h2M155 341h2M155 342h2M154 343h3M154 344h2M154 346h1M154 347h1M154 348h2M153 349h3M189 349h1M153 350h2M153 351h2M153 352h2M153 353h2M153 354h2M153 355h1M152 356h2M152 357h2M152 358h2M152 359h2M152 360h1M152 362h1M152 363h1M184 363h1M151 366h1M151 367h1M150 368h2M150 369h2M182 369h1M150 370h2M150 371h1M150 372h1M150 373h1M150 374h1M150 375h1" stroke="#f4e61e"/></g>
<rect x="55.04" y="302.19" width="42.87" height="89.38" fill="none" stroke="#fff" stroke-width="1.25" stroke-dasharray="2.3 1.8"/>
<text x="76.48" y="400.17" font-size="7.20" text-anchor="middle" fill="#f4f6f4" font-style="italic">A<tspan font-size="4.90" dy="1.30" font-style="normal">0,ref</tspan></text>
<rect x="101.78" y="302.19" width="22.71" height="89.38" fill="none" stroke="#fff" stroke-width="1.25" stroke-dasharray="2.3 1.8"/>
<text x="113.14" y="400.17" font-size="7.20" text-anchor="middle" fill="#f4f6f4" font-style="italic">S<tspan font-size="4.90" dy="1.30" font-style="normal">0,ref</tspan></text>
<rect x="142.31" y="302.19" width="22.00" height="89.38" fill="none" stroke="#fff" stroke-width="1.25" stroke-dasharray="2.3 1.8"/>
<text x="153.31" y="400.17" font-size="7.20" text-anchor="middle" fill="#f4f6f4" font-style="italic">S<tspan font-size="4.90" dy="1.30" font-style="normal">0,inc</tspan></text>
<rect x="168.81" y="302.19" width="42.83" height="89.38" fill="none" stroke="#fff" stroke-width="1.25" stroke-dasharray="2.3 1.8"/>
<text x="190.22" y="400.17" font-size="7.20" text-anchor="middle" fill="#f4f6f4" font-style="italic">A<tspan font-size="4.90" dy="1.30" font-style="normal">0,inc</tspan></text>
<text x="33.30" y="465.30" font-size="7.20" text-anchor="end" fill="#444">0</text>
<text x="33.30" y="446.08" font-size="7.20" text-anchor="end" fill="#444">0.5</text>
<text x="33.30" y="426.86" font-size="7.20" text-anchor="end" fill="#444">1</text>
<text x="33.30" y="407.63" font-size="7.20" text-anchor="end" fill="#444">1.5</text>
<text x="33.30" y="388.41" font-size="7.20" text-anchor="end" fill="#444">2</text>
<text x="33.30" y="369.19" font-size="7.20" text-anchor="end" fill="#444">2.5</text>
<text x="33.30" y="349.97" font-size="7.20" text-anchor="end" fill="#444">3</text>
<text x="33.30" y="330.74" font-size="7.20" text-anchor="end" fill="#444">3.5</text>
<text x="33.30" y="311.52" font-size="7.20" text-anchor="end" fill="#444">4</text>
<text x="33.30" y="292.30" font-size="7.20" text-anchor="end" fill="#444">4.5</text>
<text x="38.30" y="470.10" font-size="7.20" text-anchor="middle" fill="#444">−250</text>
<text x="57.36" y="470.10" font-size="7.20" text-anchor="middle" fill="#444">−200</text>
<text x="76.42" y="470.10" font-size="7.20" text-anchor="middle" fill="#444">−150</text>
<text x="95.48" y="470.10" font-size="7.20" text-anchor="middle" fill="#444">−100</text>
<text x="114.54" y="470.10" font-size="7.20" text-anchor="middle" fill="#444">−50</text>
<text x="133.60" y="470.10" font-size="7.20" text-anchor="middle" fill="#444">0</text>
<text x="152.66" y="470.10" font-size="7.20" text-anchor="middle" fill="#444">50</text>
<text x="171.72" y="470.10" font-size="7.20" text-anchor="middle" fill="#444">100</text>
<text x="190.78" y="470.10" font-size="7.20" text-anchor="middle" fill="#444">150</text>
<text x="209.84" y="470.10" font-size="7.20" text-anchor="middle" fill="#444">200</text>
<text x="228.90" y="470.10" font-size="7.20" text-anchor="middle" fill="#444">250</text>
<text x="36.30" y="287.30" font-size="7.20" text-anchor="start" fill="#444">·10<tspan font-size="5.00" dy="-2.60">5</tspan></text>
<text x="133.60" y="480.90" font-size="7.40" text-anchor="middle" fill="#444">k<tspan font-size="5.20" dy="1.20" font-style="normal">x</tspan><tspan dy="-1.2"> [1/m]</tspan></text>
<text transform="translate(13.60,376.00) rotate(-90)" font-size="7.4" fill="#444" text-anchor="middle">f [Hz]</text>
<linearGradient id="cb35_289" x1="0" y1="0" x2="0" y2="1"><stop offset="0.000" stop-color="#fde725"/><stop offset="0.062" stop-color="#d8e219"/><stop offset="0.125" stop-color="#addc30"/><stop offset="0.188" stop-color="#84d44b"/><stop offset="0.250" stop-color="#5ec962"/><stop offset="0.312" stop-color="#3fbc73"/><stop offset="0.375" stop-color="#28ae80"/><stop offset="0.438" stop-color="#1fa088"/><stop offset="0.500" stop-color="#21918c"/><stop offset="0.562" stop-color="#26828e"/><stop offset="0.625" stop-color="#2c728e"/><stop offset="0.688" stop-color="#33638d"/><stop offset="0.750" stop-color="#3b528b"/><stop offset="0.812" stop-color="#424086"/><stop offset="0.875" stop-color="#472d7b"/><stop offset="0.938" stop-color="#48186a"/><stop offset="1.000" stop-color="#440154"/></linearGradient>
<rect x="241.50" y="289.50" width="10.20" height="173.00" fill="url(#cb35_289)" stroke="#000" stroke-opacity="0.4" stroke-width="0.35"/>
<text x="254.10" y="302.00" font-size="7.20" text-anchor="start" fill="#444">10<tspan font-size="5.40" dy="-3.10">1</tspan></text>
<text x="254.10" y="328.65" font-size="7.20" text-anchor="start" fill="#444">10<tspan font-size="5.40" dy="-3.10">0</tspan></text>
<text x="254.10" y="355.30" font-size="7.20" text-anchor="start" fill="#444">10<tspan font-size="5.40" dy="-3.10">−1</tspan></text>
<text x="254.10" y="381.95" font-size="7.20" text-anchor="start" fill="#444">10<tspan font-size="5.40" dy="-3.10">−2</tspan></text>
<text x="254.10" y="408.60" font-size="7.20" text-anchor="start" fill="#444">10<tspan font-size="5.40" dy="-3.10">−3</tspan></text>
<text x="254.10" y="435.25" font-size="7.20" text-anchor="start" fill="#444">10<tspan font-size="5.40" dy="-3.10">−4</tspan></text>
<text x="254.10" y="461.90" font-size="7.20" text-anchor="start" fill="#444">10<tspan font-size="5.40" dy="-3.10">−5</tspan></text>
<text x="239.70" y="281.70" font-size="6.90" text-anchor="start" fill="#444">Mag.</text>
<rect x="305" y="289" width="197" height="174" fill="#423f85" shape-rendering="crispEdges"/><g fill="none" stroke-width="1" shape-rendering="crispEdges" transform="translate(0,0.5)"><path d="M305 289h197M305 290h197M305 291h197M305 292h197M305 293h197M305 294h197M305 295h197M305 296h197M305 297h197M305 298h197M305 299h197M305 300h197M305 301h197M305 302h197M305 303h197M305 304h197M305 305h197M305 306h197M305 307h197M305 308h197M305 309h197M305 310h197M305 311h197M305 312h197M305 313h197M305 314h197M305 315h197M305 316h197M305 317h197M305 318h197M305 319h197M305 320h197M305 321h197M305 322h197M305 323h197M305 324h197M305 325h197M305 326h197M305 327h197M305 328h197M305 329h197M305 330h197M305 331h197M305 332h197M305 333h197M305 334h197M305 335h197M305 336h197M305 337h197M305 338h197M305 339h197M305 340h197M305 341h197M305 342h197M305 343h197M305 344h197M305 345h197M305 346h197M305 347h197M305 348h197M305 349h197M305 350h197M305 351h197M305 352h197M305 353h197M305 354h197M305 355h197M305 356h197M305 357h197M305 358h197M305 359h197M305 360h197M305 361h197M305 362h197M305 363h197M305 364h197M305 365h197M305 366h197M305 367h197M305 368h197M305 369h197M305 370h197M305 371h197M305 372h197M305 373h197M305 374h197M305 375h197M305 376h197M305 377h197M305 378h197M305 379h197M305 380h197M305 381h197M305 382h197M305 383h197M305 384h197M305 385h197M305 386h197M305 387h197M305 388h197M305 389h197M305 390h197M305 391h197M305 392h197M305 393h197M305 394h197M305 395h197M305 396h197M305 397h197M305 398h197M305 399h197M305 400h197M305 401h197M305 402h197M305 403h197M305 404h197M305 405h197M305 406h197M305 407h197M305 408h197M305 409h197M305 410h197M305 411h197M305 412h175M481 412h21M305 413h175M481 413h21M305 414h175M481 414h21M305 415h175M481 415h21M305 416h175M481 416h21M305 417h175M481 417h21M305 418h175M481 418h21M305 419h175M481 419h21M305 420h175M481 420h21M305 421h175M481 421h21M305 422h175M481 422h21M305 423h175M481 423h21M305 424h175M481 424h21M305 425h175M481 425h21M305 426h175M481 426h21M305 427h175M481 427h21M305 428h175M481 428h21M305 429h175M481 429h21M305 430h175M481 430h21M305 431h175M481 431h21M305 432h175M481 432h21M305 433h175M481 433h21M305 434h175M481 434h21M305 435h175M481 435h21M305 436h175M481 436h21M305 437h175M481 437h21M305 438h175M481 438h21M305 439h175M481 439h21M305 440h175M481 440h21M305 441h175M481 441h21M305 442h175M481 442h21M305 443h175M481 443h21M305 444h175M481 444h21M305 445h175M481 445h21M305 446h175M481 446h21M305 447h175M481 447h21M305 448h175M481 448h21M305 449h175M481 449h21M305 450h175M481 450h21M305 451h175M481 451h21M305 452h175M481 452h21M305 453h175M481 453h21M305 454h175M481 454h21M305 455h175M481 455h21M305 456h175M481 456h21M305 457h175M481 457h21M305 458h197M305 459h197M305 460h197M305 461h197M305 462h197" stroke="#3d4d8a"/><path d="M305 289h82M389 289h113M305 290h83M389 290h113M305 291h197M305 292h197M305 293h197M305 294h197M305 295h197M305 296h197M305 297h197M305 298h197M305 299h197M305 300h197M305 301h197M305 302h197M305 303h197M305 304h197M305 305h197M305 306h197M305 307h197M305 308h197M305 309h197M305 310h197M305 311h197M305 312h197M305 313h197M305 314h197M305 315h197M305 316h197M305 317h197M305 318h197M305 319h197M305 320h197M305 321h197M305 322h197M305 323h197M305 324h197M305 325h197M305 326h197M305 327h197M305 328h197M305 329h197M305 330h197M305 331h197M305 332h197M305 333h197M305 334h197M305 335h197M305 336h197M305 337h197M305 338h197M305 339h197M305 340h197M305 341h197M305 342h197M305 343h197M305 344h197M305 345h197M305 346h197M305 347h197M305 348h197M305 349h197M305 350h197M305 351h197M305 352h197M305 353h197M305 354h197M305 355h197M305 356h197M305 357h197M305 358h197M305 359h197M305 360h197M305 361h197M305 362h197M305 363h197M305 364h197M305 365h197M305 366h197M305 367h197M305 368h197M305 369h197M305 370h197M305 371h197M305 372h197M305 373h197M305 374h197M305 375h197M305 376h197M305 377h197M305 378h197M305 379h197M305 380h197M305 381h197M305 382h197M305 383h197M305 384h197M305 385h197M305 386h197M305 387h197M305 388h197M305 389h197M305 390h197M305 391h197M305 392h197M305 393h197M305 394h197M305 395h197M305 396h197M305 397h197M305 398h175M481 398h21M305 399h174M481 399h11M493 399h9M305 400h174M482 400h10M493 400h9M305 401h174M482 401h9M493 401h9M305 402h174M482 402h9M493 402h9M305 403h174M482 403h9M494 403h8M305 404h174M482 404h9M494 404h8M305 405h174M482 405h9M494 405h8M305 406h174M482 406h9M494 406h8M305 407h174M482 407h9M494 407h8M305 408h174M482 408h9M494 408h8M305 409h174M482 409h9M494 409h8M305 410h173M482 410h9M494 410h8M305 411h173M482 411h8M494 411h8M305 412h40M346 412h132M482 412h8M495 412h7M305 413h40M347 413h131M482 413h8M495 413h7M305 414h40M347 414h131M482 414h8M495 414h1M497 414h5M305 415h40M347 415h6M354 415h124M482 415h8M495 415h1M498 415h4M305 416h40M347 416h6M354 416h99M454 416h24M482 416h8M495 416h1M498 416h4M305 417h40M347 417h6M354 417h99M454 417h24M482 417h8M495 417h1M498 417h4M305 418h40M347 418h6M354 418h99M454 418h24M482 418h8M495 418h1M498 418h4M305 419h40M347 419h6M354 419h99M454 419h24M482 419h8M495 419h1M498 419h4M305 420h40M347 420h6M354 420h99M454 420h24M482 420h8M495 420h1M498 420h4M305 421h40M347 421h6M354 421h99M454 421h24M482 421h8M495 421h1M498 421h4M305 422h40M347 422h6M354 422h99M454 422h24M482 422h8M495 422h1M498 422h4M305 423h40M347 423h6M354 423h99M454 423h24M482 423h8M495 423h1M498 423h4M305 424h40M347 424h6M354 424h99M454 424h24M482 424h8M495 424h1M498 424h4M305 425h40M347 425h6M354 425h99M454 425h24M482 425h8M495 425h1M498 425h4M305 426h40M347 426h6M354 426h99M454 426h24M482 426h8M495 426h1M498 426h4M305 427h40M347 427h6M354 427h99M454 427h24M482 427h8M495 427h1M498 427h4M305 428h40M347 428h6M354 428h99M454 428h24M482 428h8M495 428h1M498 428h4M305 429h40M347 429h6M354 429h99M454 429h24M482 429h8M495 429h1M498 429h4M305 430h40M347 430h6M354 430h99M454 430h24M482 430h8M495 430h1M498 430h4M305 431h40M347 431h6M354 431h99M454 431h24M482 431h8M495 431h1M498 431h4M305 432h40M347 432h6M354 432h99M454 432h24M482 432h8M495 432h1M498 432h4M305 433h40M347 433h6M354 433h99M454 433h24M482 433h8M495 433h1M498 433h4M305 434h40M347 434h6M354 434h99M454 434h24M482 434h8M495 434h1M498 434h4M305 435h40M347 435h6M354 435h99M454 435h24M482 435h8M495 435h1M498 435h4M305 436h40M347 436h6M354 436h99M454 436h24M482 436h8M495 436h1M498 436h4M305 437h40M347 437h6M354 437h99M454 437h24M482 437h8M495 437h1M498 437h4M305 438h40M347 438h6M354 438h99M454 438h24M482 438h8M495 438h1M498 438h4M305 439h40M347 439h6M354 439h99M454 439h24M482 439h8M495 439h1M498 439h4M305 440h40M347 440h6M354 440h99M454 440h24M482 440h8M495 440h1M498 440h4M305 441h40M347 441h6M354 441h99M454 441h24M482 441h8M495 441h1M498 441h4M305 442h40M347 442h6M354 442h99M454 442h24M482 442h8M495 442h1M498 442h4M305 443h40M347 443h6M354 443h99M454 443h24M482 443h8M495 443h1M498 443h4M305 444h40M347 444h6M354 444h99M454 444h24M482 444h8M495 444h1M498 444h4M305 445h40M347 445h6M354 445h99M454 445h24M482 445h8M495 445h1M498 445h4M305 446h40M347 446h6M354 446h99M454 446h24M482 446h8M495 446h1M498 446h4M305 447h40M347 447h6M354 447h99M454 447h24M482 447h8M495 447h1M498 447h4M305 448h40M347 448h6M354 448h124M482 448h8M495 448h1M498 448h4M305 449h40M347 449h131M482 449h8M495 449h1M498 449h4M305 450h40M347 450h131M482 450h8M495 450h1M498 450h4M305 451h40M347 451h131M482 451h8M495 451h1M497 451h5M305 452h40M347 452h131M482 452h8M495 452h7M305 453h40M347 453h131M482 453h8M495 453h7M305 454h40M347 454h131M482 454h8M495 454h7M305 455h40M347 455h131M482 455h8M495 455h7M305 456h40M346 456h132M482 456h8M495 456h7M305 457h40M346 457h132M482 457h8M494 457h8M305 458h173M482 458h8M494 458h8M305 459h173M482 459h9M494 459h8M305 460h173M482 460h9M494 460h8M305 461h173M482 461h9M494 461h8M305 462h173M482 462h9M494 462h8" stroke="#39568c"/><path d="M305 289h42M349 289h13M365 289h21M390 289h13M405 289h67M473 289h11M485 289h17M305 290h57M365 290h22M390 290h14M405 290h67M473 290h11M486 290h16M305 291h42M349 291h14M364 291h23M389 291h14M405 291h67M474 291h10M486 291h16M305 292h42M350 292h4M355 292h7M364 292h24M389 292h83M473 292h11M486 292h16M305 293h42M349 293h13M364 293h24M389 293h112M305 294h42M350 294h13M364 294h24M389 294h95M485 294h17M305 295h43M349 295h14M364 295h120M486 295h16M305 296h43M349 296h14M364 296h120M485 296h17M305 297h43M349 297h14M364 297h23M389 297h113M305 298h197M305 299h197M305 300h197M305 301h197M305 302h197M305 303h197M305 304h197M305 305h197M305 306h197M305 307h197M305 308h197M305 309h197M305 310h197M305 311h197M305 312h197M305 313h197M305 314h197M305 315h197M305 316h197M305 317h197M305 318h197M305 319h197M305 320h197M305 321h197M305 322h197M305 323h197M305 324h197M305 325h197M305 326h197M305 327h197M305 328h197M305 329h197M305 330h197M305 331h197M305 332h197M305 333h197M305 334h197M305 335h197M305 336h197M305 337h197M305 338h197M305 339h197M305 340h197M305 341h197M305 342h197M305 343h197M305 344h197M305 345h197M305 346h197M305 347h197M305 348h197M305 349h197M305 350h197M305 351h197M305 352h197M305 353h197M305 354h197M305 355h197M305 356h197M305 357h197M305 358h197M305 359h197M305 360h197M305 361h197M305 362h197M305 363h197M305 364h197M305 365h197M305 366h197M305 367h197M305 368h197M305 369h197M305 370h197M305 371h197M305 372h197M305 373h197M305 374h197M305 375h197M305 376h197M305 377h197M305 378h197M305 379h197M305 380h197M305 381h197M305 382h197M305 383h197M305 384h197M305 385h197M305 386h197M305 387h197M305 388h197M305 389h197M305 390h197M305 391h197M305 392h197M305 393h197M305 394h197M305 395h197M305 396h197M305 397h174M481 397h10M493 397h9M305 398h40M347 398h6M354 398h99M454 398h24M482 398h8M495 398h1M498 398h4M305 399h40M347 399h6M355 399h98M454 399h24M482 399h8M498 399h4M305 400h40M347 400h6M355 400h98M455 400h22M482 400h8M498 400h4M305 401h40M347 401h6M355 401h98M455 401h22M482 401h8M498 401h4M305 402h18M324 402h21M347 402h6M355 402h97M455 402h22M483 402h7M499 402h3M305 403h18M325 403h20M347 403h6M355 403h97M455 403h22M483 403h7M499 403h3M305 404h18M325 404h20M347 404h6M355 404h97M455 404h22M483 404h6M499 404h3M305 405h18M325 405h20M347 405h6M355 405h97M455 405h17M473 405h4M483 405h6M499 405h3M305 406h18M325 406h20M347 406h6M355 406h5M361 406h91M455 406h17M474 406h3M483 406h6M499 406h3M305 407h18M325 407h20M347 407h6M355 407h5M361 407h91M455 407h17M474 407h3M483 407h6M499 407h3M305 408h18M325 408h20M347 408h6M355 408h5M361 408h91M455 408h17M474 408h3M483 408h6M499 408h3M305 409h18M325 409h19M347 409h6M355 409h5M361 409h32M394 409h58M455 409h17M474 409h3M483 409h6M499 409h3M305 410h18M325 410h19M348 410h5M355 410h5M361 410h32M394 410h58M455 410h17M474 410h3M483 410h6M499 410h3M305 411h18M325 411h19M348 411h5M355 411h5M361 411h32M394 411h58M456 411h16M474 411h2M483 411h6M499 411h3M305 412h17M325 412h19M348 412h5M355 412h5M361 412h32M395 412h57M456 412h16M474 412h2M483 412h6M499 412h3M305 413h17M325 413h19M348 413h5M355 413h5M361 413h32M395 413h57M456 413h16M474 413h2M483 413h6M499 413h3M305 414h17M326 414h18M348 414h4M355 414h5M361 414h32M395 414h10M406 414h46M456 414h16M474 414h2M483 414h6M499 414h3M305 415h17M326 415h18M348 415h4M355 415h5M361 415h32M395 415h10M406 415h46M456 415h16M474 415h2M483 415h6M499 415h3M305 416h17M326 416h18M348 416h4M355 416h4M361 416h32M395 416h10M406 416h46M456 416h16M475 416h1M483 416h6M500 416h2M305 417h17M326 417h18M348 417h4M355 417h4M361 417h32M395 417h10M406 417h46M456 417h16M475 417h1M483 417h6M500 417h2M305 418h17M326 418h18M348 418h4M355 418h4M361 418h32M395 418h10M406 418h46M456 418h16M475 418h1M483 418h6M500 418h2M305 419h17M326 419h18M348 419h4M355 419h4M361 419h32M395 419h10M406 419h46M456 419h16M475 419h1M483 419h6M500 419h2M305 420h17M326 420h18M348 420h4M355 420h4M361 420h32M395 420h10M406 420h46M456 420h16M475 420h1M483 420h6M500 420h2M305 421h17M326 421h18M348 421h4M355 421h4M361 421h32M395 421h10M406 421h46M456 421h16M475 421h1M483 421h6M500 421h2M305 422h17M326 422h18M348 422h4M355 422h4M361 422h32M395 422h10M406 422h46M456 422h16M475 422h1M483 422h6M500 422h2M305 423h17M326 423h18M348 423h4M355 423h4M361 423h32M395 423h10M406 423h46M456 423h16M475 423h1M483 423h6M500 423h2M305 424h17M326 424h18M348 424h4M355 424h4M361 424h32M395 424h10M406 424h46M456 424h16M475 424h1M483 424h6M500 424h2M305 425h17M326 425h18M348 425h4M355 425h4M361 425h32M395 425h10M406 425h46M456 425h16M475 425h1M483 425h6M500 425h2M305 426h17M326 426h18M348 426h4M355 426h4M361 426h32M395 426h10M406 426h46M456 426h16M475 426h1M483 426h6M500 426h2M305 427h17M326 427h18M348 427h4M355 427h4M361 427h32M395 427h10M406 427h46M456 427h16M475 427h1M483 427h6M500 427h2M305 428h17M326 428h18M348 428h4M355 428h4M361 428h32M395 428h10M406 428h46M456 428h16M475 428h1M483 428h6M500 428h2M305 429h17M326 429h18M348 429h4M355 429h4M361 429h32M395 429h10M406 429h46M456 429h16M475 429h1M483 429h6M500 429h2M305 430h17M326 430h18M348 430h4M355 430h4M361 430h32M395 430h10M406 430h46M456 430h16M475 430h1M483 430h6M500 430h2M305 431h17M326 431h18M348 431h4M355 431h4M361 431h32M395 431h10M406 431h46M456 431h16M475 431h1M483 431h6M500 431h2M305 432h17M326 432h18M348 432h4M355 432h4M361 432h32M395 432h10M406 432h46M456 432h16M475 432h1M483 432h6M500 432h2M305 433h17M326 433h18M348 433h4M355 433h4M361 433h32M395 433h10M406 433h46M456 433h16M475 433h1M483 433h6M500 433h2M305 434h17M326 434h18M348 434h4M355 434h4M361 434h32M395 434h10M406 434h46M456 434h16M475 434h1M483 434h6M500 434h2M305 435h17M326 435h18M348 435h4M355 435h4M361 435h32M395 435h10M406 435h46M456 435h16M475 435h1M483 435h6M500 435h2M305 436h17M326 436h18M348 436h4M355 436h4M361 436h32M395 436h10M406 436h46M456 436h16M475 436h1M483 436h6M500 436h2M305 437h17M326 437h18M348 437h4M355 437h4M361 437h32M395 437h10M406 437h46M456 437h16M475 437h1M483 437h6M500 437h2M305 438h17M326 438h18M348 438h4M355 438h4M361 438h32M395 438h10M406 438h46M456 438h16M475 438h1M483 438h6M500 438h2M305 439h17M326 439h18M348 439h4M355 439h4M361 439h32M395 439h10M406 439h46M456 439h16M475 439h1M483 439h6M500 439h2M305 440h17M326 440h18M348 440h4M355 440h4M361 440h32M395 440h10M406 440h46M456 440h16M475 440h1M483 440h6M500 440h2M305 441h17M326 441h18M348 441h4M355 441h4M361 441h32M395 441h10M406 441h46M456 441h16M475 441h1M483 441h6M500 441h2M305 442h17M326 442h18M348 442h4M355 442h4M361 442h32M395 442h10M406 442h46M456 442h16M475 442h1M483 442h6M500 442h2M305 443h17M326 443h18M348 443h4M355 443h4M361 443h32M395 443h10M406 443h46M456 443h16M475 443h1M483 443h6M500 443h2M305 444h17M326 444h18M348 444h4M355 444h4M361 444h32M395 444h10M406 444h46M456 444h16M475 444h1M483 444h6M500 444h2M305 445h17M326 445h18M348 445h4M355 445h4M361 445h32M395 445h10M406 445h46M456 445h16M475 445h1M483 445h6M500 445h2M305 446h17M326 446h18M348 446h4M355 446h4M361 446h32M395 446h10M406 446h46M456 446h16M475 446h1M483 446h6M500 446h2M305 447h17M326 447h18M348 447h4M355 447h4M361 447h32M395 447h10M406 447h46M456 447h16M475 447h1M483 447h6M500 447h2M305 448h17M326 448h18M348 448h4M355 448h4M361 448h32M395 448h10M406 448h46M456 448h16M475 448h1M483 448h6M500 448h2M305 449h17M326 449h18M348 449h4M355 449h5M361 449h32M395 449h10M406 449h46M456 449h16M474 449h2M483 449h6M499 449h3M305 450h17M326 450h18M348 450h4M355 450h5M361 450h32M395 450h10M406 450h46M456 450h16M474 450h2M483 450h6M499 450h3M305 451h17M326 451h18M348 451h4M355 451h5M361 451h32M395 451h10M406 451h46M456 451h16M474 451h2M483 451h6M499 451h3M305 452h17M326 452h18M348 452h4M355 452h5M361 452h32M395 452h57M456 452h16M474 452h2M483 452h6M499 452h3M305 453h17M326 453h18M348 453h5M355 453h5M361 453h32M395 453h57M456 453h16M474 453h2M483 453h6M499 453h3M305 454h17M325 454h19M348 454h5M355 454h5M361 454h32M395 454h57M456 454h16M474 454h2M483 454h6M499 454h3M305 455h17M325 455h19M348 455h5M355 455h5M361 455h32M395 455h57M456 455h16M474 455h2M483 455h6M499 455h3M305 456h17M325 456h19M348 456h5M355 456h5M361 456h32M395 456h57M456 456h16M474 456h2M483 456h6M499 456h3M305 457h17M325 457h19M348 457h5M355 457h5M361 457h32M395 457h57M456 457h16M474 457h2M483 457h6M499 457h3M305 458h18M325 458h19M348 458h5M355 458h5M361 458h32M394 458h58M456 458h16M474 458h2M483 458h6M499 458h3M305 459h18M325 459h19M348 459h5M355 459h5M361 459h32M394 459h58M456 459h16M474 459h3M483 459h6M499 459h3M305 460h18M325 460h19M348 460h5M355 460h5M361 460h32M394 460h58M456 460h16M474 460h3M483 460h6M499 460h3M305 461h18M325 461h19M348 461h5M355 461h5M361 461h32M394 461h58M455 461h17M474 461h3M483 461h6M499 461h3M305 462h18M325 462h19M348 462h5M355 462h5M361 462h32M394 462h58M455 462h17M474 462h3M483 462h6M499 462h3" stroke="#34608d"/><path d="M305 289h5M311 289h10M322 289h25M350 289h11M365 289h21M390 289h12M406 289h15M422 289h17M441 289h30M475 289h8M486 289h8M495 289h6M305 290h5M312 290h35M351 290h11M365 290h6M373 290h13M390 290h12M406 290h15M423 290h16M440 290h31M475 290h8M488 290h4M496 290h5M305 291h5M312 291h34M352 291h1M356 291h6M365 291h4M373 291h13M390 291h12M406 291h16M424 291h15M440 291h17M458 291h13M477 291h6M488 291h5M495 291h5M305 292h41M351 292h1M356 292h5M365 292h5M374 292h12M390 292h13M406 292h16M423 292h16M441 292h15M458 292h13M478 292h6M487 292h7M495 292h6M305 293h36M342 293h5M350 293h11M365 293h22M390 293h13M406 293h33M441 293h30M478 293h6M486 293h8M495 293h5M305 294h5M311 294h10M322 294h24M351 294h11M364 294h23M390 294h12M406 294h28M435 294h4M440 294h31M475 294h1M478 294h6M487 294h7M495 294h6M305 295h4M311 295h10M322 295h25M350 295h12M365 295h22M390 295h12M406 295h33M441 295h30M474 295h3M478 295h6M487 295h15M305 296h4M312 296h35M350 296h12M365 296h22M390 296h13M405 296h66M473 296h11M486 296h15M305 297h4M312 297h35M351 297h2M356 297h6M365 297h21M390 297h94M486 297h16M305 298h42M349 298h14M364 298h23M389 298h113M305 299h197M305 300h197M305 301h197M305 302h197M308 303h194M307 304h195M306 305h196M305 306h197M305 307h197M305 308h197M305 309h197M305 310h197M305 311h197M305 312h197M305 313h197M305 314h197M305 315h197M305 316h197M305 317h197M305 318h197M305 319h197M305 320h197M305 321h197M305 322h197M305 323h197M305 324h197M305 325h197M305 326h197M305 327h197M305 328h197M305 329h197M305 330h197M305 331h197M305 332h197M305 333h197M305 334h197M305 335h197M305 336h197M305 337h197M305 338h197M305 339h197M305 340h197M305 341h197M305 342h197M305 343h197M305 344h197M305 345h197M305 346h197M305 347h197M305 348h197M305 349h197M305 350h197M305 351h197M305 352h197M305 353h197M305 354h197M305 355h197M305 356h197M305 357h197M305 358h197M305 359h197M305 360h197M305 361h197M305 362h197M305 363h197M305 364h197M305 365h197M305 366h197M305 367h197M305 368h197M305 369h197M305 370h197M305 371h197M305 372h197M305 373h197M305 374h197M305 375h197M305 376h197M305 377h197M305 378h197M305 379h197M305 380h197M305 381h197M305 382h197M305 383h197M305 384h197M305 385h197M305 386h197M305 387h197M305 388h197M305 389h197M305 390h197M305 391h197M305 392h197M305 393h197M305 394h197M305 395h197M305 396h197M305 397h18M325 397h20M347 397h6M355 397h5M361 397h91M454 397h24M482 397h7M499 397h3M305 398h17M326 398h18M348 398h4M355 398h4M361 398h32M395 398h57M456 398h16M474 398h2M483 398h6M500 398h1M305 399h17M326 399h18M348 399h4M355 399h4M362 399h6M369 399h24M395 399h10M406 399h46M456 399h7M465 399h6M483 399h6M305 400h17M328 400h16M348 400h4M356 400h3M362 400h6M369 400h24M395 400h10M407 400h45M456 400h7M465 400h2M469 400h2M483 400h5M305 401h16M328 401h16M348 401h4M356 401h3M362 401h6M369 401h24M395 401h10M407 401h45M456 401h7M465 401h2M469 401h2M483 401h5M305 402h16M329 402h15M348 402h4M356 402h3M362 402h6M369 402h23M395 402h10M407 402h45M457 402h6M466 402h1M469 402h2M483 402h5M305 403h16M329 403h15M348 403h4M356 403h3M362 403h6M369 403h23M395 403h10M407 403h45M457 403h6M469 403h2M483 403h5M305 404h16M329 404h15M348 404h4M356 404h3M362 404h6M369 404h23M395 404h10M407 404h45M457 404h6M469 404h2M483 404h5M305 405h16M329 405h15M348 405h4M356 405h3M362 405h6M370 405h22M395 405h10M407 405h45M457 405h6M469 405h2M484 405h4M305 406h16M329 406h15M348 406h4M356 406h3M362 406h6M370 406h22M395 406h10M407 406h45M457 406h6M470 406h1M484 406h4M305 407h16M329 407h15M348 407h4M356 407h3M362 407h6M370 407h22M395 407h10M407 407h44M457 407h6M484 407h4M305 408h16M329 408h15M348 408h4M356 408h3M362 408h6M370 408h22M395 408h10M407 408h44M457 408h6M484 408h4M305 409h16M329 409h15M348 409h4M356 409h3M362 409h6M370 409h22M396 409h9M407 409h44M457 409h6M484 409h4M305 410h16M329 410h15M349 410h3M356 410h3M362 410h6M370 410h22M396 410h9M407 410h44M457 410h6M484 410h4M305 411h15M330 411h13M349 411h3M356 411h3M362 411h6M370 411h22M396 411h9M407 411h44M457 411h6M484 411h4M305 412h15M330 412h13M349 412h3M356 412h3M362 412h6M370 412h8M379 412h13M396 412h9M407 412h44M457 412h6M484 412h4M305 413h15M330 413h13M349 413h3M356 413h3M362 413h5M370 413h8M379 413h13M396 413h9M407 413h44M457 413h6M484 413h3M305 414h15M330 414h13M349 414h3M356 414h3M362 414h5M370 414h8M379 414h13M396 414h9M408 414h43M457 414h6M484 414h3M305 415h15M330 415h13M349 415h3M356 415h3M362 415h5M370 415h7M380 415h12M396 415h9M408 415h43M457 415h5M484 415h3M305 416h15M330 416h13M349 416h3M356 416h3M362 416h5M370 416h7M380 416h12M396 416h9M408 416h43M457 416h5M484 416h3M305 417h15M330 417h13M349 417h3M356 417h3M362 417h5M370 417h7M380 417h12M396 417h9M408 417h43M457 417h5M484 417h3M305 418h15M330 418h13M349 418h3M356 418h3M362 418h5M370 418h7M380 418h12M396 418h9M408 418h43M457 418h5M484 418h3M305 419h15M330 419h13M349 419h3M356 419h3M362 419h5M370 419h7M380 419h12M396 419h9M408 419h43M457 419h5M484 419h3M305 420h15M330 420h13M349 420h3M356 420h3M362 420h5M370 420h7M380 420h12M396 420h9M408 420h43M457 420h5M484 420h3M305 421h15M330 421h13M349 421h3M356 421h3M362 421h5M370 421h7M380 421h12M396 421h9M408 421h43M457 421h5M484 421h3M305 422h15M330 422h13M349 422h3M356 422h3M362 422h5M370 422h7M380 422h12M396 422h9M408 422h43M457 422h5M484 422h3M305 423h15M330 423h13M349 423h3M356 423h3M362 423h5M370 423h7M380 423h12M396 423h9M408 423h43M457 423h5M484 423h3M305 424h15M330 424h13M349 424h3M356 424h3M362 424h5M370 424h7M380 424h12M396 424h9M408 424h43M457 424h5M484 424h3M305 425h15M330 425h13M349 425h3M356 425h3M362 425h5M370 425h7M380 425h12M396 425h9M408 425h43M457 425h5M484 425h3M305 426h15M330 426h13M349 426h3M356 426h3M362 426h5M370 426h7M380 426h12M396 426h9M408 426h43M457 426h5M484 426h3M305 427h15M330 427h13M349 427h3M356 427h3M362 427h5M370 427h7M380 427h12M396 427h9M408 427h43M457 427h5M484 427h3M305 428h15M330 428h13M349 428h3M356 428h3M362 428h5M370 428h7M380 428h12M396 428h9M408 428h43M457 428h5M484 428h3M305 429h15M330 429h13M349 429h3M356 429h3M362 429h5M370 429h7M380 429h12M396 429h9M408 429h43M457 429h5M484 429h3M305 430h15M330 430h13M349 430h3M356 430h3M362 430h5M370 430h7M380 430h12M396 430h9M408 430h43M457 430h5M484 430h3M305 431h15M330 431h13M349 431h3M356 431h3M362 431h5M370 431h7M380 431h12M396 431h9M408 431h43M457 431h5M484 431h3M305 432h15M330 432h13M349 432h3M356 432h3M362 432h5M370 432h7M380 432h12M396 432h9M408 432h43M457 432h5M484 432h3M305 433h15M330 433h13M349 433h3M356 433h3M362 433h5M370 433h7M380 433h12M396 433h9M408 433h43M457 433h5M484 433h3M305 434h15M330 434h13M349 434h3M356 434h3M362 434h5M370 434h7M380 434h12M396 434h9M408 434h43M457 434h5M484 434h3M305 435h15M330 435h13M349 435h3M356 435h3M362 435h5M370 435h7M380 435h12M396 435h9M408 435h43M457 435h5M484 435h3M305 436h15M330 436h13M349 436h3M356 436h3M362 436h5M370 436h7M380 436h12M396 436h9M408 436h43M457 436h5M484 436h3M305 437h15M330 437h13M349 437h3M356 437h3M362 437h5M370 437h7M380 437h12M396 437h9M408 437h43M457 437h5M484 437h3M305 438h15M330 438h13M349 438h3M356 438h3M362 438h5M370 438h7M380 438h12M396 438h9M408 438h43M457 438h5M484 438h3M305 439h15M330 439h13M349 439h3M356 439h3M362 439h5M370 439h7M380 439h12M396 439h9M408 439h43M457 439h5M484 439h3M305 440h15M330 440h13M349 440h3M356 440h3M362 440h5M370 440h7M380 440h12M396 440h9M408 440h43M457 440h5M484 440h3M305 441h15M330 441h13M349 441h3M356 441h3M362 441h5M370 441h7M380 441h12M396 441h9M408 441h43M457 441h5M484 441h3M305 442h15M330 442h13M349 442h3M356 442h3M362 442h5M370 442h7M380 442h12M396 442h9M408 442h43M457 442h5M484 442h3M305 443h15M330 443h13M349 443h3M356 443h3M362 443h5M370 443h7M380 443h12M396 443h9M408 443h43M457 443h5M484 443h3M305 444h15M330 444h13M349 444h3M356 444h3M362 444h5M370 444h7M380 444h12M396 444h9M408 444h43M457 444h5M484 444h3M305 445h15M330 445h13M349 445h3M356 445h3M362 445h5M370 445h7M380 445h12M396 445h9M408 445h43M457 445h5M484 445h3M305 446h15M330 446h13M349 446h3M356 446h3M362 446h5M370 446h7M380 446h12M396 446h9M408 446h43M457 446h5M484 446h3M305 447h15M330 447h13M349 447h3M356 447h3M362 447h5M370 447h7M380 447h12M396 447h9M408 447h43M457 447h5M484 447h3M305 448h15M330 448h13M349 448h3M356 448h3M362 448h5M370 448h7M380 448h12M396 448h9M408 448h43M457 448h5M484 448h3M305 449h15M330 449h13M349 449h3M356 449h3M362 449h5M370 449h7M380 449h12M396 449h9M408 449h43M457 449h5M484 449h3M305 450h15M330 450h13M349 450h3M356 450h3M362 450h5M370 450h8M380 450h12M396 450h9M408 450h43M457 450h5M484 450h3M305 451h15M330 451h13M349 451h3M356 451h3M362 451h5M370 451h8M380 451h12M396 451h9M408 451h43M457 451h6M484 451h3M305 452h15M330 452h13M349 452h3M356 452h3M362 452h5M370 452h8M379 452h13M396 452h9M408 452h43M457 452h6M484 452h3M305 453h15M330 453h13M349 453h3M356 453h3M362 453h5M370 453h8M379 453h13M396 453h9M407 453h44M457 453h6M484 453h3M305 454h15M330 454h13M349 454h3M356 454h3M362 454h5M370 454h8M379 454h13M396 454h9M407 454h44M457 454h6M484 454h4M305 455h15M330 455h13M349 455h3M356 455h3M362 455h6M370 455h8M379 455h13M396 455h9M407 455h44M457 455h6M484 455h4M305 456h15M330 456h13M349 456h3M356 456h3M362 456h6M370 456h8M379 456h13M396 456h9M407 456h44M457 456h6M484 456h4M305 457h15M330 457h13M349 457h3M356 457h3M362 457h6M370 457h8M379 457h13M396 457h9M407 457h44M457 457h6M484 457h4M305 458h15M330 458h13M349 458h3M356 458h3M362 458h6M370 458h8M379 458h13M396 458h9M407 458h44M457 458h6M484 458h4M305 459h16M329 459h15M349 459h3M356 459h3M362 459h6M370 459h22M396 459h9M407 459h44M457 459h6M484 459h4M305 460h16M329 460h15M349 460h3M356 460h3M362 460h6M370 460h22M396 460h9M407 460h44M457 460h6M484 460h4M305 461h16M329 461h15M349 461h3M356 461h3M362 461h6M370 461h22M396 461h9M407 461h44M457 461h6M484 461h4M305 462h16M329 462h15M348 462h4M356 462h3M362 462h6M370 462h22M396 462h9M407 462h44M457 462h6M484 462h4" stroke="#30698e"/><path d="M305 289h4M313 289h7M323 289h3M327 289h3M331 289h7M342 289h3M351 289h2M356 289h3M366 289h5M373 289h3M379 289h6M391 289h10M407 289h9M418 289h2M423 289h3M430 289h3M435 289h3M444 289h12M457 289h6M464 289h6M478 289h5M496 289h4M305 290h4M313 290h7M323 290h18M343 290h1M356 290h5M366 290h3M375 290h1M379 290h6M391 290h10M406 290h4M411 290h5M417 290h3M428 290h10M442 290h14M457 290h6M465 290h5M478 290h5M497 290h3M305 291h4M313 291h7M322 291h7M331 291h10M357 291h4M366 291h1M374 291h2M379 291h2M384 291h1M390 291h11M407 291h2M412 291h4M418 291h2M427 291h11M441 291h15M461 291h2M464 291h6M479 291h4M496 291h3M305 292h5M312 292h8M322 292h4M327 292h1M332 292h8M357 292h3M365 292h3M378 292h4M391 292h10M407 292h2M411 292h5M417 292h4M425 292h13M444 292h12M461 292h2M465 292h6M479 292h4M496 292h3M305 293h5M313 293h7M322 293h7M332 293h6M343 293h2M356 293h4M365 293h4M379 293h3M384 293h2M391 293h11M412 293h9M423 293h11M435 293h3M442 293h14M459 293h11M479 293h4M488 293h5M496 293h3M305 294h4M312 294h8M323 294h6M332 294h8M356 294h5M365 294h6M373 294h3M379 294h7M390 294h11M412 294h4M417 294h3M424 294h9M436 294h2M441 294h29M479 294h4M489 294h1M496 294h4M305 295h3M312 295h8M323 295h7M331 295h7M339 295h1M342 295h3M352 295h1M357 295h4M366 295h11M378 295h4M383 295h3M390 295h11M412 295h3M417 295h4M423 295h10M435 295h3M441 295h29M480 295h3M496 295h5M305 296h2M312 296h8M323 296h6M331 296h10M343 296h3M356 296h5M366 296h20M390 296h12M406 296h2M412 296h26M441 296h29M474 296h9M488 296h2M495 296h5M312 297h8M322 297h7M331 297h10M342 297h4M357 297h5M366 297h20M390 297h13M405 297h20M426 297h45M473 297h10M487 297h4M496 297h4M305 298h1M307 298h2M312 298h28M343 298h3M356 298h6M365 298h5M371 298h15M390 298h94M487 298h6M496 298h4M305 299h5M312 299h35M349 299h2M355 299h8M364 299h138M305 300h25M331 300h171M305 301h26M333 301h169M305 302h21M327 302h174M309 303h193M308 304h194M307 305h195M305 306h197M305 307h197M305 308h3M309 308h193M305 309h197M306 310h195M305 311h196M305 312h197M305 313h197M305 314h197M305 315h197M305 316h197M305 317h197M305 318h197M305 319h197M305 320h197M305 321h197M305 322h197M305 323h197M305 324h197M305 325h197M305 326h197M305 327h197M305 328h197M305 329h197M305 330h197M305 331h197M305 332h197M305 333h197M305 334h197M305 335h197M305 336h197M305 337h197M305 338h197M305 339h197M305 340h197M305 341h197M305 342h197M305 343h197M305 344h197M305 345h197M305 346h197M305 347h197M305 348h197M305 349h197M305 350h197M305 351h197M305 352h197M305 353h197M305 354h197M305 355h197M305 356h197M305 357h197M305 358h197M305 359h197M305 360h197M305 361h197M305 362h197M305 363h197M305 364h197M305 365h197M305 366h197M305 367h197M305 368h197M305 369h197M305 370h197M305 371h197M305 372h197M305 373h197M305 374h197M305 375h197M305 376h197M305 377h197M305 378h197M305 379h197M305 380h197M305 381h197M305 382h197M305 383h197M305 384h197M305 385h197M305 386h197M305 387h197M305 388h197M305 389h197M305 390h197M305 391h197M305 392h197M305 393h197M305 394h197M305 395h197M305 396h17M326 396h19M347 396h6M355 396h124M482 396h8M499 396h2M305 397h16M330 397h14M349 397h3M356 397h3M362 397h6M369 397h24M395 397h10M407 397h45M456 397h7M469 397h2M483 397h5M305 398h15M330 398h13M349 398h2M356 398h3M362 398h5M370 398h7M380 398h12M396 398h9M408 398h43M457 398h5M484 398h3M305 399h14M330 399h13M349 399h2M356 399h2M362 399h5M370 399h4M380 399h12M396 399h9M408 399h43M458 399h4M485 399h2M305 400h2M308 400h11M330 400h13M349 400h2M356 400h2M363 400h4M370 400h3M380 400h12M396 400h8M408 400h43M458 400h4M485 400h1M305 401h1M308 401h11M330 401h13M349 401h2M356 401h2M363 401h4M370 401h3M380 401h12M396 401h8M408 401h43M458 401h4M305 402h1M308 402h10M330 402h13M350 402h1M356 402h2M363 402h4M370 402h3M380 402h11M396 402h8M408 402h43M458 402h4M308 403h7M316 403h2M330 403h13M350 403h1M356 403h2M363 403h4M370 403h3M380 403h11M396 403h8M408 403h43M458 403h4M309 404h6M316 404h2M331 404h12M350 404h1M357 404h1M363 404h4M370 404h3M381 404h10M397 404h1M399 404h5M408 404h43M458 404h4M309 405h5M331 405h12M350 405h1M357 405h1M363 405h4M370 405h3M381 405h10M397 405h1M399 405h5M408 405h5M414 405h37M458 405h4M309 406h5M331 406h11M357 406h1M363 406h4M371 406h2M381 406h10M397 406h1M400 406h4M408 406h5M414 406h37M458 406h4M309 407h5M331 407h11M357 407h1M363 407h4M371 407h2M381 407h6M389 407h2M397 407h1M400 407h4M408 407h5M414 407h37M458 407h4M309 408h5M331 408h11M357 408h1M363 408h4M371 408h2M381 408h6M389 408h2M400 408h4M408 408h5M415 408h36M458 408h4M309 409h5M331 409h11M357 409h1M363 409h4M371 409h2M381 409h6M389 409h2M400 409h4M408 409h5M415 409h36M459 409h3M309 410h5M331 410h11M357 410h1M363 410h4M371 410h2M381 410h6M389 410h2M400 410h4M408 410h5M415 410h36M459 410h3M309 411h5M331 411h11M363 411h4M371 411h2M381 411h6M389 411h2M400 411h4M408 411h5M415 411h36M459 411h3M309 412h5M331 412h11M363 412h4M371 412h1M381 412h5M389 412h2M400 412h4M408 412h5M415 412h36M459 412h3M310 413h4M331 413h11M363 413h4M371 413h1M381 413h5M389 413h2M400 413h4M408 413h5M415 413h36M459 413h3M310 414h3M331 414h11M363 414h4M371 414h1M381 414h5M390 414h1M400 414h4M408 414h5M415 414h36M459 414h3M310 415h3M331 415h11M363 415h4M371 415h1M381 415h5M390 415h1M400 415h4M408 415h5M415 415h35M459 415h3M310 416h3M331 416h11M363 416h4M371 416h1M381 416h5M400 416h4M408 416h5M415 416h35M459 416h3M310 417h3M331 417h11M363 417h4M371 417h1M381 417h5M400 417h4M408 417h5M415 417h35M459 417h3M310 418h3M331 418h11M363 418h4M371 418h1M381 418h5M400 418h4M408 418h5M415 418h35M459 418h3M310 419h3M331 419h11M363 419h4M371 419h1M381 419h5M400 419h4M408 419h5M415 419h35M459 419h3M310 420h3M331 420h11M363 420h4M371 420h1M381 420h5M400 420h4M408 420h5M415 420h35M459 420h3M310 421h3M331 421h11M363 421h4M371 421h1M381 421h5M400 421h4M408 421h5M415 421h35M459 421h3M310 422h3M331 422h11M363 422h4M371 422h1M381 422h5M400 422h4M408 422h5M415 422h35M459 422h3M310 423h3M331 423h11M363 423h4M371 423h1M381 423h5M400 423h4M408 423h5M415 423h35M459 423h3M310 424h3M331 424h11M363 424h4M371 424h1M381 424h5M400 424h4M408 424h5M415 424h35M459 424h3M310 425h3M331 425h11M363 425h4M371 425h1M381 425h5M400 425h4M408 425h5M415 425h35M459 425h3M310 426h3M331 426h11M363 426h4M371 426h1M381 426h5M400 426h4M408 426h5M415 426h35M459 426h3M310 427h3M331 427h11M363 427h4M371 427h1M381 427h5M400 427h4M408 427h5M415 427h35M459 427h3M310 428h3M331 428h11M363 428h4M371 428h1M381 428h5M400 428h4M408 428h5M415 428h35M459 428h3M310 429h3M331 429h11M363 429h4M371 429h1M381 429h5M400 429h4M408 429h5M415 429h35M459 429h3M310 430h3M331 430h11M363 430h4M371 430h1M381 430h5M400 430h4M408 430h5M415 430h35M459 430h3M310 431h3M331 431h11M363 431h4M371 431h1M381 431h5M400 431h4M408 431h5M415 431h35M459 431h3M310 432h3M331 432h11M363 432h4M371 432h1M381 432h5M400 432h4M408 432h5M415 432h35M459 432h3M310 433h3M331 433h11M363 433h4M371 433h1M381 433h5M400 433h4M408 433h5M415 433h35M459 433h3M310 434h3M331 434h11M363 434h4M371 434h1M381 434h5M400 434h4M408 434h5M415 434h35M459 434h3M310 435h3M331 435h11M363 435h4M371 435h1M381 435h5M400 435h4M408 435h5M415 435h35M459 435h3M310 436h3M331 436h11M363 436h4M371 436h1M381 436h5M400 436h4M408 436h5M415 436h35M459 436h3M310 437h3M331 437h11M363 437h4M371 437h1M381 437h5M400 437h4M408 437h5M415 437h35M459 437h3M310 438h3M331 438h11M363 438h4M371 438h1M381 438h5M400 438h4M408 438h5M415 438h35M459 438h3M310 439h3M331 439h11M363 439h4M371 439h1M381 439h5M400 439h4M408 439h5M415 439h35M459 439h3M310 440h3M331 440h11M363 440h4M371 440h1M381 440h5M400 440h4M408 440h5M415 440h35M459 440h3M310 441h3M331 441h11M363 441h4M371 441h1M381 441h5M400 441h4M408 441h5M415 441h35M459 441h3M310 442h3M331 442h11M363 442h4M371 442h1M381 442h5M400 442h4M408 442h5M415 442h35M459 442h3M310 443h3M331 443h11M363 443h4M371 443h1M381 443h5M400 443h4M408 443h5M415 443h35M459 443h3M310 444h3M331 444h11M363 444h4M371 444h1M381 444h5M400 444h4M408 444h5M415 444h35M459 444h3M310 445h3M331 445h11M363 445h4M371 445h1M381 445h5M400 445h4M408 445h5M415 445h35M459 445h3M310 446h3M331 446h11M363 446h4M371 446h1M381 446h5M400 446h4M408 446h5M415 446h35M459 446h3M310 447h3M331 447h11M363 447h4M371 447h1M381 447h5M400 447h4M408 447h5M415 447h35M459 447h3M310 448h3M331 448h11M363 448h4M371 448h1M381 448h5M400 448h4M408 448h5M415 448h35M459 448h3M310 449h3M331 449h11M363 449h4M371 449h1M381 449h5M390 449h1M400 449h4M408 449h5M415 449h35M459 449h3M310 450h3M331 450h11M363 450h4M371 450h1M381 450h5M390 450h1M400 450h4M408 450h5M415 450h36M459 450h3M310 451h3M331 451h11M363 451h4M371 451h1M381 451h5M390 451h1M400 451h4M408 451h5M415 451h36M459 451h3M310 452h4M331 452h11M363 452h4M371 452h1M381 452h5M390 452h1M400 452h4M408 452h5M415 452h36M459 452h3M310 453h4M331 453h11M363 453h4M371 453h1M381 453h5M389 453h2M400 453h4M408 453h5M415 453h36M459 453h3M310 454h4M331 454h11M363 454h4M371 454h1M381 454h5M389 454h2M400 454h4M408 454h5M415 454h36M459 454h3M310 455h4M331 455h11M363 455h4M371 455h1M381 455h5M389 455h2M400 455h4M408 455h5M415 455h36M459 455h3M309 456h5M331 456h11M363 456h4M371 456h1M381 456h5M389 456h2M400 456h4M408 456h5M415 456h36M459 456h3M309 457h5M331 457h11M363 457h4M371 457h2M381 457h5M389 457h2M400 457h4M408 457h5M415 457h36M459 457h3M309 458h5M331 458h11M363 458h4M371 458h2M381 458h6M389 458h2M400 458h4M408 458h5M415 458h36M459 458h3M309 459h5M331 459h11M357 459h1M363 459h4M371 459h2M381 459h6M389 459h2M400 459h4M408 459h5M415 459h36M459 459h3M309 460h5M331 460h11M357 460h1M363 460h4M371 460h2M381 460h6M389 460h2M400 460h4M408 460h5M415 460h36M459 460h3M309 461h5M331 461h11M357 461h1M363 461h4M371 461h2M381 461h6M389 461h2M400 461h4M408 461h5M415 461h36M459 461h3M309 462h5M331 462h11M357 462h1M363 462h4M371 462h2M381 462h6M389 462h2M400 462h4M408 462h5M415 462h36M459 462h3" stroke="#2c728e"/><path d="M305 289h2M315 289h4M334 289h3M380 289h1M391 289h3M397 289h3M412 289h2M431 289h1M436 289h1M449 289h2M466 289h3M479 289h3M497 289h2M305 290h1M314 290h5M324 290h1M334 290h3M357 290h2M391 290h4M397 290h3M412 290h3M430 290h3M435 290h2M444 290h2M449 290h3M466 290h4M479 290h4M497 290h2M314 291h5M323 291h2M334 291h3M358 291h1M391 291h4M397 291h4M413 291h1M429 291h4M436 291h1M444 291h3M450 291h1M466 291h4M480 291h3M497 291h2M305 292h4M314 292h4M323 292h2M334 292h3M366 292h1M391 292h4M397 292h4M413 292h1M418 292h2M430 292h3M435 292h2M445 292h10M466 292h4M480 292h3M497 292h2M305 293h3M315 293h4M323 293h3M334 293h3M358 293h1M366 293h1M391 293h4M397 293h4M413 293h1M418 293h2M429 293h4M436 293h1M445 293h6M466 293h4M480 293h3M496 293h3M305 294h2M314 294h5M324 294h1M335 294h3M358 294h1M366 294h1M391 294h10M413 294h2M418 294h2M429 294h3M445 294h3M454 294h1M461 294h1M466 294h3M480 294h3M497 294h2M305 295h2M314 295h5M324 295h1M335 295h2M358 295h2M366 295h3M391 295h4M397 295h4M418 295h2M430 295h2M446 295h1M453 295h2M461 295h1M465 295h4M481 295h1M497 295h2M313 296h6M323 296h3M334 296h3M357 296h3M373 296h3M379 296h3M384 296h1M391 296h9M417 296h4M428 296h5M436 296h2M445 296h1M450 296h5M460 296h3M465 296h4M479 296h4M496 296h3M313 297h6M323 297h2M334 297h3M357 297h4M366 297h2M373 297h3M379 297h6M391 297h11M406 297h4M412 297h4M417 297h4M428 297h5M435 297h3M441 297h7M449 297h7M460 297h10M476 297h7M497 297h2M314 298h5M323 298h3M331 298h7M357 298h4M366 298h2M373 298h13M390 298h13M406 298h15M423 298h1M428 298h5M436 298h1M440 298h31M474 298h9M497 298h1M305 299h2M313 299h7M323 299h3M331 299h7M343 299h3M356 299h6M365 299h5M373 299h30M405 299h1M407 299h31M440 299h44M490 299h3M305 300h4M312 300h17M333 300h14M356 300h132M490 300h11M305 301h2M311 301h19M334 301h11M346 301h2M350 301h4M356 301h145M307 302h18M328 302h16M348 302h153M314 303h188M309 304h2M312 304h185M500 304h2M307 305h190M500 305h2M306 306h196M305 307h197M305 308h2M310 308h192M305 309h197M307 310h193M305 311h1M307 311h194M305 312h197M305 313h197M305 314h197M305 315h197M305 316h197M305 317h197M305 318h197M305 319h197M305 320h197M305 321h197M305 322h197M305 323h197M305 324h197M305 325h197M305 326h197M305 327h197M305 328h197M305 329h197M305 330h197M305 331h197M305 332h197M305 333h197M305 334h197M305 335h197M305 336h197M305 337h197M305 338h197M305 339h197M305 340h197M305 341h197M305 342h197M305 343h197M305 344h197M305 345h197M305 346h197M305 347h197M305 348h197M305 349h197M305 350h197M305 351h197M305 352h197M305 353h197M305 354h197M305 355h197M305 356h197M305 357h197M305 358h197M305 359h197M305 360h197M305 361h197M305 362h197M305 363h197M305 364h197M305 365h197M305 366h197M305 367h197M305 368h196M305 369h197M305 370h197M305 371h197M305 372h197M305 373h197M305 374h197M305 375h197M305 376h197M305 377h197M305 378h197M305 379h197M305 380h197M305 381h197M305 382h197M305 383h197M305 384h197M305 385h197M305 386h197M305 387h197M305 388h197M305 389h197M305 390h197M305 391h197M305 392h197M305 393h197M305 394h197M305 395h15M322 395h180M306 396h14M330 396h14M348 396h4M356 396h3M362 396h6M369 396h24M395 396h57M455 396h10M468 396h4M474 396h3M484 396h4M310 397h3M331 397h11M357 397h1M363 397h4M370 397h3M381 397h10M396 397h8M408 397h43M458 397h4M310 398h3M331 398h11M363 398h4M371 398h1M381 398h5M400 398h4M408 398h5M415 398h35M459 398h3M310 399h3M332 399h9M363 399h3M382 399h2M401 399h3M409 399h4M415 399h35M459 399h2M311 400h2M332 400h9M364 400h2M382 400h2M401 400h3M409 400h4M415 400h35M459 400h2M311 401h2M332 401h9M364 401h2M382 401h1M401 401h3M409 401h4M415 401h35M459 401h2M311 402h1M332 402h9M364 402h2M401 402h3M409 402h4M415 402h35M459 402h2M311 403h1M332 403h9M364 403h2M401 403h3M409 403h4M415 403h35M460 403h1M311 404h1M332 404h9M364 404h2M401 404h3M409 404h4M415 404h35M460 404h1M332 405h9M364 405h2M401 405h3M409 405h4M415 405h35M460 405h1M332 406h8M364 406h2M401 406h3M409 406h3M415 406h35M460 406h1M332 407h8M364 407h2M401 407h3M409 407h3M416 407h34M460 407h1M332 408h8M364 408h2M401 408h3M409 408h3M416 408h34M460 408h1M333 409h7M364 409h2M401 409h3M409 409h3M416 409h34M460 409h1M333 410h7M364 410h2M401 410h3M409 410h3M416 410h34M460 410h1M333 411h7M364 411h2M401 411h3M409 411h3M416 411h34M460 411h1M333 412h7M364 412h2M401 412h3M409 412h3M416 412h20M437 412h12M333 413h6M364 413h2M401 413h3M409 413h3M416 413h19M437 413h12M333 414h6M401 414h3M409 414h3M416 414h19M437 414h12M333 415h6M401 415h3M409 415h3M416 415h19M437 415h12M333 416h6M401 416h3M409 416h3M416 416h19M437 416h12M333 417h6M401 417h3M409 417h3M416 417h19M437 417h12M333 418h6M401 418h3M409 418h3M416 418h19M437 418h12M333 419h6M401 419h3M409 419h3M416 419h19M437 419h12M333 420h6M401 420h3M409 420h3M416 420h19M437 420h12M333 421h6M401 421h3M409 421h3M416 421h19M437 421h12M333 422h6M401 422h3M409 422h3M416 422h19M437 422h12M333 423h6M401 423h3M409 423h3M416 423h19M437 423h12M333 424h6M401 424h3M409 424h3M416 424h19M437 424h12M333 425h6M401 425h3M409 425h3M416 425h19M437 425h12M333 426h6M401 426h3M409 426h3M416 426h19M437 426h12M333 427h6M401 427h3M409 427h3M416 427h19M437 427h12M333 428h6M401 428h3M409 428h3M416 428h19M437 428h12M333 429h6M401 429h3M409 429h3M416 429h19M437 429h12M333 430h6M401 430h3M409 430h3M416 430h19M437 430h12M333 431h6M401 431h3M409 431h3M416 431h19M437 431h12M333 432h6M401 432h3M409 432h3M416 432h19M437 432h12M333 433h6M401 433h3M409 433h3M416 433h19M437 433h12M333 434h6M401 434h3M409 434h3M416 434h19M437 434h12M333 435h6M401 435h3M409 435h3M416 435h19M437 435h12M333 436h6M401 436h3M409 436h3M416 436h19M437 436h12M333 437h6M401 437h3M409 437h3M416 437h19M437 437h12M333 438h6M401 438h3M409 438h3M416 438h19M437 438h12M333 439h6M401 439h3M409 439h3M416 439h19M437 439h12M333 440h6M401 440h3M409 440h3M416 440h19M437 440h12M333 441h6M401 441h3M409 441h3M416 441h19M437 441h12M333 442h6M401 442h3M409 442h3M416 442h19M437 442h12M333 443h6M401 443h3M409 443h3M416 443h19M437 443h12M333 444h6M401 444h3M409 444h3M416 444h19M437 444h12M333 445h6M401 445h3M409 445h3M416 445h19M437 445h12M333 446h6M401 446h3M409 446h3M416 446h19M437 446h12M333 447h6M401 447h3M409 447h3M416 447h19M437 447h12M333 448h6M401 448h3M409 448h3M416 448h19M437 448h12M333 449h6M401 449h3M409 449h3M416 449h19M437 449h12M333 450h6M401 450h3M409 450h3M416 450h19M437 450h12M333 451h6M401 451h3M409 451h3M416 451h19M437 451h12M333 452h6M365 452h1M401 452h3M409 452h3M416 452h19M437 452h12M333 453h6M364 453h2M401 453h3M409 453h3M416 453h19M437 453h12M333 454h6M364 454h2M401 454h3M409 454h3M416 454h19M437 454h12M333 455h7M364 455h2M401 455h3M409 455h3M416 455h19M437 455h12M333 456h7M364 456h2M401 456h3M409 456h3M416 456h20M437 456h12M333 457h7M364 457h2M401 457h3M409 457h3M416 457h33M333 458h7M364 458h2M401 458h3M409 458h3M416 458h34M460 458h1M333 459h7M364 459h2M401 459h3M409 459h3M416 459h34M460 459h1M333 460h7M364 460h2M401 460h3M409 460h3M416 460h34M460 460h1M333 461h7M364 461h2M401 461h3M409 461h3M416 461h34M460 461h1M333 462h7M364 462h2M401 462h3M409 462h3M416 462h34M460 462h1" stroke="#297b8e"/><path d="M305 289h1M335 289h1M392 289h1M467 289h1M480 289h2M392 290h2M398 290h2M431 290h1M467 290h1M480 290h2M317 291h1M392 291h2M398 291h2M431 291h1M467 291h2M481 291h1M335 292h2M392 292h2M398 292h2M467 292h2M481 292h1M305 293h1M335 293h2M392 293h2M398 293h2M467 293h1M481 293h1M305 294h1M391 294h3M398 294h2M481 294h1M392 295h2M398 295h2M466 295h3M315 296h4M392 296h2M418 296h2M431 296h1M480 296h2M315 297h3M391 297h4M396 297h5M418 297h2M430 297h2M445 297h2M450 297h5M465 297h4M479 297h3M335 298h2M358 298h2M374 298h2M391 298h11M407 298h2M413 298h1M417 298h3M429 298h4M442 298h6M450 298h5M464 298h6M478 298h4M335 299h2M357 299h4M366 299h3M374 299h2M379 299h7M389 299h13M416 299h5M423 299h4M429 299h8M441 299h8M452 299h20M473 299h10M314 300h5M324 300h1M336 300h2M342 300h3M356 300h6M365 300h5M372 300h30M405 300h1M408 300h76M313 301h5M335 301h9M357 301h7M368 301h125M496 301h4M316 302h4M322 302h3M333 302h10M349 302h16M366 302h134M316 303h5M323 303h3M327 303h3M331 303h161M494 303h6M313 304h8M323 304h25M352 304h142M501 304h1M312 305h5M319 305h29M350 305h143M501 305h1M307 306h27M335 306h167M314 307h14M330 307h172M310 308h7M319 308h183M305 309h186M495 309h5M308 310h191M308 311h192M306 312h14M322 312h180M305 313h197M305 314h17M325 314h177M305 315h18M325 315h176M305 316h197M305 317h197M305 318h196M305 319h197M305 320h197M305 321h197M305 322h197M305 323h197M305 324h197M305 325h197M305 326h197M305 327h197M305 328h197M305 329h197M305 330h197M305 331h194M501 331h1M305 332h195M305 333h197M305 334h197M305 335h197M305 336h197M305 337h197M305 338h197M305 339h197M305 340h197M305 341h197M305 342h197M305 343h197M305 344h197M305 345h197M305 346h197M305 347h197M305 348h197M305 349h197M305 350h197M305 351h197M305 352h197M305 353h197M305 354h197M305 355h197M305 356h197M305 357h197M305 358h196M305 359h197M305 360h197M305 361h197M305 362h197M305 363h197M305 364h197M305 365h197M305 366h197M305 367h195M305 368h195M305 369h197M305 370h197M305 371h197M305 372h197M305 373h197M305 374h197M305 375h197M305 376h197M305 377h197M305 378h197M305 379h197M305 380h197M305 381h197M305 382h197M305 383h197M305 384h197M305 385h195M305 386h196M305 387h196M305 388h13M320 388h182M305 389h197M305 390h197M305 391h16M324 391h178M305 392h5M312 392h9M325 392h177M305 393h18M325 393h177M305 394h197M305 395h1M310 395h8M331 395h14M347 395h132M481 395h11M311 396h1M333 396h9M363 396h4M370 396h3M375 396h2M380 396h12M396 396h2M400 396h5M407 396h44M457 396h6M333 397h6M364 397h2M401 397h3M409 397h4M416 397h34M460 397h1M333 398h5M402 398h2M409 398h3M416 398h19M437 398h12M334 399h4M402 399h2M409 399h3M416 399h19M438 399h8M334 400h4M402 400h2M409 400h3M416 400h6M423 400h12M438 400h8M334 401h4M402 401h2M409 401h3M416 401h6M423 401h12M438 401h8M334 402h4M402 402h2M409 402h3M416 402h6M423 402h11M438 402h8M334 403h4M402 403h2M409 403h3M416 403h5M423 403h11M438 403h8M334 404h3M402 404h2M409 404h3M416 404h5M423 404h11M438 404h8M334 405h3M402 405h2M409 405h3M416 405h5M423 405h11M439 405h7M334 406h3M402 406h2M409 406h3M416 406h5M424 406h10M439 406h7M334 407h3M402 407h2M410 407h2M416 407h5M424 407h10M439 407h6M334 408h3M402 408h2M410 408h2M416 408h5M424 408h10M439 408h6M334 409h3M402 409h2M410 409h2M417 409h4M424 409h10M439 409h6M334 410h3M402 410h2M410 410h2M417 410h4M424 410h10M439 410h6M335 411h2M402 411h2M410 411h2M417 411h4M424 411h10M439 411h6M335 412h2M402 412h2M410 412h2M417 412h4M424 412h10M439 412h6M335 413h2M402 413h2M410 413h2M417 413h4M424 413h10M440 413h5M335 414h2M402 414h2M410 414h2M417 414h4M424 414h10M440 414h5M335 415h1M402 415h2M410 415h2M417 415h3M424 415h10M440 415h5M335 416h1M402 416h2M410 416h2M417 416h3M424 416h10M440 416h5M335 417h1M402 417h2M410 417h2M417 417h3M424 417h10M440 417h5M335 418h1M402 418h2M410 418h2M417 418h3M424 418h10M440 418h5M335 419h1M402 419h2M410 419h2M417 419h3M424 419h10M440 419h5M335 420h1M402 420h2M410 420h2M417 420h3M424 420h10M440 420h5M335 421h1M402 421h2M410 421h2M417 421h3M424 421h10M440 421h5M335 422h1M402 422h2M410 422h2M417 422h3M424 422h10M440 422h5M335 423h1M402 423h2M410 423h2M417 423h3M424 423h10M440 423h5M335 424h1M402 424h2M410 424h2M417 424h3M424 424h10M440 424h5M335 425h1M402 425h2M410 425h2M417 425h3M424 425h10M440 425h5M335 426h1M402 426h2M410 426h2M417 426h3M424 426h10M440 426h5M335 427h1M402 427h2M410 427h2M417 427h3M424 427h10M440 427h5M335 428h1M402 428h2M410 428h2M417 428h3M424 428h10M440 428h5M335 429h1M402 429h2M410 429h2M417 429h3M424 429h10M440 429h5M335 430h1M402 430h2M410 430h2M417 430h3M424 430h10M440 430h5M335 431h1M402 431h2M410 431h2M417 431h3M424 431h10M440 431h5M335 432h1M402 432h2M410 432h2M417 432h3M424 432h10M440 432h5M335 433h1M402 433h2M410 433h2M417 433h3M424 433h10M440 433h5M335 434h1M402 434h2M410 434h2M417 434h3M424 434h10M440 434h5M335 435h1M402 435h2M410 435h2M417 435h3M424 435h10M440 435h5M335 436h1M402 436h2M410 436h2M417 436h3M424 436h10M440 436h5M335 437h1M402 437h2M410 437h2M417 437h3M424 437h10M440 437h5M335 438h1M402 438h2M410 438h2M417 438h3M424 438h10M440 438h5M335 439h1M402 439h2M410 439h2M417 439h3M424 439h10M440 439h5M335 440h1M402 440h2M410 440h2M417 440h3M424 440h10M440 440h5M335 441h1M402 441h2M410 441h2M417 441h3M424 441h10M440 441h5M335 442h1M402 442h2M410 442h2M417 442h3M424 442h10M440 442h5M335 443h1M402 443h2M410 443h2M417 443h3M424 443h10M440 443h5M335 444h1M402 444h2M410 444h2M417 444h3M424 444h10M440 444h5M335 445h1M402 445h2M410 445h2M417 445h3M424 445h10M440 445h5M335 446h1M402 446h2M410 446h2M417 446h3M424 446h10M440 446h5M335 447h1M402 447h2M410 447h2M417 447h3M424 447h10M440 447h5M335 448h1M402 448h2M410 448h2M417 448h3M424 448h10M440 448h5M335 449h1M402 449h2M410 449h2M417 449h3M424 449h10M440 449h5M335 450h2M402 450h2M410 450h2M417 450h4M424 450h10M440 450h5M335 451h2M402 451h2M410 451h2M417 451h4M424 451h10M440 451h5M335 452h2M402 452h2M410 452h2M417 452h4M424 452h10M440 452h5M335 453h2M402 453h2M410 453h2M417 453h4M424 453h10M440 453h5M335 454h2M402 454h2M410 454h2M417 454h4M424 454h10M440 454h5M335 455h2M402 455h2M410 455h2M417 455h4M424 455h10M439 455h6M335 456h2M402 456h2M410 456h2M417 456h4M424 456h10M439 456h6M335 457h2M402 457h2M410 457h2M417 457h4M424 457h10M439 457h6M335 458h2M402 458h2M410 458h2M417 458h4M424 458h10M439 458h6M335 459h2M402 459h2M410 459h2M417 459h4M424 459h10M439 459h6M334 460h3M402 460h2M410 460h2M417 460h4M424 460h10M439 460h6M334 461h3M402 461h2M410 461h2M417 461h4M424 461h10M439 461h6M334 462h3M402 462h2M410 462h2M417 462h4M424 462h10M439 462h6" stroke="#25838e"/><path d="M392 294h1M392 297h2M398 297h2M480 297h2M391 298h3M397 298h4M430 298h2M445 298h1M453 298h1M465 298h4M479 298h3M384 299h1M390 299h5M396 299h5M418 299h1M430 299h3M445 299h2M454 299h1M464 299h6M478 299h5M358 300h2M374 300h2M383 300h3M389 300h12M409 300h1M415 300h12M429 300h14M444 300h26M473 300h10M358 301h3M369 301h2M374 301h28M405 301h1M410 301h49M460 301h25M486 301h3M357 302h4M368 302h34M404 302h2M409 302h83M496 302h2M333 303h11M353 303h1M356 303h6M363 303h39M404 303h80M486 303h5M495 303h3M327 304h1M329 304h15M353 304h140M324 305h23M351 305h142M314 306h3M322 306h5M329 306h4M336 306h161M315 307h2M319 307h9M331 307h3M335 307h153M489 307h10M314 308h2M322 308h22M346 308h142M489 308h10M309 309h6M317 309h171M496 309h2M308 310h17M327 310h13M343 310h145M491 310h7M308 311h16M326 311h15M343 311h155M307 312h12M323 312h1M326 312h175M305 313h17M328 313h174M305 314h13M319 314h3M326 314h176M305 315h17M325 315h175M305 316h197M305 317h27M333 317h169M305 318h190M498 318h3M305 319h191M497 319h3M305 320h196M305 321h197M305 322h17M325 322h3M331 322h171M305 323h1M307 323h5M313 323h11M327 323h175M305 324h197M305 325h8M315 325h187M305 326h8M314 326h11M328 326h174M305 327h6M313 327h189M305 328h197M305 329h197M305 330h197M305 331h2M309 331h189M305 332h2M308 332h11M324 332h2M330 332h168M305 333h17M326 333h176M306 334h17M324 334h171M498 334h4M307 335h188M498 335h4M305 336h197M305 337h196M305 338h197M305 339h197M305 340h197M305 341h17M324 341h6M331 341h171M305 342h197M305 343h19M326 343h176M305 344h191M497 344h5M305 345h196M305 346h197M305 347h197M305 348h196M305 349h196M305 350h197M305 351h197M305 352h197M305 353h197M305 354h197M305 355h197M305 356h197M305 357h195M305 358h195M305 359h197M305 360h197M305 361h22M328 361h169M499 361h3M305 362h192M499 362h3M305 363h197M305 364h197M305 365h22M330 365h172M305 366h197M305 367h194M305 368h194M305 369h197M305 370h197M305 371h197M305 372h23M330 372h172M305 373h197M305 374h16M325 374h177M305 375h195M305 376h197M305 377h197M305 378h197M305 379h197M305 380h24M330 380h172M305 381h196M305 382h20M326 382h176M305 383h197M305 384h197M305 385h194M305 386h195M305 387h13M321 387h180M305 388h12M321 388h180M305 389h14M320 389h182M305 390h13M321 390h21M343 390h3M347 390h155M305 391h15M325 391h16M343 391h159M305 392h4M313 392h7M326 392h176M305 393h5M312 393h11M326 393h20M348 393h154M305 394h17M330 394h11M345 394h156M333 395h9M356 395h2M361 395h7M371 395h23M395 395h77M473 395h5M486 395h2M335 396h1M401 396h3M409 396h4M415 396h35M459 396h3M335 397h1M402 397h2M410 397h2M417 397h4M424 397h10M439 397h6M402 398h2M410 398h1M417 398h3M424 398h10M440 398h5M402 399h2M410 399h1M417 399h3M425 399h2M429 399h5M441 399h4M402 400h2M410 400h1M417 400h3M425 400h2M429 400h5M441 400h4M402 401h2M410 401h1M417 401h3M425 401h2M429 401h5M441 401h4M402 402h2M410 402h1M417 402h3M425 402h1M429 402h5M441 402h4M402 403h2M410 403h1M417 403h3M429 403h4M441 403h4M402 404h2M410 404h1M418 404h2M429 404h4M441 404h4M402 405h2M410 405h1M418 405h2M429 405h4M441 405h3M402 406h2M418 406h1M429 406h4M442 406h2M402 407h2M418 407h1M429 407h4M442 407h2M402 408h2M418 408h1M429 408h4M442 408h2M402 409h2M418 409h1M429 409h4M442 409h2M402 410h2M418 410h1M430 410h3M442 410h2M402 411h2M418 411h1M430 411h3M442 411h2M402 412h2M430 412h3M442 412h2M402 413h2M430 413h3M442 413h2M402 414h2M430 414h3M442 414h2M402 415h2M430 415h3M442 415h2M402 416h2M430 416h3M442 416h2M402 417h2M430 417h3M442 417h2M402 418h2M430 418h3M442 418h2M402 419h2M430 419h3M442 419h2M402 420h2M430 420h3M442 420h2M402 421h2M430 421h3M442 421h2M402 422h2M430 422h3M442 422h2M402 423h2M430 423h3M442 423h2M402 424h2M430 424h3M442 424h2M402 425h2M430 425h3M442 425h2M402 426h2M430 426h3M442 426h2M402 427h2M430 427h3M442 427h2M402 428h2M430 428h3M442 428h2M402 429h2M430 429h3M442 429h2M402 430h2M430 430h3M442 430h2M402 431h2M430 431h3M442 431h2M402 432h2M430 432h3M442 432h2M402 433h2M430 433h3M442 433h2M402 434h2M430 434h3M442 434h2M402 435h2M430 435h3M442 435h2M402 436h2M430 436h3M442 436h2M402 437h2M430 437h3M442 437h2M402 438h2M430 438h3M442 438h2M402 439h2M430 439h3M442 439h2M402 440h2M430 440h3M442 440h2M402 441h2M430 441h3M442 441h2M402 442h2M430 442h3M442 442h2M402 443h2M430 443h3M442 443h2M402 444h2M430 444h3M442 444h2M402 445h2M430 445h3M442 445h2M402 446h2M430 446h3M442 446h2M402 447h2M430 447h3M442 447h2M402 448h2M430 448h3M442 448h2M402 449h2M430 449h3M442 449h2M402 450h2M430 450h3M442 450h2M402 451h2M430 451h3M442 451h2M402 452h2M430 452h3M442 452h2M402 453h2M430 453h3M442 453h2M402 454h2M430 454h3M442 454h2M402 455h2M430 455h3M442 455h2M402 456h2M430 456h3M442 456h2M402 457h2M430 457h3M442 457h2M402 458h2M418 458h1M430 458h3M442 458h2M402 459h2M418 459h1M430 459h3M442 459h2M402 460h2M418 460h1M430 460h3M442 460h2M402 461h2M418 461h1M430 461h3M442 461h2M402 462h2M418 462h1M430 462h3M442 462h2" stroke="#228c8d"/><path d="M392 298h1M398 298h2M391 299h3M398 299h2M431 299h1M466 299h3M480 299h2M391 300h5M397 300h4M418 300h2M430 300h3M435 300h3M445 300h2M450 300h1M453 300h3M465 300h4M479 300h3M379 301h2M389 301h12M412 301h15M429 301h5M436 301h4M442 301h14M461 301h5M472 301h5M481 301h2M358 302h2M369 302h13M384 302h18M410 302h49M460 302h23M486 302h4M357 303h3M364 303h38M405 303h2M411 303h11M425 303h57M487 303h3M356 304h47M404 304h81M486 304h6M331 305h2M351 305h141M331 306h1M337 306h5M345 306h3M350 306h142M331 307h2M337 307h1M340 307h3M346 307h56M404 307h83M490 307h5M330 308h13M346 308h141M490 308h5M327 309h15M347 309h140M312 310h6M328 310h11M344 310h143M493 310h2M311 311h4M327 311h13M344 311h151M308 312h5M329 312h168M308 313h8M329 313h16M352 313h148M305 314h3M311 314h6M326 314h22M352 314h141M495 314h6M305 315h16M326 315h2M332 315h168M307 316h9M317 316h4M323 316h4M334 316h168M305 317h26M334 317h162M498 317h4M305 318h21M327 318h4M334 318h161M499 318h1M306 319h12M321 319h7M329 319h166M498 319h1M308 320h19M329 320h162M495 320h6M305 321h16M324 321h3M332 321h170M305 322h1M313 322h8M332 322h170M308 323h3M314 323h9M329 323h173M306 324h7M314 324h188M305 325h7M315 325h187M305 326h7M315 326h4M321 326h3M329 326h173M305 327h6M314 327h11M327 327h170M498 327h4M305 328h2M309 328h3M314 328h174M489 328h13M305 329h183M490 329h12M305 330h3M309 330h193M305 331h1M309 331h9M320 331h7M336 331h161M305 332h1M309 332h9M333 332h164M305 333h17M330 333h166M499 333h3M306 334h16M325 334h3M330 334h164M500 334h2M307 335h186M500 335h2M305 336h16M323 336h8M333 336h162M305 337h192M306 338h196M305 339h197M305 340h25M331 340h169M305 341h16M325 341h4M333 341h163M498 341h4M305 342h27M335 342h166M305 343h19M327 343h5M334 343h160M496 343h4M305 344h190M498 344h4M305 345h34M340 345h161M305 346h197M305 347h195M305 348h191M498 348h2M305 349h22M330 349h166M305 350h22M331 350h171M305 351h197M305 352h26M333 352h5M341 352h161M305 353h22M330 353h9M342 353h160M305 354h35M343 354h159M305 355h194M305 356h197M305 357h193M305 358h194M305 359h196M305 360h192M499 360h3M305 361h21M329 361h167M500 361h2M305 362h22M329 362h167M500 362h2M305 363h15M322 363h180M305 364h197M305 365h22M330 365h171M305 366h23M331 366h8M340 366h155M497 366h4M305 367h12M319 367h180M305 368h10M317 368h17M336 368h162M305 369h8M317 369h183M305 370h7M313 370h180M495 370h5M305 371h196M305 372h22M331 372h169M305 373h24M331 373h170M305 374h15M326 374h4M331 374h170M305 375h27M335 375h164M305 376h196M305 377h196M305 378h4M311 378h190M305 379h4M311 379h190M305 380h23M333 380h168M305 381h18M325 381h5M331 381h170M305 382h19M327 382h173M305 383h8M315 383h186M305 384h2M309 384h192M306 385h3M312 385h17M333 385h12M346 385h153M305 386h24M333 386h166M305 387h12M321 387h179M305 388h10M322 388h179M305 389h13M321 389h181M305 390h4M310 390h8M322 390h3M326 390h15M351 390h146M500 390h2M305 391h3M312 391h7M325 391h15M347 391h2M350 391h146M501 391h1M305 392h3M316 392h3M327 392h21M351 392h149M317 393h4M331 393h2M335 393h2M338 393h3M350 393h150M335 394h2M349 394h4M355 394h141M364 395h3M372 395h5M379 395h13M397 395h8M406 395h16M423 395h42M469 395h2M475 395h1M402 396h2M410 396h2M416 396h5M424 396h4M429 396h5M439 396h7M402 397h2M418 397h1M430 397h3M442 397h2M402 398h1M430 398h3M442 398h2M402 399h1M430 399h3M402 400h1M430 400h3M402 401h1M430 401h3M402 402h1M430 402h3M402 403h1M431 403h1M431 404h1M431 405h1M431 406h1M431 407h1M431 408h1M431 409h1M431 410h1M431 411h1M431 459h1M431 460h1M431 461h1M431 462h1" stroke="#1f948c"/><path d="M392 299h1M392 300h2M391 301h4M397 301h3M418 301h3M430 301h3M444 301h3M449 301h2M474 301h2M375 302h1M390 302h11M411 302h10M424 302h23M449 302h3M454 302h2M462 302h8M472 302h7M366 303h7M374 303h5M380 303h21M411 303h10M425 303h25M452 303h30M358 304h3M364 304h33M399 304h3M404 304h6M413 304h10M425 304h4M431 304h1M433 304h51M488 304h2M352 305h50M404 305h7M413 305h15M430 305h61M351 306h51M404 306h83M347 307h52M404 307h83M331 308h4M347 308h41M390 308h6M397 308h5M404 308h82M331 309h4M350 309h53M404 309h1M408 309h78M330 310h7M346 310h57M404 310h82M330 311h8M345 311h143M491 311h2M330 312h10M341 312h152M331 313h13M352 313h143M332 314h15M355 314h3M362 314h122M485 314h7M333 315h27M362 315h121M485 315h6M494 315h4M334 316h24M359 316h134M495 316h2M334 317h23M359 317h136M499 317h1M313 318h1M334 318h20M358 318h44M404 318h81M488 318h6M309 319h1M314 319h2M331 319h2M334 319h21M357 319h45M404 319h81M487 319h7M309 320h1M313 320h1M331 320h2M335 320h155M496 320h4M306 321h2M311 321h7M334 321h159M496 321h6M333 322h161M496 322h6M308 323h2M331 323h12M345 323h157M307 324h5M316 324h2M323 324h1M328 324h174M305 325h7M317 325h3M322 325h3M328 325h25M355 325h147M305 326h7M322 326h1M330 326h3M334 326h159M495 326h7M306 327h2M315 327h4M321 327h3M328 327h4M334 327h161M500 327h2M305 328h1M315 328h172M490 328h12M305 329h2M310 329h17M328 329h159M491 329h2M495 329h5M305 330h2M312 330h5M319 330h7M328 330h20M350 330h20M371 330h125M310 331h7M323 331h3M337 331h13M351 331h144M309 332h9M334 332h3M338 332h157M308 333h13M331 333h163M307 334h14M331 334h26M358 334h44M404 334h89M307 335h13M325 335h4M331 335h71M404 335h88M306 336h13M325 336h5M334 336h160M306 337h4M311 337h7M322 337h3M329 337h2M332 337h158M492 337h4M306 338h10M319 338h3M324 338h173M305 339h11M318 339h179M305 340h16M324 340h4M332 340h157M492 340h5M305 341h16M326 341h3M335 341h161M305 342h18M326 342h3M335 342h3M341 342h157M305 343h11M318 343h5M328 343h3M335 343h158M305 344h18M327 344h13M341 344h153M305 345h16M324 345h15M341 345h158M305 346h4M310 346h23M336 346h3M340 346h159M305 347h24M331 347h162M305 348h9M318 348h176M305 349h20M331 349h164M305 350h17M331 350h5M338 350h159M305 351h197M305 352h25M334 352h2M343 352h159M305 353h21M333 353h6M343 353h159M305 354h35M345 354h147M495 354h5M305 355h2M309 355h14M328 355h13M344 355h153M305 356h16M325 356h172M498 356h4M305 357h14M323 357h168M493 357h4M305 358h193M305 359h3M315 359h183M305 360h10M316 360h180M305 361h21M329 361h167M305 362h8M315 362h11M331 362h165M305 363h15M324 363h3M333 363h161M305 364h13M324 364h1M329 364h169M305 365h15M323 365h2M331 365h7M339 365h148M489 365h9M305 366h16M336 366h1M340 366h154M305 367h6M312 367h3M320 367h178M305 368h8M319 368h15M337 368h7M345 368h152M305 369h7M317 369h5M324 369h174M305 370h6M318 370h4M325 370h7M334 370h157M495 370h4M306 371h13M321 371h178M306 372h20M332 372h167M305 373h16M324 373h4M332 373h3M338 373h160M305 374h4M311 374h9M327 374h1M332 374h164M305 375h6M314 375h9M336 375h158M497 375h1M306 376h4M315 376h2M318 376h9M330 376h3M334 376h68M404 376h92M305 377h3M312 377h16M331 377h166M305 378h3M312 378h5M319 378h178M305 379h3M313 379h4M319 379h8M332 379h165M306 380h4M314 380h3M319 380h8M333 380h159M494 380h4M305 381h2M311 381h11M326 381h3M332 381h167M305 382h2M311 382h12M328 382h22M351 382h148M306 383h1M321 383h4M327 383h12M340 383h159M305 384h1M310 384h1M312 384h1M322 384h165M491 384h8M307 385h1M325 385h3M333 385h11M347 385h56M404 385h83M491 385h7M306 386h2M326 386h2M333 386h8M344 386h59M404 386h94M305 387h1M307 387h2M323 387h4M331 387h158M491 387h7M305 388h1M323 388h4M329 388h17M348 388h11M361 388h4M366 388h123M490 388h9M305 389h1M325 389h3M331 389h166M327 390h2M331 390h9M352 390h3M359 390h137M328 391h1M331 391h8M351 391h143M331 392h7M353 392h143M497 392h1M352 393h2M355 393h135M493 393h3M357 394h1M362 394h7M370 394h6M378 394h92M474 394h14M402 395h2M410 395h2M415 395h6M424 395h4M430 395h21M458 395h5M431 396h2M443 396h1" stroke="#1e9d89"/><path d="M392 301h1M392 302h1M398 302h1M418 302h2M429 302h4M473 302h4M393 303h3M399 303h1M412 303h9M426 303h22M453 303h28M372 304h2M375 304h11M393 304h3M400 304h1M414 304h8M425 304h3M434 304h49M359 305h2M365 305h15M382 305h8M393 305h1M395 305h7M405 305h5M414 305h14M431 305h13M448 305h37M355 306h15M371 306h28M404 306h41M448 306h15M464 306h22M351 307h13M370 307h4M378 307h16M396 307h1M405 307h53M461 307h8M470 307h8M479 307h7M351 308h23M375 308h13M391 308h4M398 308h4M404 308h74M480 308h6M333 309h1M351 309h5M358 309h44M409 309h76M332 310h3M349 310h40M391 310h11M406 310h79M332 311h3M349 311h53M404 311h79M332 312h5M348 312h48M399 312h3M404 312h79M484 312h3M333 313h5M353 313h5M361 313h10M372 313h14M388 313h14M404 313h85M334 314h5M356 314h1M362 314h41M404 314h79M487 314h4M334 315h6M347 315h1M350 315h9M363 315h117M486 315h2M335 316h10M349 316h4M362 316h115M486 316h3M334 317h7M345 317h6M360 317h10M372 317h107M485 317h8M335 318h7M345 318h3M350 318h3M358 318h44M404 318h75M489 318h4M335 319h10M346 319h8M358 319h44M404 319h80M487 319h6M335 320h20M357 320h45M404 320h77M484 320h6M335 321h20M357 321h134M336 322h7M344 322h148M334 323h8M346 323h147M331 324h15M348 324h7M356 324h46M403 324h89M332 325h21M356 325h13M375 325h115M331 326h1M335 326h18M356 326h17M375 326h108M485 326h6M329 327h3M335 327h19M357 327h134M328 328h158M332 329h29M362 329h40M404 329h82M334 330h14M350 330h10M363 330h6M373 330h30M404 330h88M311 331h4M338 331h11M353 331h139M310 332h7M338 332h152M309 333h6M332 333h160M309 334h5M316 334h2M333 334h23M359 334h43M404 334h86M308 335h10M333 335h4M338 335h64M404 335h87M309 336h8M334 336h4M339 336h151M307 337h2M312 337h4M334 337h156M494 337h1M312 338h3M333 338h2M336 338h4M341 338h151M494 338h1M306 339h5M312 339h3M333 339h8M342 339h148M493 339h1M305 340h6M315 340h2M336 340h5M342 340h146M306 341h6M313 341h5M336 341h3M341 341h15M358 341h44M404 341h88M305 342h11M342 342h17M360 342h126M488 342h7M305 343h10M336 343h156M305 344h12M330 344h2M336 344h3M342 344h152M305 345h15M330 345h2M336 345h2M341 345h153M306 346h3M311 346h9M329 346h2M341 346h154M305 347h12M318 347h4M332 347h5M339 347h64M404 347h88M305 348h7M319 348h3M327 348h2M333 348h7M342 348h151M305 349h17M333 349h22M356 349h139M305 350h15M332 350h3M339 350h157M305 351h16M323 351h2M327 351h1M333 351h3M339 351h149M489 351h7M499 351h2M305 352h23M344 352h158M305 353h18M336 353h2M344 353h13M359 353h142M305 354h1M309 354h11M336 354h3M346 354h12M360 354h131M496 354h1M305 355h1M310 355h7M319 355h1M345 355h28M374 355h118M494 355h2M305 356h3M310 356h9M332 356h3M336 356h3M342 356h30M374 356h117M493 356h2M305 357h9M333 357h6M342 357h15M358 357h133M494 357h2M305 358h5M315 358h4M334 358h5M340 358h16M358 358h134M305 359h3M316 359h4M332 359h32M368 359h117M488 359h7M305 360h8M333 360h69M403 360h92M305 361h10M336 361h159M305 362h7M316 362h3M333 362h27M362 362h132M305 363h7M316 363h3M334 363h10M347 363h138M487 363h5M305 364h9M333 364h5M339 364h4M346 364h138M490 364h3M305 365h8M315 365h1M340 365h25M368 365h114M490 365h5M305 366h6M341 366h142M485 366h8M305 367h5M336 367h28M367 367h36M404 367h91M338 368h5M346 368h56M403 368h93M305 369h6M338 369h1M341 369h151M494 369h2M306 370h4M337 370h2M342 370h27M371 370h120M307 371h4M314 371h2M337 371h3M342 371h152M495 371h1M307 372h7M341 372h156M306 373h8M340 373h156M337 374h4M344 374h150M306 375h3M337 375h29M367 375h125M339 376h23M368 376h34M404 376h91M305 377h1M332 377h2M337 377h13M352 377h51M404 377h92M305 378h2M331 378h15M347 378h119M467 378h28M334 379h161M334 380h10M349 380h141M333 381h2M340 381h9M351 381h142M495 381h1M330 382h6M341 382h8M352 382h143M329 383h1M332 383h5M344 383h58M404 383h91M332 384h6M340 384h4M347 384h7M359 384h43M404 384h82M491 384h6M335 385h8M354 385h3M359 385h43M404 385h5M412 385h46M459 385h28M495 385h1M334 386h4M345 386h6M353 386h5M359 386h43M405 386h85M491 386h2M494 386h3M334 387h5M343 387h1M347 387h4M352 387h6M360 387h129M492 387h4M331 388h3M336 388h3M349 388h1M353 388h5M362 388h2M367 388h36M404 388h84M492 388h4M333 389h4M354 389h1M361 389h8M370 389h125M364 390h5M371 390h123M358 391h12M373 391h120M357 392h132M361 393h18M381 393h3M388 393h101M364 394h4M372 394h3M380 394h4M387 394h16M404 394h3M409 394h43M454 394h14M474 394h5M482 394h4M417 395h3M431 395h3M440 395h7" stroke="#21a585"/><path d="M418 303h1M431 303h1M473 303h4M415 304h5M435 304h3M443 304h6M453 304h2M468 304h14M407 305h2M415 305h3M421 305h6M435 305h8M450 305h12M465 305h18M376 306h9M386 306h4M396 306h2M406 306h5M414 306h30M449 306h12M465 306h19M378 307h15M407 307h33M442 307h14M462 307h6M472 307h5M480 307h4M359 308h2M377 308h10M391 308h3M399 308h1M409 308h30M441 308h27M471 308h6M481 308h3M359 309h4M365 309h1M368 309h21M390 309h5M398 309h3M411 309h28M441 309h42M358 310h3M368 310h21M392 310h8M407 310h53M462 310h13M478 310h5M359 311h2M366 311h1M370 311h1M378 311h24M409 311h9M422 311h25M449 311h26M478 311h4M333 312h2M357 312h9M369 312h2M375 312h21M400 312h2M404 312h4M409 312h10M421 312h61M334 313h2M362 313h3M373 313h12M389 313h13M406 313h15M425 313h9M436 313h11M449 313h34M335 314h2M363 314h13M378 314h9M388 314h14M405 314h16M424 314h59M335 315h2M364 315h38M404 315h17M422 315h54M335 316h2M364 316h6M371 316h25M398 316h4M404 316h73M335 317h4M362 317h3M373 317h24M398 317h4M404 317h74M335 318h3M359 318h42M405 318h41M448 318h30M336 319h4M352 319h1M358 319h5M364 319h9M375 319h27M405 319h50M457 319h22M481 319h2M488 319h1M336 320h6M351 320h2M358 320h15M375 320h27M404 320h76M486 320h3M336 321h8M360 321h5M366 321h7M374 321h24M399 321h3M404 321h78M484 321h5M336 322h6M348 322h24M374 322h28M404 322h71M476 322h11M337 323h3M347 323h45M396 323h6M404 323h36M441 323h47M337 324h2M341 324h3M349 324h5M357 324h21M380 324h13M395 324h6M404 324h83M334 325h13M348 325h4M357 325h2M360 325h8M375 325h3M380 325h23M404 325h83M335 326h8M345 326h7M357 326h15M376 326h19M396 326h17M414 326h20M441 326h42M335 327h8M345 327h8M358 327h5M367 327h7M376 327h63M440 327h12M455 327h32M334 328h1M336 328h22M362 328h41M404 328h81M334 329h25M372 329h5M379 329h23M404 329h37M446 329h39M336 330h11M351 330h3M355 330h5M364 330h3M374 330h28M404 330h85M339 331h9M354 331h6M362 331h10M374 331h28M404 331h85M339 332h10M351 332h17M370 332h110M484 332h4M338 333h14M355 333h2M360 333h8M369 333h112M483 333h7M338 334h17M360 334h41M406 334h83M339 335h9M350 335h6M357 335h19M378 335h23M406 335h76M486 335h3M340 336h22M364 336h5M373 336h2M378 336h111M338 337h1M342 337h11M356 337h14M372 337h31M404 337h80M338 338h1M342 338h5M354 338h86M443 338h43M487 338h3M338 339h2M343 339h7M351 339h5M360 339h82M445 339h43M338 340h2M343 340h6M351 340h51M404 340h38M444 340h43M308 341h3M343 341h12M360 341h42M405 341h84M305 342h6M343 342h7M351 342h7M361 342h124M489 342h2M310 343h4M342 343h25M369 343h122M305 344h10M342 344h144M487 344h4M305 345h4M310 345h5M342 345h18M361 345h111M475 345h2M478 345h8M307 346h1M311 346h5M342 346h20M363 346h39M404 346h33M438 346h47M488 346h3M305 347h5M312 347h3M342 347h20M363 347h4M369 347h33M405 347h80M488 347h3M305 348h5M343 348h60M404 348h88M305 349h6M342 349h12M356 349h47M404 349h12M418 349h75M306 350h8M316 350h2M343 350h10M356 350h46M404 350h89M306 351h9M344 351h142M490 351h4M305 352h12M344 352h31M376 352h4M382 352h93M478 352h6M489 352h5M305 353h5M312 353h6M345 353h12M360 353h126M492 353h2M311 354h5M346 354h12M360 354h42M404 354h86M305 355h1M311 355h5M345 355h14M360 355h11M375 355h116M305 356h1M311 356h5M343 356h29M375 356h115M305 357h3M309 357h5M343 357h3M348 357h8M359 357h131M306 358h2M342 358h14M359 358h5M367 358h6M376 358h114M306 359h1M341 359h16M358 359h5M369 359h1M371 359h31M403 359h82M305 360h2M309 360h2M340 360h3M344 360h20M366 360h3M373 360h28M404 360h63M471 360h14M487 360h5M305 361h8M341 361h33M375 361h27M403 361h88M305 362h6M342 362h17M363 362h128M307 363h2M339 363h4M347 363h11M360 363h43M404 363h80M305 364h1M309 364h3M340 364h2M347 364h24M372 364h97M473 364h10M305 365h2M345 365h18M372 365h66M440 365h29M471 365h11M306 366h2M343 366h22M369 366h34M407 366h76M486 366h2M341 367h3M346 367h5M352 367h11M369 367h33M405 367h79M486 367h3M347 368h16M364 368h33M400 368h2M404 368h87M345 369h135M481 369h10M343 370h17M361 370h7M372 370h118M343 371h27M372 371h91M465 371h27M343 372h4M348 372h55M404 372h21M431 372h7M440 372h53M344 373h87M432 373h60M344 374h144M489 374h3M344 375h14M359 375h5M368 375h34M404 375h21M430 375h58M342 376h19M369 376h13M383 376h18M405 376h78M485 376h4M490 376h3M339 377h6M354 377h8M364 377h38M404 377h89M339 378h5M348 378h4M354 378h49M404 378h5M410 378h55M468 378h25M341 379h2M348 379h4M355 379h47M404 379h61M467 379h19M488 379h4M351 380h51M404 380h84M341 381h6M352 381h12M366 381h36M404 381h83M353 382h47M404 382h67M472 382h20M353 383h1M357 383h45M404 383h65M471 383h13M489 383h3M360 384h42M404 384h5M414 384h43M460 384h26M360 385h42M405 385h3M413 385h12M427 385h9M439 385h18M460 385h26M355 386h2M361 386h8M370 386h4M377 386h24M405 386h7M415 386h68M484 386h4M362 387h40M404 387h9M416 387h43M462 387h26M368 388h25M394 388h2M398 388h4M404 388h83M371 389h22M394 389h3M400 389h2M404 389h33M438 389h49M490 389h1M366 390h2M372 390h3M377 390h8M387 390h15M404 390h2M409 390h28M438 390h52M364 391h6M373 391h29M404 391h23M429 391h62M370 392h14M386 392h16M404 392h14M424 392h25M450 392h14M465 392h23M369 393h8M388 393h14M404 393h14M421 393h20M443 393h26M471 393h17M399 394h2M410 394h2M415 394h11M429 394h22M459 394h5" stroke="#28ae80"/><path d="M474 304h2M471 305h5M425 306h2M430 306h4M466 306h4M471 306h6M478 306h2M410 307h6M421 307h17M472 307h4M412 308h6M421 308h3M427 308h12M443 308h9M456 308h3M462 308h5M471 308h5M382 309h6M413 309h6M426 309h12M442 309h18M463 309h12M379 310h9M393 310h2M409 310h5M415 310h4M422 310h18M442 310h17M463 310h11M479 310h1M381 311h10M393 311h3M411 311h5M422 311h19M443 311h1M450 311h5M457 311h8M468 311h7M382 312h12M410 312h8M422 312h22M448 312h5M455 312h2M460 312h7M469 312h12M380 313h4M390 313h6M400 313h1M407 313h8M417 313h4M425 313h8M437 313h8M455 313h2M459 313h21M380 314h5M389 314h12M407 314h5M415 314h6M424 314h24M450 314h31M335 315h1M377 315h2M381 315h14M398 315h3M405 315h12M423 315h53M335 316h1M380 316h15M399 316h2M405 316h12M424 316h31M457 316h19M335 317h2M377 317h19M399 317h3M405 317h12M419 317h59M336 318h1M376 318h20M397 318h4M405 318h30M436 318h10M450 318h27M336 319h2M376 319h3M382 319h14M397 319h4M405 319h42M450 319h3M458 319h20M336 320h3M368 320h4M376 320h3M381 320h10M393 320h5M399 320h2M405 320h4M410 320h13M425 320h10M438 320h8M448 320h4M455 320h24M337 321h3M368 321h3M375 321h3M382 321h15M400 321h2M404 321h3M410 321h29M440 321h41M337 322h4M375 322h4M381 322h13M395 322h1M404 322h7M412 322h3M417 322h57M477 322h8M338 323h1M371 323h7M380 323h12M396 323h4M404 323h11M417 323h22M442 323h3M448 323h2M451 323h33M372 324h6M380 324h13M396 324h4M404 324h15M421 324h54M476 324h9M337 325h3M382 325h10M394 325h8M404 325h30M438 325h36M476 325h6M336 326h6M377 326h17M397 326h5M404 326h8M415 326h18M441 326h5M448 326h34M336 327h6M370 327h3M377 327h19M397 327h5M404 327h30M436 327h2M441 327h11M455 327h7M463 327h14M478 327h5M338 328h6M377 328h25M404 328h40M447 328h5M454 328h16M471 328h13M338 329h4M344 329h1M380 329h22M405 329h34M446 329h33M483 329h1M337 330h8M377 330h25M405 330h77M339 331h6M375 331h26M404 331h42M447 331h39M339 332h7M374 332h28M404 332h3M410 332h69M485 332h1M339 333h6M374 333h28M404 333h76M484 333h3M339 334h7M377 334h23M407 334h76M340 335h6M378 335h20M408 335h74M341 336h6M379 336h21M401 336h1M404 336h2M410 336h23M434 336h54M342 337h5M375 337h27M404 337h28M436 337h4M443 337h39M343 338h4M370 338h33M404 338h12M417 338h22M444 338h3M450 338h34M344 339h3M362 339h3M366 339h2M371 339h31M404 339h37M445 339h34M481 339h3M344 340h4M352 340h1M362 340h2M367 340h2M372 340h29M404 340h37M444 340h40M344 341h5M351 341h3M362 341h8M372 341h29M406 341h32M441 341h7M450 341h19M470 341h15M343 342h6M352 342h3M363 342h39M404 342h50M455 342h29M343 343h7M352 343h15M370 343h32M404 343h9M414 343h71M343 344h9M356 344h3M361 344h6M369 344h27M397 344h5M404 344h9M415 344h17M434 344h13M451 344h33M343 345h16M365 345h37M404 345h67M479 345h6M343 346h5M349 346h11M364 346h38M407 346h23M432 346h3M440 346h33M474 346h10M343 347h18M364 347h1M371 347h31M406 347h40M449 347h35M344 348h11M357 348h9M368 348h14M384 348h18M405 348h80M344 349h9M357 349h45M407 349h8M419 349h71M307 350h3M344 350h8M357 350h45M405 350h82M308 351h3M345 351h5M352 351h13M367 351h4M373 351h29M404 351h30M435 351h4M440 351h45M305 352h1M312 352h1M345 352h15M365 352h9M377 352h2M382 352h14M398 352h4M404 352h3M416 352h58M479 352h4M305 353h1M346 353h10M367 353h7M375 353h5M383 353h14M400 353h2M404 353h68M477 353h7M347 354h10M361 354h5M369 354h13M384 354h18M404 354h82M346 355h12M362 355h1M365 355h1M376 355h22M400 355h2M403 355h79M484 355h5M346 356h1M348 356h7M359 356h3M366 356h1M375 356h22M399 356h74M474 356h12M487 356h1M349 357h3M360 357h3M370 357h1M376 357h2M381 357h22M404 357h84M348 358h7M360 358h3M368 358h2M378 358h3M382 358h21M404 358h38M445 358h29M477 358h8M346 359h10M359 359h2M374 359h27M404 359h40M445 359h39M346 360h17M375 360h26M404 360h31M439 360h27M472 360h11M350 361h10M376 361h26M404 361h30M436 361h52M350 362h8M368 362h1M371 362h9M381 362h21M404 362h82M349 363h8M367 363h2M370 363h32M405 363h21M427 363h43M473 363h11M351 364h11M373 364h29M404 364h65M474 364h2M480 364h2M351 365h10M373 365h29M404 365h34M441 365h5M449 365h19M472 365h9M348 366h15M371 366h5M377 366h25M409 366h1M412 366h69M348 367h3M353 367h10M372 367h3M377 367h25M408 367h68M479 367h4M348 368h14M366 368h10M378 368h5M386 368h10M405 368h72M480 368h7M347 369h3M352 369h7M363 369h5M370 369h32M404 369h75M482 369h6M347 370h12M363 370h4M373 370h29M404 370h60M466 370h15M487 370h1M349 371h1M352 371h5M359 371h10M373 371h29M404 371h25M430 371h32M467 371h22M349 372h12M362 372h8M372 372h3M377 372h25M404 372h21M431 372h7M440 372h38M481 372h5M352 373h8M362 373h1M365 373h4M372 373h12M386 373h16M404 373h25M433 373h6M440 373h39M481 373h6M488 373h2M345 374h5M351 374h11M365 374h37M404 374h10M415 374h50M471 374h15M346 375h11M360 375h1M369 375h13M383 375h19M404 375h21M430 375h36M468 375h11M480 375h4M355 376h5M369 376h12M384 376h17M405 376h31M438 376h44M355 377h6M365 377h3M370 377h25M397 377h5M405 377h61M468 377h19M355 378h5M364 378h2M368 378h34M404 378h4M411 378h14M427 378h37M468 378h3M478 378h9M356 379h4M365 379h37M404 379h21M427 379h10M442 379h20M467 379h6M478 379h7M358 380h4M367 380h35M405 380h1M409 380h54M466 380h7M475 380h12M358 381h3M369 381h33M405 381h2M409 381h71M481 381h4M358 382h8M367 382h32M405 382h34M441 382h28M473 382h11M360 383h3M366 383h20M388 383h13M405 383h64M472 383h11M369 384h16M386 384h15M415 384h13M433 384h3M439 384h17M461 384h24M369 385h16M387 385h14M405 385h2M414 385h10M429 385h2M433 385h2M440 385h13M454 385h2M461 385h22M371 386h2M381 386h4M387 386h1M394 386h6M406 386h2M416 386h9M426 386h11M440 386h17M462 386h18M372 387h3M377 387h14M394 387h8M405 387h4M416 387h43M463 387h22M370 388h7M378 388h14M399 388h3M405 388h5M415 388h21M438 388h47M372 389h3M379 389h6M387 389h5M400 389h2M405 389h5M414 389h22M439 389h45M378 390h6M388 390h14M411 390h6M420 390h7M429 390h6M439 390h46M374 391h2M379 391h6M391 391h11M410 391h2M416 391h5M424 391h2M435 391h19M458 391h11M475 391h5M484 391h1M372 392h6M388 392h7M396 392h5M405 392h8M414 392h3M425 392h9M438 392h9M458 392h4M473 392h9M389 393h1M393 393h8M405 393h2M409 393h4M415 393h2M422 393h18M444 393h3M454 393h7M473 393h1M442 394h5" stroke="#34b679"/><path d="M473 305h2M472 306h4M430 307h2M472 307h4M429 308h3M471 308h4M427 309h8M470 309h5M426 310h12M466 310h8M423 311h16M461 311h3M469 311h5M425 312h17M461 312h5M469 312h7M381 313h2M426 313h7M438 313h4M443 313h1M460 313h3M465 313h1M469 313h9M381 314h3M425 314h21M452 314h23M387 315h5M424 315h21M448 315h1M451 315h3M456 315h19M381 316h10M426 316h21M449 316h5M458 316h17M381 317h6M388 317h2M421 317h11M435 317h2M440 317h5M448 317h5M454 317h2M458 317h19M380 318h4M385 318h5M420 318h11M439 318h6M451 318h4M458 318h4M464 318h12M390 319h1M421 319h1M425 319h10M437 319h7M459 319h2M463 319h14M381 320h9M395 320h1M420 320h2M426 320h8M440 320h2M449 320h2M463 320h14M337 321h1M383 321h7M395 321h1M405 321h1M418 321h19M442 321h10M455 321h5M462 321h17M338 322h1M382 322h8M405 322h5M419 322h4M426 322h13M441 322h8M452 322h2M456 322h18M381 323h9M405 323h8M421 323h17M453 323h1M458 323h16M477 323h3M381 324h11M405 324h3M409 324h3M415 324h3M421 324h19M448 324h2M452 324h22M478 324h2M338 325h1M383 325h8M395 325h6M405 325h8M415 325h18M439 325h6M448 325h25M477 325h3M338 326h3M378 326h7M387 326h6M398 326h3M405 326h5M415 326h17M441 326h4M449 326h23M475 326h5M338 327h4M378 327h8M387 327h8M398 327h4M405 327h28M442 327h4M448 327h3M456 327h6M464 327h8M338 328h4M379 328h18M399 328h3M405 328h29M436 328h4M447 328h4M455 328h3M461 328h8M474 328h5M339 329h2M381 329h18M405 329h17M424 329h14M447 329h11M461 329h13M339 330h4M380 330h21M406 330h17M425 330h13M442 330h3M446 330h13M462 330h10M340 331h3M377 331h12M390 331h10M405 331h1M408 331h25M437 331h7M449 331h9M460 331h12M474 331h6M340 332h4M377 332h21M401 332h1M404 332h2M412 332h21M441 332h37M340 333h4M377 333h11M390 333h3M396 333h6M408 333h9M418 333h17M439 333h1M442 333h37M340 334h4M379 334h15M397 334h2M410 334h6M417 334h22M443 334h39M341 335h4M379 335h18M409 335h24M436 335h8M447 335h34M341 336h4M379 336h20M412 336h4M419 336h9M436 336h4M445 336h11M458 336h26M343 337h3M378 337h24M405 337h10M419 337h11M444 337h2M449 337h32M343 338h3M376 338h3M382 338h20M404 338h11M418 338h14M451 338h25M479 338h2M344 339h3M376 339h5M384 339h18M404 339h36M446 339h2M450 339h26M344 340h3M376 340h6M384 340h12M398 340h3M405 340h24M431 340h7M445 340h3M450 340h29M345 341h3M375 341h26M407 341h29M441 341h6M451 341h16M470 341h11M344 342h4M375 342h26M404 342h27M435 342h2M440 342h8M456 342h21M480 342h1M343 343h6M376 343h25M405 343h7M415 343h14M434 343h3M441 343h35M478 343h6M344 344h6M376 344h19M404 344h7M416 344h14M436 344h1M440 344h5M452 344h25M478 344h5M344 345h5M372 345h5M378 345h17M399 345h2M404 345h9M414 345h18M440 345h30M480 345h1M344 346h3M370 346h31M408 346h5M414 346h15M441 346h29M345 347h6M374 347h7M383 347h12M406 347h6M414 347h16M435 347h5M451 347h21M474 347h8M345 348h7M374 348h7M384 348h18M406 348h2M410 348h4M417 348h55M473 348h10M345 349h6M369 349h33M409 349h5M419 349h14M434 349h4M439 349h30M472 349h13M345 350h5M368 350h3M373 350h28M406 350h31M439 350h31M472 350h12M346 351h4M377 351h8M387 351h14M405 351h3M413 351h19M445 351h38M346 352h4M383 352h12M399 352h2M404 352h2M418 352h13M442 352h5M449 352h24M347 353h4M383 353h13M401 353h1M404 353h4M410 353h5M417 353h52M347 354h6M379 354h2M386 354h11M405 354h70M477 354h5M347 355h8M380 355h17M404 355h71M477 355h4M349 356h5M380 356h16M399 356h3M404 356h5M410 356h62M474 356h10M350 357h1M383 357h14M398 357h4M404 357h68M476 357h7M349 358h6M385 358h17M404 358h37M446 358h17M465 358h8M479 358h4M348 359h7M379 359h6M386 359h15M404 359h38M446 359h17M465 359h5M471 359h12M349 360h7M379 360h21M404 360h7M414 360h20M440 360h25M474 360h8M351 361h5M382 361h19M404 361h7M414 361h19M438 361h28M468 361h6M477 361h7M351 362h5M382 362h3M387 362h15M405 362h20M427 362h17M447 362h29M477 362h7M351 363h5M375 363h4M381 363h21M405 363h20M428 363h18M447 363h22M475 363h8M351 364h6M381 364h21M405 364h41M447 364h21M351 365h5M376 365h4M383 365h14M399 365h3M405 365h5M413 365h17M434 365h3M441 365h4M450 365h17M351 366h8M378 366h24M413 366h14M434 366h4M439 366h23M464 366h3M354 367h2M358 367h1M379 367h17M399 367h2M413 367h19M434 367h26M462 367h6M469 367h5M353 368h3M357 368h2M379 368h4M386 368h9M408 368h23M434 368h4M439 368h3M443 368h33M353 369h5M378 369h5M385 369h10M405 369h5M412 369h21M435 369h3M441 369h36M352 370h6M376 370h6M384 370h9M396 370h6M405 370h33M442 370h21M467 370h8M353 371h2M377 371h25M405 371h21M431 371h6M440 371h21M469 371h2M353 372h6M378 372h21M405 372h5M413 372h11M432 372h5M441 372h19M467 372h1M353 373h6M373 373h10M387 373h12M404 373h22M434 373h3M441 373h28M353 374h5M375 374h27M405 374h2M410 374h3M416 374h10M434 374h10M446 374h18M472 374h1M355 375h2M371 375h9M384 375h17M405 375h1M409 375h4M415 375h9M431 375h10M445 375h20M470 375h6M356 376h2M370 376h10M385 376h4M390 376h10M406 376h7M415 376h12M430 376h6M439 376h27M469 376h5M476 376h3M356 377h4M371 377h6M379 377h2M385 377h9M398 377h4M405 377h5M411 377h3M415 377h42M458 377h7M470 377h1M472 377h4M481 377h2M356 378h3M369 378h1M372 378h24M397 378h4M405 378h2M412 378h12M428 378h32M373 379h17M392 379h8M410 379h5M417 379h7M428 379h8M443 379h17M376 380h14M394 380h7M410 380h4M417 380h3M422 380h2M427 380h8M438 380h23M467 380h4M372 381h5M378 381h20M410 381h18M430 381h32M463 381h8M473 381h5M374 382h12M388 382h3M393 382h5M411 382h26M442 382h25M473 382h9M381 383h4M389 383h1M393 383h3M413 383h16M433 383h23M458 383h3M463 383h5M473 383h9M380 384h4M388 384h2M393 384h4M416 384h8M440 384h15M476 384h4M377 385h7M390 385h10M415 385h8M441 385h11M471 385h1M395 386h3M416 386h5M422 386h2M430 386h5M441 386h15M471 386h5M417 387h7M433 387h2M439 387h19M464 387h3M470 387h9M388 388h2M416 388h2M439 388h30M471 388h9M388 389h3M415 389h6M432 389h1M442 389h27M470 389h11M389 390h12M430 390h1M440 390h18M461 390h2M474 390h2M393 391h1M397 391h4M439 391h9M397 392h3M430 392h1M443 392h2M444 394h1" stroke="#42be71"/><path d="M473 306h2M473 307h2M430 308h1M472 308h2M430 309h2M470 309h4M429 310h3M469 310h5M428 311h5M470 311h4M426 312h7M470 312h5M426 313h6M469 313h5M425 314h2M428 314h4M468 314h6M426 315h9M468 315h6M426 316h8M467 316h7M426 317h5M464 317h10M427 318h4M465 318h9M426 319h6M464 319h10M382 320h4M427 320h6M464 320h10M384 321h4M426 321h7M463 321h10M383 322h2M427 322h7M464 322h9M382 323h3M387 323h1M423 323h8M433 323h2M464 323h9M382 324h8M422 324h14M463 324h10M383 325h3M388 325h2M422 325h10M462 325h8M382 326h2M388 326h4M419 326h10M460 326h3M465 326h6M339 327h2M379 327h6M387 327h6M419 327h13M465 327h6M339 328h2M382 328h2M386 328h6M419 328h2M423 328h8M462 328h7M339 329h2M382 329h11M418 329h3M425 329h5M453 329h3M462 329h8M471 329h1M340 330h2M381 330h8M391 330h4M396 330h2M426 330h3M453 330h4M463 330h8M340 331h2M384 331h4M391 331h4M425 331h6M452 331h5M462 331h9M380 332h8M390 332h4M418 332h12M452 332h20M341 333h2M380 333h7M419 333h3M423 333h9M454 333h22M341 334h2M384 334h9M422 334h10M452 334h22M476 334h4M342 335h2M381 335h15M417 335h11M430 335h1M457 335h23M342 336h2M381 336h17M420 336h8M459 336h22M343 337h1M382 337h19M405 337h2M410 337h1M420 337h8M453 337h19M473 337h4M478 337h2M344 338h1M383 338h18M405 338h9M419 338h8M428 338h3M452 338h4M458 338h17M344 339h1M385 339h12M405 339h11M417 339h10M452 339h1M456 339h14M345 340h1M379 340h2M385 340h11M399 340h1M408 340h20M446 340h1M454 340h1M458 340h10M345 341h2M379 341h22M408 341h22M444 341h2M453 341h3M457 341h9M471 341h4M345 342h1M379 342h22M405 342h24M445 342h1M457 342h12M473 342h2M344 343h3M379 343h16M409 343h2M416 343h12M449 343h1M453 343h22M345 344h3M380 344h14M405 344h2M417 344h10M452 344h18M472 344h3M345 345h3M379 345h12M415 345h14M447 345h2M451 345h18M377 346h16M418 346h1M422 346h5M448 346h1M452 346h11M346 347h3M377 347h4M384 347h9M420 347h9M454 347h13M346 348h4M378 348h2M385 348h9M420 348h9M448 348h19M474 348h2M347 349h2M380 349h3M384 349h10M420 349h7M428 349h2M449 349h19M473 349h5M346 350h3M380 350h1M386 350h7M394 350h1M420 350h10M448 350h22M472 350h5M347 351h2M387 351h5M420 351h10M453 351h12M467 351h8M347 352h2M384 352h10M419 352h11M444 352h1M450 352h16M348 353h2M384 353h10M419 353h14M444 353h19M465 353h2M348 354h3M387 354h7M409 354h2M418 354h20M442 354h26M471 354h3M348 355h4M387 355h9M405 355h3M410 355h1M418 355h23M445 355h23M471 355h1M349 356h3M385 356h11M400 356h1M405 356h2M411 356h3M416 356h18M436 356h6M444 356h27M475 356h4M385 357h11M400 357h1M405 357h3M417 357h26M444 357h27M350 358h2M386 358h15M405 358h3M413 358h15M430 358h7M439 358h2M448 358h15M466 358h1M349 359h5M387 359h6M394 359h6M405 359h7M414 359h21M439 359h1M447 359h15M350 360h4M386 360h13M405 360h5M415 360h17M442 360h22M351 361h4M384 361h10M397 361h3M405 361h5M416 361h15M440 361h4M447 361h18M351 362h4M387 362h14M406 362h4M414 362h11M428 362h2M431 362h1M448 362h22M351 363h4M383 363h17M406 363h4M412 363h12M429 363h2M448 363h20M352 364h3M383 364h14M407 364h6M416 364h13M448 364h14M352 365h3M384 365h4M390 365h5M414 365h13M451 365h10M353 366h3M383 366h12M413 366h5M419 366h7M445 366h1M449 366h11M386 367h9M414 367h4M419 367h7M445 367h11M457 367h2M353 368h2M387 368h8M414 368h12M445 368h23M354 369h3M386 369h8M415 369h11M446 369h25M353 370h4M386 370h3M390 370h3M398 370h2M408 370h1M414 370h11M443 370h20M468 370h1M385 371h16M406 371h2M412 371h12M442 371h18M354 372h3M387 372h11M414 372h10M442 372h17M354 373h4M387 373h11M410 373h14M442 373h18M355 374h2M385 374h16M416 374h9M448 374h15M385 375h15M417 375h6M446 375h18M375 376h2M385 376h3M391 376h5M418 376h7M432 376h3M443 376h13M459 376h5M357 377h2M386 377h3M391 377h2M398 377h2M416 377h9M432 377h4M441 377h15M384 378h2M413 378h8M430 378h8M442 378h11M385 379h4M392 379h3M417 379h4M433 379h1M444 379h11M387 380h1M417 380h3M440 380h3M444 380h10M416 381h6M441 381h3M445 381h12M458 381h2M414 382h8M444 382h13M459 382h2M463 382h1M416 383h5M441 383h14M416 384h5M442 384h10M416 385h4M442 385h8M417 386h3M442 386h10M417 387h2M441 387h16M441 388h18M416 389h2M443 389h15M443 390h6M450 390h3M442 391h5" stroke="#54c568"/><path d="M473 307h1M472 308h2M471 309h3M430 310h1M471 310h3M430 311h2M470 311h4M429 312h3M470 312h4M429 313h3M470 313h4M429 314h3M469 314h4M428 315h4M468 315h5M428 316h3M468 316h5M428 317h3M467 317h5M428 318h2M467 318h5M427 319h4M466 319h6M427 320h4M466 320h6M427 321h4M466 321h6M427 322h4M466 322h5M426 323h4M465 323h6M383 324h2M427 324h4M465 324h6M384 325h1M425 325h5M465 325h4M424 326h1M426 326h3M465 326h5M382 327h2M427 327h3M465 327h5M387 328h1M424 328h6M464 328h4M383 329h5M426 329h3M463 329h6M383 330h5M426 330h2M463 330h6M385 331h3M426 331h3M463 331h7M383 332h4M425 332h4M459 332h11M384 333h2M424 333h5M457 333h13M384 334h3M424 334h5M456 334h12M383 335h8M421 335h7M458 335h10M386 336h5M423 336h5M459 336h18M383 337h9M421 337h6M459 337h12M474 337h2M384 338h6M420 338h7M460 338h9M385 339h9M419 339h8M458 339h8M385 340h9M417 340h6M424 340h3M459 340h6M382 341h10M418 341h4M423 341h5M458 341h8M383 342h9M418 342h10M457 342h11M345 343h1M386 343h6M419 343h8M455 343h15M472 343h2M386 344h6M420 344h6M453 344h1M455 344h13M382 345h8M423 345h4M453 345h11M383 346h8M423 346h4M454 346h8M385 347h6M423 347h3M455 347h10M347 348h1M386 348h5M422 348h4M455 348h11M386 349h4M422 349h4M452 349h15M347 350h1M387 350h4M422 350h4M452 350h17M348 351h1M388 351h3M421 351h6M454 351h10M387 352h5M421 352h6M453 352h9M387 353h5M421 353h6M451 353h11M349 354h1M388 354h3M421 354h4M426 354h2M451 354h15M349 355h2M388 355h3M420 355h8M452 355h15M350 356h1M387 356h5M421 356h6M449 356h21M387 357h5M420 357h8M453 357h10M388 358h4M418 358h9M452 358h10M350 359h3M389 359h3M418 359h10M449 359h10M350 360h3M388 360h4M418 360h9M449 360h12M352 361h2M388 361h4M418 361h9M448 361h15M352 362h2M388 362h5M417 362h7M449 362h15M352 363h2M387 363h7M417 363h7M449 363h13M352 364h2M390 364h4M418 364h6M450 364h11M352 365h2M390 365h3M417 365h7M451 365h7M353 366h1M389 366h4M420 366h5M451 366h6M389 367h4M419 367h5M448 367h7M390 368h4M418 368h5M447 368h9M355 369h1M390 369h3M417 369h6M447 369h17M354 370h2M391 370h1M418 370h5M446 370h16M418 371h4M446 371h12M389 372h7M418 372h4M445 372h8M454 372h2M356 373h1M389 373h7M417 373h5M444 373h13M389 374h5M396 374h1M417 374h5M448 374h8M391 375h5M418 375h3M446 375h11M459 375h3M418 376h3M444 376h12M459 376h2M417 377h4M443 377h10M416 378h4M444 378h8M418 379h2M444 379h8M418 380h1M445 380h8M417 381h3M446 381h9M417 382h3M445 382h11M417 383h2M444 383h10M417 384h2M443 384h7M417 385h2M444 385h5M417 386h1M443 386h7M443 387h10M444 388h7M454 388h1M444 389h4M449 389h3M444 390h4M444 391h1" stroke="#67cc5c"/><path d="M472 309h1M471 310h2M471 311h2M430 312h1M470 312h3M429 313h2M470 313h3M429 314h2M470 314h3M429 315h2M469 315h3M429 316h2M469 316h3M428 317h2M468 317h4M428 318h2M468 318h4M428 319h2M467 319h4M428 320h2M467 320h4M428 321h2M467 321h4M428 322h2M466 322h4M427 323h3M466 323h4M427 324h3M466 324h4M427 325h2M466 325h3M427 326h1M466 326h3M427 327h2M466 327h3M426 328h3M464 328h4M384 329h2M427 329h1M464 329h4M384 330h2M426 330h2M464 330h4M426 331h2M463 331h5M426 332h2M461 332h7M425 333h3M460 333h8M385 334h2M425 334h3M460 334h7M384 335h4M424 335h4M460 335h7M424 336h3M460 336h10M384 337h5M424 337h3M460 337h9M385 338h4M424 338h3M461 338h5M386 339h3M424 339h3M460 339h5M386 340h3M424 340h3M460 340h4M385 341h5M424 341h3M459 341h6M385 342h5M423 342h4M459 342h8M387 343h1M423 343h3M457 343h11M386 344h3M424 344h2M457 344h9M386 345h3M423 345h3M456 345h7M386 346h3M423 346h3M456 346h6M423 347h3M456 347h7M387 348h2M423 348h2M456 348h9M387 349h2M422 349h3M456 349h10M388 350h2M422 350h3M455 350h12M388 351h2M422 351h3M455 351h8M388 352h2M422 352h3M456 352h5M388 353h2M422 353h3M454 353h7M388 354h2M421 354h4M453 354h8M389 355h1M421 355h4M454 355h9M388 356h3M421 356h4M453 356h9M389 357h2M421 357h4M453 357h9M389 358h2M420 358h5M453 358h7M351 359h1M420 359h5M453 359h5M351 360h1M389 360h2M420 360h5M451 360h8M389 361h2M420 361h4M451 361h9M389 362h2M420 362h4M451 362h11M390 363h2M419 363h4M451 363h10M390 364h2M419 364h4M451 364h6M391 365h1M420 365h3M452 365h5M391 366h1M420 366h3M451 366h5M391 367h1M420 367h3M450 367h5M391 368h1M419 368h4M449 368h6M419 369h3M449 369h9M460 369h1M419 370h3M449 370h10M419 371h2M448 371h7M391 372h2M419 372h2M447 372h6M391 373h3M418 373h3M447 373h6M454 373h1M418 374h3M449 374h4M418 375h2M447 375h9M419 376h1M446 376h9M418 377h3M446 377h6M417 378h3M446 378h5M418 379h2M446 379h5M418 380h1M446 380h6M417 381h3M446 381h6M417 382h3M446 382h5M453 382h1M418 383h1M445 383h6M445 384h5M417 385h1M445 385h4M444 386h5M444 387h5M445 388h4M445 389h2M445 390h2" stroke="#7cd250"/><path d="M472 310h1M471 311h2M471 312h2M430 313h1M471 313h1M430 314h1M470 314h2M469 315h3M429 316h1M469 316h2M429 317h1M469 317h2M429 318h1M468 318h3M429 319h1M468 319h3M428 320h2M468 320h2M428 321h2M467 321h3M428 322h2M467 322h3M428 323h1M467 323h3M428 324h1M466 324h3M427 325h2M466 325h2M466 326h3M427 327h2M466 327h2M427 328h2M465 328h2M465 329h2M427 330h1M464 330h4M426 331h2M464 331h3M426 332h2M462 332h5M426 333h2M462 333h5M425 334h3M462 334h5M425 335h2M462 335h4M425 336h2M461 336h7M385 337h2M425 337h2M461 337h6M386 338h2M425 338h1M461 338h4M386 339h2M425 339h1M461 339h3M386 340h2M425 340h2M460 340h4M386 341h2M424 341h3M460 341h4M386 342h2M424 342h3M460 342h5M424 343h2M460 343h4M387 344h1M424 344h1M458 344h6M387 345h1M424 345h2M458 345h4M387 346h1M423 346h3M457 346h4M424 347h1M457 347h5M423 348h2M457 348h6M388 349h1M423 349h2M457 349h6M423 350h2M456 350h7M423 351h2M456 351h5M422 352h3M457 352h3M422 353h3M455 353h5M422 354h2M455 354h5M422 355h2M455 355h7M389 356h1M422 356h2M454 356h7M421 357h3M454 357h6M421 358h3M454 358h5M421 359h3M453 359h5M421 360h3M452 360h6M420 361h3M452 361h7M421 362h2M452 362h8M420 363h3M452 363h6M420 364h3M452 364h5M420 365h3M452 365h4M420 366h2M452 366h3M420 367h2M451 367h4M420 368h2M450 368h5M419 369h3M450 369h6M419 370h3M450 370h6M419 371h2M449 371h6M419 372h2M448 372h5M419 373h2M448 373h4M418 374h3M449 374h4M419 375h1M448 375h5M419 376h1M448 376h6M418 377h2M447 377h5M418 378h2M447 378h4M418 379h1M447 379h4M447 380h4M418 381h1M446 381h5M418 382h1M446 382h4M446 383h4M445 384h4M445 385h4M445 386h3M445 387h3M445 388h3M446 389h1M445 390h1" stroke="#93d741"/><path d="M471 312h1M471 313h1M470 315h1M470 316h1M469 317h2M469 318h1M469 319h1M468 320h2M468 321h2M428 322h1M467 322h2M428 323h1M467 323h2M467 324h2M427 325h2M467 325h1M466 326h2M466 327h2M427 328h1M465 328h2M465 329h2M464 330h3M427 331h1M464 331h3M426 332h1M463 332h4M426 333h2M463 333h3M426 334h1M462 334h4M425 335h2M462 335h3M425 336h2M462 336h4M425 337h2M462 337h4M462 338h3M425 339h1M461 339h3M425 340h1M461 340h2M424 341h2M460 341h4M424 342h2M461 342h3M424 343h2M460 343h4M459 344h4M424 345h1M458 345h4M424 346h1M458 346h3M424 347h1M458 347h4M424 348h1M458 348h4M423 349h2M457 349h5M423 350h2M457 350h5M423 351h1M457 351h4M423 352h1M457 352h3M422 353h2M456 353h4M422 354h2M456 354h4M422 355h2M455 355h5M422 356h2M455 356h5M422 357h2M454 357h5M421 358h3M454 358h4M421 359h2M454 359h3M421 360h2M453 360h5M421 361h2M453 361h5M421 362h2M453 362h5M420 363h3M452 363h5M420 364h2M452 364h4M420 365h2M453 365h2M420 366h2M452 366h3M420 367h2M452 367h2M420 368h2M451 368h3M420 369h1M450 369h5M419 370h2M450 370h5M419 371h2M450 371h4M419 372h2M449 372h3M419 373h2M449 373h3M419 374h1M449 374h4M419 375h1M448 375h5M449 376h4M419 377h1M448 377h4M418 378h1M448 378h3M447 379h3M447 380h4M418 381h1M447 381h4M418 382h1M447 382h3M446 383h4M446 384h3M446 385h2M445 386h3M445 387h3M446 388h1" stroke="#addc30"/><path d="M468 322h1M468 323h1M467 324h1M466 328h1M465 330h2M465 331h1M464 332h2M426 333h1M463 333h3M426 334h1M463 334h3M426 335h1M463 335h2M426 336h1M462 336h4M462 337h3M462 338h2M461 339h2M425 340h1M461 340h2M425 341h1M461 341h2M424 342h2M461 342h3M424 343h1M460 343h3M459 344h4M424 345h1M459 345h3M424 346h1M459 346h2M458 347h3M458 348h4M423 349h1M458 349h4M423 350h1M457 350h4M423 351h1M457 351h3M423 352h1M458 352h1M423 353h1M457 353h2M422 354h2M456 354h3M422 355h2M456 355h4M422 356h1M455 356h5M422 357h1M455 357h4M422 358h1M455 358h3M422 359h1M454 359h3M421 360h2M454 360h3M421 361h2M454 361h3M421 362h1M453 362h4M421 363h1M453 363h4M421 364h1M453 364h3M421 365h1M453 365h2M421 366h1M453 366h1M452 367h2M420 368h1M451 368h3M420 369h1M451 369h3M420 370h1M450 370h4M420 371h1M450 371h4M450 372h2M419 373h1M450 373h2M419 374h1M450 374h2M449 375h3M449 376h3M449 377h2M448 378h3M448 379h2M447 380h3M447 381h3M447 382h3M447 383h2M446 384h3M446 385h2M446 386h1M446 387h1" stroke="#c5e021"/><path d="M465 330h1M465 331h1M464 332h2M464 333h1M463 334h2M463 335h2M463 336h2M463 337h2M462 338h2M462 339h1M461 340h2M425 341h1M461 341h2M425 342h1M461 342h2M461 343h2M460 344h2M459 345h2M459 346h2M459 347h2M459 348h2M458 349h3M458 350h3M458 351h2M423 352h1M423 353h1M457 353h1M423 354h1M457 354h2M456 355h3M456 356h3M422 357h1M455 357h3M422 358h1M455 358h2M422 359h1M454 359h3M454 360h3M421 361h1M454 361h3M421 362h1M454 362h3M421 363h1M453 363h3M421 364h1M453 364h3M421 365h1M453 365h2M453 366h1M452 368h2M420 369h1M451 369h3M420 370h1M451 370h3M450 371h3M451 372h1M450 373h1M450 374h2M449 375h3M450 376h2M449 377h2M448 378h2M448 379h2M448 380h2M448 381h2M447 382h3M447 383h2M447 384h1M446 386h1M446 387h1" stroke="#dde318"/><path d="M464 333h1M464 334h1M463 336h2M463 337h1M462 339h1M461 341h2M461 342h2M461 343h2M460 344h2M460 345h1M459 346h1M459 347h2M459 348h2M458 349h3M458 350h2M458 351h1M457 354h2M456 355h3M456 356h3M455 357h3M422 358h1M455 358h2M455 359h2M454 360h3M454 361h3M454 362h2M453 363h3M453 364h2M453 365h1M453 366h1M452 368h2M451 369h3M451 370h3M451 371h2M450 374h2M450 375h2M450 376h2M449 377h2M449 378h1M448 380h1M448 381h1M448 382h1M447 383h2M447 384h1" stroke="#f4e61e"/></g>
<rect x="324.50" y="302.19" width="43.00" height="89.38" fill="none" stroke="#fff" stroke-width="1.25" stroke-dasharray="2.3 1.8"/>
<text x="346.01" y="400.17" font-size="7.20" text-anchor="middle" fill="#f4f6f4" font-style="italic">A<tspan font-size="4.90" dy="1.30" font-style="normal">0,ref</tspan></text>
<rect x="371.39" y="302.19" width="22.78" height="89.38" fill="none" stroke="#fff" stroke-width="1.25" stroke-dasharray="2.3 1.8"/>
<text x="382.77" y="400.17" font-size="7.20" text-anchor="middle" fill="#f4f6f4" font-style="italic">S<tspan font-size="4.90" dy="1.30" font-style="normal">0,ref</tspan></text>
<rect x="412.04" y="302.19" width="22.07" height="89.38" fill="none" stroke="#fff" stroke-width="1.25" stroke-dasharray="2.3 1.8"/>
<text x="423.07" y="400.17" font-size="7.20" text-anchor="middle" fill="#f4f6f4" font-style="italic">S<tspan font-size="4.90" dy="1.30" font-style="normal">0,inc</tspan></text>
<rect x="438.62" y="302.19" width="42.96" height="89.38" fill="none" stroke="#fff" stroke-width="1.25" stroke-dasharray="2.3 1.8"/>
<text x="460.10" y="400.17" font-size="7.20" text-anchor="middle" fill="#f4f6f4" font-style="italic">A<tspan font-size="4.90" dy="1.30" font-style="normal">0,inc</tspan></text>
<text x="302.70" y="465.30" font-size="7.20" text-anchor="end" fill="#444">0</text>
<text x="302.70" y="446.08" font-size="7.20" text-anchor="end" fill="#444">0.5</text>
<text x="302.70" y="426.86" font-size="7.20" text-anchor="end" fill="#444">1</text>
<text x="302.70" y="407.63" font-size="7.20" text-anchor="end" fill="#444">1.5</text>
<text x="302.70" y="388.41" font-size="7.20" text-anchor="end" fill="#444">2</text>
<text x="302.70" y="369.19" font-size="7.20" text-anchor="end" fill="#444">2.5</text>
<text x="302.70" y="349.97" font-size="7.20" text-anchor="end" fill="#444">3</text>
<text x="302.70" y="330.74" font-size="7.20" text-anchor="end" fill="#444">3.5</text>
<text x="302.70" y="311.52" font-size="7.20" text-anchor="end" fill="#444">4</text>
<text x="302.70" y="292.30" font-size="7.20" text-anchor="end" fill="#444">4.5</text>
<text x="307.90" y="470.10" font-size="7.20" text-anchor="middle" fill="#444">−250</text>
<text x="326.96" y="470.10" font-size="7.20" text-anchor="middle" fill="#444">−200</text>
<text x="346.02" y="470.10" font-size="7.20" text-anchor="middle" fill="#444">−150</text>
<text x="365.08" y="470.10" font-size="7.20" text-anchor="middle" fill="#444">−100</text>
<text x="384.14" y="470.10" font-size="7.20" text-anchor="middle" fill="#444">−50</text>
<text x="403.20" y="470.10" font-size="7.20" text-anchor="middle" fill="#444">0</text>
<text x="422.26" y="470.10" font-size="7.20" text-anchor="middle" fill="#444">50</text>
<text x="441.32" y="470.10" font-size="7.20" text-anchor="middle" fill="#444">100</text>
<text x="460.38" y="470.10" font-size="7.20" text-anchor="middle" fill="#444">150</text>
<text x="479.44" y="470.10" font-size="7.20" text-anchor="middle" fill="#444">200</text>
<text x="498.50" y="470.10" font-size="7.20" text-anchor="middle" fill="#444">250</text>
<text x="305.70" y="287.30" font-size="7.20" text-anchor="start" fill="#444">·10<tspan font-size="5.00" dy="-2.60">5</tspan></text>
<text x="403.20" y="480.90" font-size="7.40" text-anchor="middle" fill="#444">k<tspan font-size="5.20" dy="1.20" font-style="normal">x</tspan><tspan dy="-1.2"> [1/m]</tspan></text>
<text transform="translate(283.40,376.00) rotate(-90)" font-size="7.4" fill="#444" text-anchor="middle">f [Hz]</text>
<linearGradient id="cb305_289" x1="0" y1="0" x2="0" y2="1"><stop offset="0.000" stop-color="#fde725"/><stop offset="0.062" stop-color="#d8e219"/><stop offset="0.125" stop-color="#addc30"/><stop offset="0.188" stop-color="#84d44b"/><stop offset="0.250" stop-color="#5ec962"/><stop offset="0.312" stop-color="#3fbc73"/><stop offset="0.375" stop-color="#28ae80"/><stop offset="0.438" stop-color="#1fa088"/><stop offset="0.500" stop-color="#21918c"/><stop offset="0.562" stop-color="#26828e"/><stop offset="0.625" stop-color="#2c728e"/><stop offset="0.688" stop-color="#33638d"/><stop offset="0.750" stop-color="#3b528b"/><stop offset="0.812" stop-color="#424086"/><stop offset="0.875" stop-color="#472d7b"/><stop offset="0.938" stop-color="#48186a"/><stop offset="1.000" stop-color="#440154"/></linearGradient>
<rect x="511.50" y="289.50" width="10.20" height="173.00" fill="url(#cb305_289)" stroke="#000" stroke-opacity="0.4" stroke-width="0.35"/>
<text x="524.10" y="294.80" font-size="7.20" text-anchor="start" fill="#444">10<tspan font-size="5.40" dy="-3.10">1</tspan></text>
<text x="524.10" y="322.65" font-size="7.20" text-anchor="start" fill="#444">10<tspan font-size="5.40" dy="-3.10">0</tspan></text>
<text x="524.10" y="350.50" font-size="7.20" text-anchor="start" fill="#444">10<tspan font-size="5.40" dy="-3.10">−1</tspan></text>
<text x="524.10" y="378.35" font-size="7.20" text-anchor="start" fill="#444">10<tspan font-size="5.40" dy="-3.10">−2</tspan></text>
<text x="524.10" y="406.20" font-size="7.20" text-anchor="start" fill="#444">10<tspan font-size="5.40" dy="-3.10">−3</tspan></text>
<text x="524.10" y="434.05" font-size="7.20" text-anchor="start" fill="#444">10<tspan font-size="5.40" dy="-3.10">−4</tspan></text>
<text x="524.10" y="461.90" font-size="7.20" text-anchor="start" fill="#444">10<tspan font-size="5.40" dy="-3.10">−5</tspan></text>
<text x="509.70" y="281.70" font-size="6.90" text-anchor="start" fill="#444">Mag.</text>
<text x="5.20" y="260.00" font-size="12.30" text-anchor="start" fill="#111" font-weight="bold">(a)</text>
<text x="275.70" y="260.00" font-size="12.30" text-anchor="start" fill="#111" font-weight="bold">(b)</text>
<text x="5.20" y="504.50" font-size="12.30" text-anchor="start" fill="#111" font-weight="bold">(c)</text>
<text x="275.70" y="504.50" font-size="12.30" text-anchor="start" fill="#111" font-weight="bold">(d)</text>
</svg>
</body></html>
